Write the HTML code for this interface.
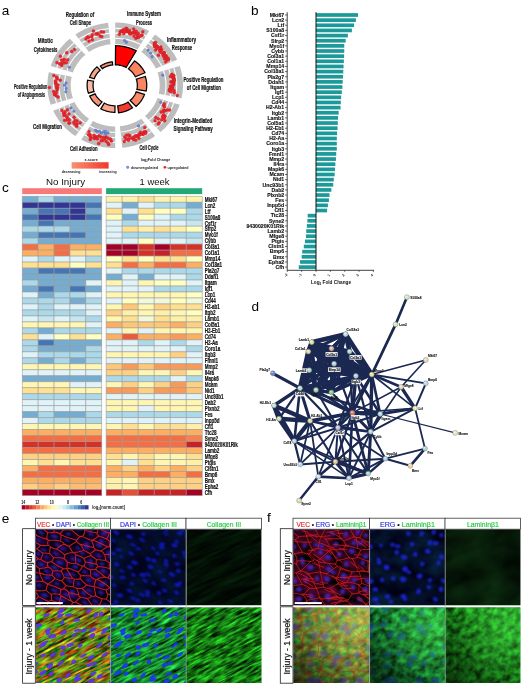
<!DOCTYPE html>
<html lang="en">
<head>
<meta charset="utf-8">
<title>Figure</title>
<style>
html,body{margin:0;padding:0;background:#fff;}
body{width:522px;height:685px;overflow:hidden;font-family:'Liberation Sans', 'DejaVu Sans', sans-serif;}
svg{display:block;}
svg text{font-family:'Liberation Sans', 'DejaVu Sans', sans-serif;}
</style>
</head>
<body>
<svg width="522" height="685" viewBox="0 0 522 685">
<rect x="0" y="0" width="522" height="685" fill="#ffffff"/>
<g id="panel-a">
<text x="1.70" y="14.70" font-size="13.6" text-anchor="start" fill="#000">a</text>
<path d="M115.20,22.50 L118.16,22.56 L121.11,22.74 L124.05,23.04 L126.98,23.45 L129.88,23.99 L132.75,24.64 L135.60,25.41 L138.40,26.29 L141.16,27.28 L143.86,28.38 L146.52,29.60 L149.11,30.91 L137.45,49.62 L135.75,48.76 L134.00,47.96 L132.23,47.24 L130.42,46.58 L128.58,46.01 L126.72,45.50 L124.83,45.08 L122.93,44.73 L121.01,44.45 L119.08,44.26 L117.14,44.14 L115.20,44.10Z" fill="#bdbdbd"/>
<path d="M115.20,38.30 L117.41,38.34 L119.62,38.48 L121.83,38.70 L124.01,39.01 L126.19,39.41 L128.34,39.90 L130.46,40.48 L132.56,41.13 L134.63,41.88 L136.65,42.70 L138.64,43.61 L140.58,44.60" fill="none" stroke="#ffffff" stroke-width="1.1"/>
<path d="M115.20,33.10 L117.66,33.15 L120.11,33.30 L122.56,33.55 L124.99,33.89 L127.40,34.34 L129.79,34.88 L132.15,35.52 L134.48,36.25 L136.77,37.07 L139.03,37.99 L141.23,39.00 L143.39,40.09" fill="none" stroke="#ffffff" stroke-width="1.1"/>
<path d="M115.20,28.30 L117.89,28.35 L120.57,28.52 L123.24,28.79 L125.89,29.17 L128.52,29.65 L131.13,30.24 L133.71,30.94 L136.25,31.74 L138.76,32.64 L141.22,33.64 L143.63,34.74 L145.98,35.94" fill="none" stroke="#ffffff" stroke-width="1.1"/>
<path d="M115.57,45.70 L117.38,45.75 L119.18,45.87 L120.97,46.06 L122.75,46.32 L124.52,46.65 L126.27,47.05 L128.00,47.52 L129.71,48.05 L131.39,48.65 L133.05,49.31 L134.67,50.04 L136.26,50.83 L126.10,67.46 L125.28,67.05 L124.44,66.67 L123.58,66.33 L122.71,66.02 L121.83,65.74 L120.93,65.50 L120.02,65.29 L119.11,65.12 L118.19,64.99 L117.26,64.89 L116.33,64.83 L115.39,64.80Z" fill="#ff0000" stroke="#000" stroke-width="1.25" stroke-linejoin="miter"/>
<path d="M155.07,34.49 L157.42,36.15 L159.70,37.90 L161.89,39.75 L163.99,41.68 L166.00,43.69 L167.91,45.78 L169.72,47.95 L171.43,50.18 L173.03,52.49 L174.52,54.85 L175.90,57.28 L177.16,59.76 L155.85,68.54 L155.02,66.92 L154.12,65.33 L153.14,63.77 L152.09,62.26 L150.97,60.79 L149.78,59.37 L148.53,58.00 L147.21,56.68 L145.83,55.41 L144.39,54.21 L142.90,53.06 L141.35,51.97Z" fill="#bdbdbd"/>
<path d="M145.04,47.28 L146.80,48.52 L148.50,49.83 L150.14,51.21 L151.71,52.65 L153.22,54.16 L154.65,55.72 L156.00,57.34 L157.28,59.02 L158.48,60.74 L159.60,62.51 L160.63,64.33 L161.57,66.18" fill="none" stroke="#ffffff" stroke-width="1.1"/>
<path d="M148.34,43.07 L150.29,44.45 L152.19,45.90 L154.01,47.44 L155.75,49.04 L157.42,50.71 L159.01,52.45 L160.52,54.25 L161.94,56.11 L163.27,58.03 L164.51,59.99 L165.65,62.01 L166.70,64.07" fill="none" stroke="#ffffff" stroke-width="1.1"/>
<path d="M151.38,39.19 L153.52,40.69 L155.59,42.28 L157.58,43.95 L159.48,45.70 L161.31,47.53 L163.04,49.43 L164.69,51.40 L166.24,53.43 L167.69,55.52 L169.04,57.67 L170.29,59.87 L171.44,62.12" fill="none" stroke="#ffffff" stroke-width="1.1"/>
<path d="M134.66,60.94 L135.76,61.72 L136.81,62.55 L137.83,63.41 L138.81,64.32 L139.74,65.26 L140.63,66.23 L141.48,67.24 L142.28,68.28 L143.03,69.36 L143.73,70.46 L144.38,71.58 L144.98,72.73 L135.35,76.80 L134.94,76.02 L134.50,75.26 L134.03,74.51 L133.52,73.79 L132.98,73.08 L132.41,72.40 L131.80,71.74 L131.17,71.10 L130.51,70.49 L129.82,69.91 L129.11,69.35 L128.37,68.82Z" fill="#f9825f" stroke="#000" stroke-width="1.25" stroke-linejoin="miter"/>
<path d="M179.70,65.89 L180.56,68.52 L181.29,71.17 L181.89,73.86 L182.36,76.56 L182.71,79.28 L182.93,82.01 L183.02,84.75 L182.98,87.49 L182.81,90.23 L182.52,92.95 L182.09,95.66 L181.54,98.36 L158.72,93.87 L159.09,92.10 L159.36,90.32 L159.56,88.53 L159.67,86.74 L159.69,84.94 L159.64,83.14 L159.49,81.35 L159.26,79.57 L158.95,77.79 L158.56,76.03 L158.08,74.29 L157.52,72.57Z" fill="#bdbdbd"/>
<path d="M163.48,70.78 L164.11,72.74 L164.66,74.73 L165.11,76.73 L165.47,78.76 L165.73,80.80 L165.89,82.84 L165.96,84.89 L165.93,86.94 L165.80,88.99 L165.58,91.03 L165.26,93.06 L164.85,95.07" fill="none" stroke="#ffffff" stroke-width="1.1"/>
<path d="M168.82,69.17 L169.53,71.35 L170.13,73.56 L170.63,75.79 L171.03,78.04 L171.32,80.30 L171.50,82.57 L171.57,84.84 L171.54,87.12 L171.40,89.40 L171.16,91.66 L170.80,93.92 L170.34,96.15" fill="none" stroke="#ffffff" stroke-width="1.1"/>
<path d="M173.75,67.69 L174.52,70.07 L175.18,72.48 L175.73,74.91 L176.16,77.37 L176.48,79.84 L176.68,82.32 L176.76,84.80 L176.72,87.29 L176.57,89.77 L176.30,92.25 L175.92,94.71 L175.41,97.15" fill="none" stroke="#ffffff" stroke-width="1.1"/>
<path d="M145.28,76.52 L145.65,77.70 L145.97,78.90 L146.23,80.10 L146.44,81.32 L146.60,82.54 L146.69,83.77 L146.73,85.00 L146.72,86.23 L146.65,87.46 L146.52,88.69 L146.34,89.91 L146.10,91.12 L136.90,89.39 L137.06,88.54 L137.19,87.68 L137.28,86.82 L137.33,85.96 L137.34,85.09 L137.31,84.23 L137.24,83.36 L137.13,82.51 L136.99,81.65 L136.80,80.80 L136.58,79.97 L136.32,79.14Z" fill="#fa8563" stroke="#000" stroke-width="1.25" stroke-linejoin="miter"/>
<path d="M179.70,104.71 L178.73,107.29 L177.63,109.84 L176.42,112.34 L175.09,114.78 L173.64,117.17 L172.08,119.50 L170.42,121.77 L168.65,123.96 L166.77,126.09 L164.80,128.13 L162.74,130.09 L160.58,131.97 L144.97,115.92 L146.39,114.69 L147.74,113.40 L149.04,112.06 L150.26,110.67 L151.42,109.22 L152.52,107.74 L153.54,106.21 L154.49,104.64 L155.36,103.04 L156.16,101.40 L156.88,99.73 L157.52,98.03Z" fill="#bdbdbd"/>
<path d="M163.48,99.82 L162.75,101.76 L161.92,103.66 L161.02,105.53 L160.02,107.37 L158.94,109.15 L157.77,110.90 L156.52,112.59 L155.20,114.24 L153.80,115.82 L152.32,117.35 L150.78,118.82 L149.17,120.23" fill="none" stroke="#ffffff" stroke-width="1.1"/>
<path d="M168.82,101.43 L168.01,103.58 L167.09,105.70 L166.08,107.77 L164.98,109.81 L163.78,111.79 L162.48,113.73 L161.10,115.61 L159.62,117.44 L158.07,119.20 L156.43,120.90 L154.71,122.53 L152.92,124.09" fill="none" stroke="#ffffff" stroke-width="1.1"/>
<path d="M173.75,102.91 L172.86,105.26 L171.87,107.57 L170.76,109.84 L169.55,112.06 L168.24,114.23 L166.83,116.34 L165.32,118.40 L163.71,120.39 L162.01,122.32 L160.22,124.17 L158.35,125.96 L156.39,127.66" fill="none" stroke="#ffffff" stroke-width="1.1"/>
<path d="M144.49,94.37 L144.05,95.51 L143.56,96.63 L143.02,97.73 L142.43,98.80 L141.79,99.85 L141.10,100.88 L140.37,101.87 L139.60,102.84 L138.77,103.78 L137.91,104.68 L137.01,105.55 L136.07,106.39 L130.16,100.41 L130.83,99.82 L131.48,99.19 L132.10,98.55 L132.69,97.87 L133.24,97.18 L133.77,96.47 L134.26,95.73 L134.72,94.98 L135.14,94.21 L135.53,93.42 L135.88,92.62 L136.20,91.80Z" fill="#f98a69" stroke="#000" stroke-width="1.25" stroke-linejoin="miter"/>
<path d="M155.07,136.11 L152.63,137.67 L150.13,139.13 L147.56,140.49 L144.93,141.74 L142.24,142.89 L139.51,143.93 L136.72,144.85 L133.89,145.67 L131.03,146.36 L128.14,146.95 L125.23,147.41 L122.29,147.76 L119.85,126.27 L121.78,126.05 L123.69,125.74 L125.59,125.36 L127.46,124.90 L129.32,124.37 L131.15,123.76 L132.94,123.08 L134.71,122.33 L136.43,121.51 L138.12,120.62 L139.76,119.66 L141.35,118.63Z" fill="#bdbdbd"/>
<path d="M145.04,123.32 L143.22,124.49 L141.34,125.59 L139.42,126.60 L137.45,127.54 L135.44,128.40 L133.39,129.18 L131.31,129.87 L129.19,130.48 L127.05,131.00 L124.89,131.44 L122.70,131.78 L120.51,132.04" fill="none" stroke="#ffffff" stroke-width="1.1"/>
<path d="M148.34,127.53 L146.32,128.83 L144.24,130.04 L142.10,131.17 L139.91,132.22 L137.68,133.17 L135.40,134.03 L133.09,134.80 L130.74,135.48 L128.36,136.06 L125.96,136.54 L123.53,136.93 L121.09,137.21" fill="none" stroke="#ffffff" stroke-width="1.1"/>
<path d="M151.38,131.41 L149.18,132.83 L146.91,134.16 L144.57,135.39 L142.19,136.53 L139.75,137.57 L137.26,138.51 L134.73,139.35 L132.17,140.09 L129.57,140.73 L126.95,141.25 L124.30,141.67 L121.63,141.99" fill="none" stroke="#ffffff" stroke-width="1.1"/>
<path d="M132.51,107.77 L131.47,108.43 L130.40,109.04 L129.31,109.61 L128.19,110.14 L127.05,110.63 L125.88,111.07 L124.70,111.46 L123.50,111.81 L122.28,112.11 L121.06,112.36 L119.82,112.57 L118.57,112.72 L117.71,105.67 L118.63,105.55 L119.55,105.40 L120.46,105.21 L121.36,104.99 L122.26,104.73 L123.13,104.44 L124.00,104.11 L124.85,103.75 L125.68,103.36 L126.49,102.93 L127.29,102.48 L128.06,101.99Z" fill="#f4392f" stroke="#000" stroke-width="1.25" stroke-linejoin="miter"/>
<path d="M115.20,148.10 L112.24,148.04 L109.29,147.86 L106.35,147.56 L103.42,147.15 L100.52,146.61 L97.65,145.96 L94.80,145.19 L92.00,144.31 L89.24,143.32 L86.54,142.22 L83.88,141.00 L81.29,139.69 L92.95,120.98 L94.65,121.84 L96.40,122.64 L98.17,123.36 L99.98,124.02 L101.82,124.59 L103.68,125.10 L105.57,125.52 L107.47,125.87 L109.39,126.15 L111.32,126.34 L113.26,126.46 L115.20,126.50Z" fill="#bdbdbd"/>
<path d="M115.20,132.30 L112.99,132.26 L110.78,132.12 L108.57,131.90 L106.39,131.59 L104.21,131.19 L102.06,130.70 L99.94,130.12 L97.84,129.47 L95.77,128.72 L93.75,127.90 L91.76,126.99 L89.82,126.00" fill="none" stroke="#ffffff" stroke-width="1.1"/>
<path d="M115.20,137.50 L112.74,137.45 L110.29,137.30 L107.84,137.05 L105.41,136.71 L103.00,136.26 L100.61,135.72 L98.25,135.08 L95.92,134.35 L93.63,133.53 L91.37,132.61 L89.17,131.60 L87.01,130.51" fill="none" stroke="#ffffff" stroke-width="1.1"/>
<path d="M115.20,142.30 L112.51,142.25 L109.83,142.08 L107.16,141.81 L104.51,141.43 L101.88,140.95 L99.27,140.36 L96.69,139.66 L94.15,138.86 L91.64,137.96 L89.18,136.96 L86.77,135.86 L84.42,134.66" fill="none" stroke="#ffffff" stroke-width="1.1"/>
<path d="M114.95,112.30 L113.72,112.27 L112.49,112.18 L111.27,112.05 L110.05,111.88 L108.85,111.65 L107.65,111.38 L106.47,111.06 L105.31,110.70 L104.16,110.29 L103.03,109.84 L101.92,109.34 L100.84,108.80 L104.30,103.14 L105.12,103.55 L105.96,103.93 L106.82,104.27 L107.69,104.58 L108.57,104.86 L109.47,105.10 L110.38,105.31 L111.29,105.48 L112.21,105.61 L113.14,105.71 L114.07,105.77 L115.01,105.80Z" fill="#f9a68b" stroke="#000" stroke-width="1.25" stroke-linejoin="miter"/>
<path d="M75.33,136.11 L72.98,134.45 L70.70,132.70 L68.51,130.85 L66.41,128.92 L64.40,126.91 L62.49,124.82 L60.68,122.65 L58.97,120.42 L57.37,118.11 L55.88,115.75 L54.50,113.32 L53.24,110.84 L74.55,102.06 L75.38,103.68 L76.28,105.27 L77.26,106.83 L78.31,108.34 L79.43,109.81 L80.62,111.23 L81.87,112.60 L83.19,113.92 L84.57,115.19 L86.01,116.39 L87.50,117.54 L89.05,118.63Z" fill="#bdbdbd"/>
<path d="M85.36,123.32 L83.60,122.08 L81.90,120.77 L80.26,119.39 L78.69,117.95 L77.18,116.44 L75.75,114.88 L74.40,113.26 L73.12,111.58 L71.92,109.86 L70.80,108.09 L69.77,106.27 L68.83,104.42" fill="none" stroke="#ffffff" stroke-width="1.1"/>
<path d="M82.06,127.53 L80.11,126.15 L78.21,124.70 L76.39,123.16 L74.65,121.56 L72.98,119.89 L71.39,118.15 L69.88,116.35 L68.46,114.49 L67.13,112.57 L65.89,110.61 L64.75,108.59 L63.70,106.53" fill="none" stroke="#ffffff" stroke-width="1.1"/>
<path d="M79.02,131.41 L76.88,129.91 L74.81,128.32 L72.82,126.65 L70.92,124.90 L69.09,123.07 L67.36,121.17 L65.71,119.20 L64.16,117.17 L62.71,115.08 L61.36,112.93 L60.11,110.73 L58.96,108.48" fill="none" stroke="#ffffff" stroke-width="1.1"/>
<path d="M98.50,106.20 L97.56,105.53 L96.65,104.82 L95.78,104.08 L94.94,103.31 L94.14,102.50 L93.38,101.66 L92.65,100.80 L91.97,99.90 L91.32,98.98 L90.72,98.04 L90.16,97.07 L89.65,96.08 L95.05,93.80 L95.46,94.58 L95.90,95.34 L96.37,96.09 L96.88,96.81 L97.42,97.52 L97.99,98.20 L98.60,98.86 L99.23,99.50 L99.89,100.11 L100.58,100.69 L101.29,101.25 L102.03,101.78Z" fill="#f7917a" stroke="#000" stroke-width="1.25" stroke-linejoin="miter"/>
<path d="M50.70,104.71 L49.84,102.08 L49.11,99.43 L48.51,96.74 L48.04,94.04 L47.69,91.32 L47.47,88.59 L47.38,85.85 L47.42,83.11 L47.59,80.37 L47.88,77.65 L48.31,74.94 L48.86,72.24 L71.68,76.73 L71.31,78.50 L71.04,80.28 L70.84,82.07 L70.73,83.86 L70.71,85.66 L70.76,87.46 L70.91,89.25 L71.14,91.03 L71.45,92.81 L71.84,94.57 L72.32,96.31 L72.88,98.03Z" fill="#bdbdbd"/>
<path d="M66.92,99.82 L66.29,97.86 L65.74,95.87 L65.29,93.87 L64.93,91.84 L64.67,89.80 L64.51,87.76 L64.44,85.71 L64.47,83.66 L64.60,81.61 L64.82,79.57 L65.14,77.54 L65.55,75.53" fill="none" stroke="#ffffff" stroke-width="1.1"/>
<path d="M61.58,101.43 L60.87,99.25 L60.27,97.04 L59.77,94.81 L59.37,92.56 L59.08,90.30 L58.90,88.03 L58.83,85.76 L58.86,83.48 L59.00,81.20 L59.24,78.94 L59.60,76.68 L60.06,74.45" fill="none" stroke="#ffffff" stroke-width="1.1"/>
<path d="M56.65,102.91 L55.88,100.53 L55.22,98.12 L54.67,95.69 L54.24,93.23 L53.92,90.76 L53.72,88.28 L53.64,85.80 L53.68,83.31 L53.83,80.83 L54.10,78.35 L54.48,75.89 L54.99,73.45" fill="none" stroke="#ffffff" stroke-width="1.1"/>
<path d="M88.42,93.12 L88.09,92.07 L87.80,91.00 L87.57,89.93 L87.38,88.84 L87.25,87.75 L87.16,86.66 L87.12,85.56 L87.13,84.47 L87.20,83.37 L87.31,82.28 L87.47,81.20 L87.68,80.12 L93.50,81.21 L93.34,82.06 L93.21,82.92 L93.12,83.78 L93.07,84.64 L93.06,85.51 L93.09,86.37 L93.16,87.24 L93.27,88.09 L93.41,88.95 L93.60,89.80 L93.82,90.63 L94.08,91.46Z" fill="#fbbaa5" stroke="#000" stroke-width="1.25" stroke-linejoin="miter"/>
<path d="M50.70,65.89 L51.67,63.31 L52.77,60.76 L53.98,58.26 L55.31,55.82 L56.76,53.43 L58.32,51.10 L59.98,48.83 L61.75,46.64 L63.63,44.51 L65.60,42.47 L67.66,40.51 L69.82,38.63 L85.43,54.68 L84.01,55.91 L82.66,57.20 L81.36,58.54 L80.14,59.93 L78.98,61.38 L77.88,62.86 L76.86,64.39 L75.91,65.96 L75.04,67.56 L74.24,69.20 L73.52,70.87 L72.88,72.57Z" fill="#bdbdbd"/>
<path d="M66.92,70.78 L67.65,68.84 L68.48,66.94 L69.38,65.07 L70.38,63.23 L71.46,61.45 L72.63,59.70 L73.88,58.01 L75.20,56.36 L76.60,54.78 L78.08,53.25 L79.62,51.78 L81.23,50.37" fill="none" stroke="#ffffff" stroke-width="1.1"/>
<path d="M61.58,69.17 L62.39,67.02 L63.31,64.90 L64.32,62.83 L65.42,60.79 L66.62,58.81 L67.92,56.87 L69.30,54.99 L70.78,53.16 L72.33,51.40 L73.97,49.70 L75.69,48.07 L77.48,46.51" fill="none" stroke="#ffffff" stroke-width="1.1"/>
<path d="M56.65,67.69 L57.54,65.34 L58.53,63.03 L59.64,60.76 L60.85,58.54 L62.16,56.37 L63.57,54.26 L65.08,52.20 L66.69,50.21 L68.39,48.28 L70.18,46.43 L72.05,44.64 L74.01,42.94" fill="none" stroke="#ffffff" stroke-width="1.1"/>
<path d="M89.60,77.37 L89.98,76.37 L90.41,75.40 L90.88,74.44 L91.40,73.50 L91.96,72.58 L92.56,71.68 L93.20,70.81 L93.88,69.97 L94.59,69.15 L95.35,68.36 L96.14,67.60 L96.96,66.87 L100.24,70.19 L99.57,70.78 L98.92,71.41 L98.30,72.05 L97.71,72.73 L97.16,73.42 L96.63,74.13 L96.14,74.87 L95.68,75.62 L95.26,76.39 L94.87,77.18 L94.52,77.98 L94.20,78.80Z" fill="#f8a38b" stroke="#000" stroke-width="1.25" stroke-linejoin="miter"/>
<path d="M75.33,34.49 L77.77,32.93 L80.27,31.47 L82.84,30.11 L85.47,28.86 L88.16,27.71 L90.89,26.67 L93.68,25.75 L96.51,24.93 L99.37,24.24 L102.26,23.65 L105.17,23.19 L108.11,22.84 L110.55,44.33 L108.62,44.55 L106.71,44.86 L104.81,45.24 L102.94,45.70 L101.08,46.23 L99.25,46.84 L97.46,47.52 L95.69,48.27 L93.97,49.09 L92.28,49.98 L90.64,50.94 L89.05,51.97Z" fill="#bdbdbd"/>
<path d="M85.36,47.28 L87.18,46.11 L89.06,45.01 L90.98,44.00 L92.95,43.06 L94.96,42.20 L97.01,41.42 L99.09,40.73 L101.21,40.12 L103.35,39.60 L105.51,39.16 L107.70,38.82 L109.89,38.56" fill="none" stroke="#ffffff" stroke-width="1.1"/>
<path d="M82.06,43.07 L84.08,41.77 L86.16,40.56 L88.30,39.43 L90.49,38.38 L92.72,37.43 L95.00,36.57 L97.31,35.80 L99.66,35.12 L102.04,34.54 L104.44,34.06 L106.87,33.67 L109.31,33.39" fill="none" stroke="#ffffff" stroke-width="1.1"/>
<path d="M79.02,39.19 L81.22,37.77 L83.49,36.44 L85.83,35.21 L88.21,34.07 L90.65,33.03 L93.14,32.09 L95.67,31.25 L98.23,30.51 L100.83,29.87 L103.45,29.35 L106.10,28.93 L108.77,28.61" fill="none" stroke="#ffffff" stroke-width="1.1"/>
<path d="M100.40,66.09 L101.29,65.53 L102.20,65.00 L103.14,64.51 L104.09,64.06 L105.07,63.64 L106.07,63.27 L107.08,62.93 L108.10,62.63 L109.14,62.38 L110.19,62.16 L111.25,61.99 L112.31,61.85 L112.69,64.93 L111.77,65.05 L110.85,65.20 L109.94,65.39 L109.04,65.61 L108.14,65.87 L107.27,66.16 L106.40,66.49 L105.55,66.85 L104.72,67.24 L103.91,67.67 L103.11,68.12 L102.34,68.61Z" fill="#f18c79" stroke="#000" stroke-width="1.25" stroke-linejoin="miter"/>
<g fill="#e9282e" stroke="#c8181e" stroke-width="0.35"><circle cx="119.35" cy="34.26" r="1.5"/><circle cx="120.24" cy="31.89" r="1.5"/><circle cx="121.01" cy="31.40" r="1.5"/><circle cx="121.74" cy="31.07" r="1.5"/><circle cx="122.63" cy="30.30" r="1.5"/><circle cx="122.96" cy="31.39" r="1.5"/><circle cx="123.78" cy="29.59" r="1.5"/><circle cx="123.84" cy="33.43" r="1.5"/><circle cx="126.14" cy="28.29" r="1.5"/><circle cx="125.95" cy="31.62" r="1.5"/><circle cx="126.92" cy="28.81" r="1.5"/><circle cx="127.11" cy="30.99" r="1.5"/><circle cx="127.85" cy="31.33" r="1.5"/><circle cx="128.83" cy="31.08" r="1.5"/><circle cx="129.71" cy="30.46" r="1.5"/><circle cx="129.68" cy="33.74" r="1.5"/><circle cx="130.48" cy="33.08" r="1.5"/><circle cx="130.80" cy="33.88" r="1.5"/><circle cx="133.62" cy="28.99" r="1.5"/><circle cx="132.93" cy="32.70" r="1.5"/><circle cx="133.43" cy="32.54" r="1.5"/><circle cx="134.40" cy="31.40" r="1.5"/><circle cx="133.93" cy="36.05" r="1.5"/><circle cx="136.20" cy="31.34" r="1.5"/><circle cx="136.47" cy="33.69" r="1.5"/><circle cx="136.60" cy="33.83" r="1.5"/><circle cx="135.89" cy="38.36" r="1.5"/><circle cx="138.46" cy="33.39" r="1.5"/><circle cx="137.53" cy="36.57" r="1.5"/><circle cx="138.21" cy="36.99" r="1.5"/><circle cx="138.70" cy="37.23" r="1.5"/><circle cx="142.83" cy="31.63" r="1.5"/><circle cx="141.09" cy="35.55" r="1.5"/><circle cx="142.09" cy="35.06" r="1.5"/><circle cx="154.39" cy="43.01" r="1.5"/><circle cx="155.64" cy="42.46" r="1.5"/><circle cx="154.38" cy="44.66" r="1.5"/><circle cx="154.58" cy="46.08" r="1.5"/><circle cx="154.74" cy="46.44" r="1.5"/><circle cx="156.82" cy="45.69" r="1.5"/><circle cx="157.75" cy="46.69" r="1.5"/><circle cx="156.58" cy="48.69" r="1.5"/><circle cx="155.60" cy="49.89" r="1.5"/><circle cx="160.76" cy="46.93" r="1.5"/><circle cx="160.19" cy="47.90" r="1.5"/><circle cx="159.63" cy="49.54" r="1.5"/><circle cx="159.85" cy="50.87" r="1.5"/><circle cx="161.90" cy="49.60" r="1.5"/><circle cx="160.11" cy="51.95" r="1.5"/><circle cx="161.34" cy="52.50" r="1.5"/><circle cx="158.47" cy="55.22" r="1.5"/><circle cx="164.18" cy="52.34" r="1.5"/><circle cx="164.17" cy="53.38" r="1.5"/><circle cx="162.85" cy="54.77" r="1.5"/><circle cx="165.07" cy="55.00" r="1.5"/><circle cx="163.38" cy="56.28" r="1.5"/><circle cx="166.44" cy="55.87" r="1.5"/><circle cx="165.38" cy="57.56" r="1.5"/><circle cx="164.66" cy="58.76" r="1.5"/><circle cx="165.12" cy="58.70" r="1.5"/><circle cx="168.04" cy="57.99" r="1.5"/><circle cx="167.02" cy="59.96" r="1.5"/><circle cx="168.71" cy="59.62" r="1.5"/><circle cx="165.61" cy="61.96" r="1.5"/><circle cx="171.93" cy="74.25" r="1.5"/><circle cx="171.54" cy="75.04" r="1.5"/><circle cx="173.89" cy="75.55" r="1.5"/><circle cx="170.48" cy="76.59" r="1.5"/><circle cx="172.76" cy="77.35" r="1.5"/><circle cx="173.02" cy="77.55" r="1.5"/><circle cx="173.87" cy="78.25" r="1.5"/><circle cx="173.32" cy="78.94" r="1.5"/><circle cx="174.17" cy="79.68" r="1.5"/><circle cx="174.36" cy="80.57" r="1.5"/><circle cx="171.60" cy="81.50" r="1.5"/><circle cx="170.84" cy="81.95" r="1.5"/><circle cx="173.55" cy="82.16" r="1.5"/><circle cx="173.34" cy="83.36" r="1.5"/><circle cx="173.65" cy="83.88" r="1.5"/><circle cx="173.21" cy="84.52" r="1.5"/><circle cx="173.11" cy="85.09" r="1.5"/><circle cx="171.70" cy="86.08" r="1.5"/><circle cx="170.42" cy="86.11" r="1.5"/><circle cx="172.40" cy="87.35" r="1.5"/><circle cx="172.30" cy="87.90" r="1.5"/><circle cx="170.07" cy="88.54" r="1.5"/><circle cx="171.60" cy="88.92" r="1.5"/><circle cx="169.47" cy="89.74" r="1.5"/><circle cx="173.96" cy="90.48" r="1.5"/><circle cx="169.43" cy="90.81" r="1.5"/><circle cx="171.09" cy="91.67" r="1.5"/><circle cx="174.40" cy="92.73" r="1.5"/><circle cx="177.21" cy="95.42" r="1.5"/><circle cx="164.23" cy="103.73" r="1.5"/><circle cx="163.48" cy="105.36" r="1.5"/><circle cx="164.59" cy="106.76" r="1.5"/><circle cx="169.53" cy="109.96" r="1.5"/><circle cx="167.14" cy="109.92" r="1.5"/><circle cx="165.11" cy="110.51" r="1.5"/><circle cx="163.68" cy="110.11" r="1.5"/><circle cx="163.56" cy="111.48" r="1.5"/><circle cx="161.16" cy="111.90" r="1.5"/><circle cx="163.48" cy="114.79" r="1.5"/><circle cx="165.04" cy="116.18" r="1.5"/><circle cx="162.41" cy="116.40" r="1.5"/><circle cx="164.13" cy="118.26" r="1.5"/><circle cx="164.76" cy="120.78" r="1.5"/><circle cx="161.75" cy="119.72" r="1.5"/><circle cx="158.34" cy="118.84" r="1.5"/><circle cx="155.82" cy="117.57" r="1.5"/><circle cx="159.18" cy="122.75" r="1.5"/><circle cx="155.11" cy="120.63" r="1.5"/><circle cx="158.25" cy="124.08" r="1.5"/><circle cx="144.74" cy="127.62" r="1.5"/><circle cx="145.59" cy="131.72" r="1.5"/><circle cx="145.65" cy="133.37" r="1.5"/><circle cx="144.16" cy="131.83" r="1.5"/><circle cx="143.22" cy="132.64" r="1.5"/><circle cx="143.19" cy="134.46" r="1.5"/><circle cx="140.59" cy="132.20" r="1.5"/><circle cx="140.40" cy="134.30" r="1.5"/><circle cx="139.01" cy="133.99" r="1.5"/><circle cx="139.41" cy="134.90" r="1.5"/><circle cx="138.90" cy="138.16" r="1.5"/><circle cx="137.33" cy="136.35" r="1.5"/><circle cx="136.37" cy="135.94" r="1.5"/><circle cx="135.43" cy="135.75" r="1.5"/><circle cx="135.67" cy="140.03" r="1.5"/><circle cx="133.83" cy="137.30" r="1.5"/><circle cx="133.66" cy="139.57" r="1.5"/><circle cx="131.80" cy="138.13" r="1.5"/><circle cx="129.86" cy="135.66" r="1.5"/><circle cx="128.40" cy="135.02" r="1.5"/><circle cx="128.65" cy="138.78" r="1.5"/><circle cx="128.51" cy="140.29" r="1.5"/><circle cx="126.52" cy="135.30" r="1.5"/><circle cx="126.19" cy="139.10" r="1.5"/><circle cx="124.71" cy="137.01" r="1.5"/><circle cx="124.22" cy="141.43" r="1.5"/><circle cx="111.42" cy="141.06" r="1.5"/><circle cx="110.41" cy="139.02" r="1.5"/><circle cx="108.71" cy="144.56" r="1.5"/><circle cx="108.01" cy="143.02" r="1.5"/><circle cx="108.22" cy="138.16" r="1.5"/><circle cx="105.98" cy="141.22" r="1.5"/><circle cx="106.24" cy="136.89" r="1.5"/><circle cx="104.54" cy="138.56" r="1.5"/><circle cx="103.67" cy="137.33" r="1.5"/><circle cx="102.69" cy="140.52" r="1.5"/><circle cx="101.04" cy="140.70" r="1.5"/><circle cx="101.01" cy="136.98" r="1.5"/><circle cx="98.68" cy="143.43" r="1.5"/><circle cx="99.10" cy="135.81" r="1.5"/><circle cx="97.47" cy="139.07" r="1.5"/><circle cx="96.83" cy="136.74" r="1.5"/><circle cx="95.54" cy="137.56" r="1.5"/><circle cx="94.58" cy="138.42" r="1.5"/><circle cx="93.67" cy="137.69" r="1.5"/><circle cx="94.17" cy="135.26" r="1.5"/><circle cx="90.32" cy="139.55" r="1.5"/><circle cx="90.73" cy="137.75" r="1.5"/><circle cx="90.12" cy="136.31" r="1.5"/><circle cx="89.95" cy="134.85" r="1.5"/><circle cx="88.53" cy="134.67" r="1.5"/><circle cx="88.99" cy="131.53" r="1.5"/><circle cx="80.14" cy="122.66" r="1.5"/><circle cx="76.67" cy="126.14" r="1.5"/><circle cx="77.12" cy="124.02" r="1.5"/><circle cx="74.97" cy="124.01" r="1.5"/><circle cx="76.97" cy="120.88" r="1.5"/><circle cx="73.81" cy="122.56" r="1.5"/><circle cx="75.05" cy="120.45" r="1.5"/><circle cx="69.57" cy="123.00" r="1.5"/><circle cx="68.95" cy="123.08" r="1.5"/><circle cx="74.06" cy="117.31" r="1.5"/><circle cx="69.21" cy="119.72" r="1.5"/><circle cx="67.22" cy="119.98" r="1.5"/><circle cx="64.62" cy="120.36" r="1.5"/><circle cx="67.14" cy="117.48" r="1.5"/><circle cx="66.68" cy="116.70" r="1.5"/><circle cx="68.93" cy="113.99" r="1.5"/><circle cx="63.97" cy="115.58" r="1.5"/><circle cx="64.71" cy="114.28" r="1.5"/><circle cx="63.48" cy="113.15" r="1.5"/><circle cx="65.20" cy="111.64" r="1.5"/><circle cx="67.35" cy="109.82" r="1.5"/><circle cx="61.85" cy="110.58" r="1.5"/><circle cx="58.11" cy="96.91" r="1.5"/><circle cx="56.17" cy="95.86" r="1.5"/><circle cx="54.71" cy="94.43" r="1.5"/><circle cx="54.56" cy="94.33" r="1.5"/><circle cx="56.34" cy="92.61" r="1.5"/><circle cx="53.66" cy="91.49" r="1.5"/><circle cx="57.11" cy="89.89" r="1.5"/><circle cx="56.94" cy="88.24" r="1.5"/><circle cx="57.77" cy="87.73" r="1.5"/><circle cx="56.34" cy="86.49" r="1.5"/><circle cx="57.97" cy="84.88" r="1.5"/><circle cx="55.52" cy="83.77" r="1.5"/><circle cx="55.61" cy="82.40" r="1.5"/><circle cx="55.30" cy="81.02" r="1.5"/><circle cx="60.24" cy="80.22" r="1.5"/><circle cx="57.36" cy="78.77" r="1.5"/><circle cx="56.54" cy="77.14" r="1.5"/><circle cx="53.96" cy="75.55" r="1.5"/><circle cx="49.36" cy="87.43" r="1.5"/><circle cx="61.80" cy="65.57" r="1.5"/><circle cx="59.61" cy="63.87" r="1.5"/><circle cx="56.98" cy="62.58" r="1.5"/><circle cx="61.81" cy="63.69" r="1.5"/><circle cx="62.39" cy="62.98" r="1.5"/><circle cx="64.10" cy="62.99" r="1.5"/><circle cx="66.40" cy="62.58" r="1.5"/><circle cx="61.44" cy="60.00" r="1.5"/><circle cx="63.86" cy="60.02" r="1.5"/><circle cx="64.39" cy="59.58" r="1.5"/><circle cx="60.43" cy="56.14" r="1.5"/><circle cx="67.68" cy="59.63" r="1.5"/><circle cx="71.77" cy="51.55" r="1.5"/><circle cx="74.46" cy="49.51" r="1.5"/><circle cx="66.71" cy="52.68" r="1.5"/><circle cx="85.94" cy="38.98" r="1.5"/><circle cx="89.00" cy="41.09" r="1.5"/><circle cx="87.44" cy="37.12" r="1.5"/><circle cx="88.75" cy="37.14" r="1.5"/><circle cx="92.37" cy="39.83" r="1.5"/><circle cx="91.71" cy="36.76" r="1.5"/><circle cx="92.26" cy="34.65" r="1.5"/><circle cx="93.42" cy="30.92" r="1.5"/><circle cx="96.02" cy="34.02" r="1.5"/><circle cx="97.43" cy="33.84" r="1.5"/><circle cx="98.19" cy="33.95" r="1.5"/><circle cx="100.23" cy="36.02" r="1.5"/><circle cx="101.77" cy="36.55" r="1.5"/><circle cx="101.18" cy="31.85" r="1.5"/><circle cx="103.58" cy="31.96" r="1.5"/></g>
<g fill="#6e8edc" stroke="#4262ba" stroke-width="0.45"><circle cx="124.60" cy="40.54" r="1.25"/><circle cx="126.34" cy="42.32" r="1.25"/><circle cx="148.15" cy="50.21" r="1.25"/><circle cx="150.63" cy="53.06" r="1.25"/><circle cx="152.10" cy="56.63" r="1.25"/><circle cx="162.76" cy="75.13" r="1.25"/><circle cx="160.76" cy="102.34" r="1.25"/><circle cx="138.52" cy="125.92" r="1.25"/><circle cx="107.99" cy="132.83" r="1.25"/><circle cx="105.44" cy="134.07" r="1.25"/><circle cx="103.64" cy="131.68" r="1.25"/><circle cx="101.39" cy="133.02" r="1.25"/><circle cx="99.55" cy="131.27" r="1.25"/><circle cx="97.10" cy="131.34" r="1.25"/><circle cx="105.51" cy="131.44" r="1.25"/><circle cx="95.58" cy="130.27" r="1.25"/><circle cx="73.83" cy="111.13" r="1.25"/><circle cx="70.99" cy="107.99" r="1.25"/><circle cx="65.79" cy="91.73" r="1.25"/><circle cx="66.07" cy="88.48" r="1.25"/><circle cx="64.44" cy="85.30" r="1.25"/><circle cx="66.02" cy="82.91" r="1.25"/><circle cx="69.27" cy="67.25" r="1.25"/></g>
<text x="127.00" y="16.30" font-size="6.4" text-anchor="start" fill="#141414" font-weight="bold" textLength="34.00" lengthAdjust="spacingAndGlyphs" stroke="#141414" stroke-width="0.22">Immune System</text>
<text x="136.00" y="24.50" font-size="6.4" text-anchor="start" fill="#141414" font-weight="bold" textLength="16.00" lengthAdjust="spacingAndGlyphs" stroke="#141414" stroke-width="0.22">Process</text>
<text x="166.90" y="42.40" font-size="6.4" text-anchor="start" fill="#141414" font-weight="bold" textLength="29.20" lengthAdjust="spacingAndGlyphs" stroke="#141414" stroke-width="0.22">Inflammatory</text>
<text x="171.80" y="49.90" font-size="6.4" text-anchor="start" fill="#141414" font-weight="bold" textLength="20.40" lengthAdjust="spacingAndGlyphs" stroke="#141414" stroke-width="0.22">Response</text>
<text x="183.50" y="82.10" font-size="6.4" text-anchor="start" fill="#141414" font-weight="bold" textLength="40.00" lengthAdjust="spacingAndGlyphs" stroke="#141414" stroke-width="0.22">Positive Regulation</text>
<text x="186.80" y="90.00" font-size="6.4" text-anchor="start" fill="#141414" font-weight="bold" textLength="34.20" lengthAdjust="spacingAndGlyphs" stroke="#141414" stroke-width="0.22">of Cell Migration</text>
<text x="173.70" y="123.10" font-size="6.4" text-anchor="start" fill="#141414" font-weight="bold" textLength="38.60" lengthAdjust="spacingAndGlyphs" stroke="#141414" stroke-width="0.22">Integrin-Mediated</text>
<text x="173.60" y="130.60" font-size="6.4" text-anchor="start" fill="#141414" font-weight="bold" textLength="39.00" lengthAdjust="spacingAndGlyphs" stroke="#141414" stroke-width="0.22">Signaling Pathway</text>
<text x="139.40" y="149.80" font-size="6.4" text-anchor="start" fill="#141414" font-weight="bold" textLength="19.20" lengthAdjust="spacingAndGlyphs" stroke="#141414" stroke-width="0.22">Cell Cycle</text>
<text x="70.00" y="151.10" font-size="6.4" text-anchor="start" fill="#141414" font-weight="bold" textLength="27.60" lengthAdjust="spacingAndGlyphs" stroke="#141414" stroke-width="0.22">Cell Adhesion</text>
<text x="33.00" y="129.30" font-size="6.4" text-anchor="start" fill="#141414" font-weight="bold" textLength="29.00" lengthAdjust="spacingAndGlyphs" stroke="#141414" stroke-width="0.22">Cell Migration</text>
<text x="13.90" y="88.90" font-size="6.4" text-anchor="start" fill="#141414" font-weight="bold" textLength="33.40" lengthAdjust="spacingAndGlyphs" stroke="#141414" stroke-width="0.22">Positive Regulation</text>
<text x="17.80" y="96.60" font-size="6.4" text-anchor="start" fill="#141414" font-weight="bold" textLength="27.20" lengthAdjust="spacingAndGlyphs" stroke="#141414" stroke-width="0.22">of Angiogenesis</text>
<text x="37.80" y="43.40" font-size="6.4" text-anchor="start" fill="#141414" font-weight="bold" textLength="15.00" lengthAdjust="spacingAndGlyphs" stroke="#141414" stroke-width="0.22">Mitotic</text>
<text x="33.75" y="52.10" font-size="6.4" text-anchor="start" fill="#141414" font-weight="bold" textLength="23.50" lengthAdjust="spacingAndGlyphs" stroke="#141414" stroke-width="0.22">Cytokinesis</text>
<text x="65.80" y="17.10" font-size="6.4" text-anchor="start" fill="#141414" font-weight="bold" textLength="28.40" lengthAdjust="spacingAndGlyphs" stroke="#141414" stroke-width="0.22">Regulation of</text>
<text x="69.80" y="24.80" font-size="6.4" text-anchor="start" fill="#141414" font-weight="bold" textLength="21.20" lengthAdjust="spacingAndGlyphs" stroke="#141414" stroke-width="0.22">Cell Shape</text>
<defs><linearGradient id="zg" x1="0" x2="1" y1="0" y2="0"><stop offset="0" stop-color="#fa9072"/><stop offset="1" stop-color="#ee3a2b"/></linearGradient></defs>
<rect x="71.6" y="162.2" width="37" height="6.4" fill="url(#zg)"/>
<text x="84.60" y="161.10" font-size="4.2" text-anchor="start" fill="#222" font-weight="bold" textLength="13.20" lengthAdjust="spacingAndGlyphs">z-score</text>
<text x="61.70" y="172.80" font-size="4.2" text-anchor="start" fill="#222" font-weight="bold" textLength="18.80" lengthAdjust="spacingAndGlyphs">decreasing</text>
<text x="99.20" y="172.80" font-size="4.2" text-anchor="start" fill="#222" font-weight="bold" textLength="17.50" lengthAdjust="spacingAndGlyphs">increasing</text>
<text x="140.80" y="160.60" font-size="4.2" text-anchor="start" fill="#222" font-weight="bold" textLength="29.50" lengthAdjust="spacingAndGlyphs">log<tspan font-size="3" dy="0.9">2</tspan><tspan dy="-0.9">Fold Change</tspan></text>
<circle cx="127.7" cy="167.3" r="1.25" fill="#7a9ee6" stroke="#4a72c8" stroke-width="0.45"/>
<text x="130.90" y="168.70" font-size="4.2" text-anchor="start" fill="#222" font-weight="bold" textLength="27.30" lengthAdjust="spacingAndGlyphs">downregulated</text>
<circle cx="164.9" cy="167.3" r="1.35" fill="#e8262a"/>
<text x="167.60" y="168.70" font-size="4.2" text-anchor="start" fill="#222" font-weight="bold" textLength="20.90" lengthAdjust="spacingAndGlyphs">upregulated</text>
</g>
<g id="panel-b">
<text x="251.00" y="15.00" font-size="13.6" text-anchor="start" fill="#000">b</text>
<text x="284.20" y="16.80" font-size="5.2" text-anchor="end" fill="#111" font-weight="bold" stroke="#111" stroke-width="0.12">Mki67</text>
<text x="284.20" y="21.95" font-size="5.2" text-anchor="end" fill="#111" font-weight="bold" stroke="#111" stroke-width="0.12">Lcn2</text>
<text x="284.20" y="27.09" font-size="5.2" text-anchor="end" fill="#111" font-weight="bold" stroke="#111" stroke-width="0.12">Ltf</text>
<text x="284.20" y="32.23" font-size="5.2" text-anchor="end" fill="#111" font-weight="bold" stroke="#111" stroke-width="0.12">S100a8</text>
<text x="284.20" y="37.38" font-size="5.2" text-anchor="end" fill="#111" font-weight="bold" stroke="#111" stroke-width="0.12">Csf1r</text>
<text x="284.20" y="42.52" font-size="5.2" text-anchor="end" fill="#111" font-weight="bold" stroke="#111" stroke-width="0.12">Sfrp2</text>
<text x="284.20" y="47.67" font-size="5.2" text-anchor="end" fill="#111" font-weight="bold" stroke="#111" stroke-width="0.12">Myo1f</text>
<text x="284.20" y="52.81" font-size="5.2" text-anchor="end" fill="#111" font-weight="bold" stroke="#111" stroke-width="0.12">Cybb</text>
<text x="284.20" y="57.96" font-size="5.2" text-anchor="end" fill="#111" font-weight="bold" stroke="#111" stroke-width="0.12">Col3a1</text>
<text x="284.20" y="63.10" font-size="5.2" text-anchor="end" fill="#111" font-weight="bold" stroke="#111" stroke-width="0.12">Col1a1</text>
<text x="284.20" y="68.25" font-size="5.2" text-anchor="end" fill="#111" font-weight="bold" stroke="#111" stroke-width="0.12">Mmp14</text>
<text x="284.20" y="73.39" font-size="5.2" text-anchor="end" fill="#111" font-weight="bold" stroke="#111" stroke-width="0.12">Col18a1</text>
<text x="284.20" y="78.54" font-size="5.2" text-anchor="end" fill="#111" font-weight="bold" stroke="#111" stroke-width="0.12">Pla2g7</text>
<text x="284.20" y="83.68" font-size="5.2" text-anchor="end" fill="#111" font-weight="bold" stroke="#111" stroke-width="0.12">Ddah1</text>
<text x="284.20" y="88.83" font-size="5.2" text-anchor="end" fill="#111" font-weight="bold" stroke="#111" stroke-width="0.12">Itgam</text>
<text x="284.20" y="93.97" font-size="5.2" text-anchor="end" fill="#111" font-weight="bold" stroke="#111" stroke-width="0.12">Igf1</text>
<text x="284.20" y="99.12" font-size="5.2" text-anchor="end" fill="#111" font-weight="bold" stroke="#111" stroke-width="0.12">Lcp1</text>
<text x="284.20" y="104.26" font-size="5.2" text-anchor="end" fill="#111" font-weight="bold" stroke="#111" stroke-width="0.12">Cd44</text>
<text x="284.20" y="109.41" font-size="5.2" text-anchor="end" fill="#111" font-weight="bold" stroke="#111" stroke-width="0.12">H2-Ab1</text>
<text x="284.20" y="114.55" font-size="5.2" text-anchor="end" fill="#111" font-weight="bold" stroke="#111" stroke-width="0.12">Itgb2</text>
<text x="284.20" y="119.70" font-size="5.2" text-anchor="end" fill="#111" font-weight="bold" stroke="#111" stroke-width="0.12">Lamb1</text>
<text x="284.20" y="124.84" font-size="5.2" text-anchor="end" fill="#111" font-weight="bold" stroke="#111" stroke-width="0.12">Col5a1</text>
<text x="284.20" y="129.99" font-size="5.2" text-anchor="end" fill="#111" font-weight="bold" stroke="#111" stroke-width="0.12">H2-Eb1</text>
<text x="284.20" y="135.13" font-size="5.2" text-anchor="end" fill="#111" font-weight="bold" stroke="#111" stroke-width="0.12">Cd74</text>
<text x="284.20" y="140.28" font-size="5.2" text-anchor="end" fill="#111" font-weight="bold" stroke="#111" stroke-width="0.12">H2-Aa</text>
<text x="284.20" y="145.43" font-size="5.2" text-anchor="end" fill="#111" font-weight="bold" stroke="#111" stroke-width="0.12">Coro1a</text>
<text x="284.20" y="150.57" font-size="5.2" text-anchor="end" fill="#111" font-weight="bold" stroke="#111" stroke-width="0.12">Itgb3</text>
<text x="284.20" y="155.72" font-size="5.2" text-anchor="end" fill="#111" font-weight="bold" stroke="#111" stroke-width="0.12">Fmnl1</text>
<text x="284.20" y="160.86" font-size="5.2" text-anchor="end" fill="#111" font-weight="bold" stroke="#111" stroke-width="0.12">Mmp2</text>
<text x="284.20" y="166.00" font-size="5.2" text-anchor="end" fill="#111" font-weight="bold" stroke="#111" stroke-width="0.12">Il4ra</text>
<text x="284.20" y="171.15" font-size="5.2" text-anchor="end" fill="#111" font-weight="bold" stroke="#111" stroke-width="0.12">Mapk6</text>
<text x="284.20" y="176.29" font-size="5.2" text-anchor="end" fill="#111" font-weight="bold" stroke="#111" stroke-width="0.12">Mcam</text>
<text x="284.20" y="181.44" font-size="5.2" text-anchor="end" fill="#111" font-weight="bold" stroke="#111" stroke-width="0.12">Nid1</text>
<text x="284.20" y="186.59" font-size="5.2" text-anchor="end" fill="#111" font-weight="bold" stroke="#111" stroke-width="0.12">Unc93b1</text>
<text x="284.20" y="191.73" font-size="5.2" text-anchor="end" fill="#111" font-weight="bold" stroke="#111" stroke-width="0.12">Dab2</text>
<text x="284.20" y="196.88" font-size="5.2" text-anchor="end" fill="#111" font-weight="bold" stroke="#111" stroke-width="0.12">Plxnb2</text>
<text x="284.20" y="202.02" font-size="5.2" text-anchor="end" fill="#111" font-weight="bold" stroke="#111" stroke-width="0.12">Fes</text>
<text x="284.20" y="207.16" font-size="5.2" text-anchor="end" fill="#111" font-weight="bold" stroke="#111" stroke-width="0.12">Inpp5d</text>
<text x="284.20" y="212.31" font-size="5.2" text-anchor="end" fill="#111" font-weight="bold" stroke="#111" stroke-width="0.12">Cfl1</text>
<text x="284.20" y="217.45" font-size="5.2" text-anchor="end" fill="#111" font-weight="bold" stroke="#111" stroke-width="0.12">Ttc28</text>
<text x="284.20" y="222.60" font-size="5.2" text-anchor="end" fill="#111" font-weight="bold" stroke="#111" stroke-width="0.12">Syne2</text>
<text x="284.20" y="227.75" font-size="5.2" text-anchor="end" fill="#111" font-weight="bold" stroke="#111" stroke-width="0.12">9430020K01Rik</text>
<text x="284.20" y="232.89" font-size="5.2" text-anchor="end" fill="#111" font-weight="bold" stroke="#111" stroke-width="0.12">Lamb2</text>
<text x="284.20" y="238.03" font-size="5.2" text-anchor="end" fill="#111" font-weight="bold" stroke="#111" stroke-width="0.12">Mfge8</text>
<text x="284.20" y="243.18" font-size="5.2" text-anchor="end" fill="#111" font-weight="bold" stroke="#111" stroke-width="0.12">Ptgis</text>
<text x="284.20" y="248.32" font-size="5.2" text-anchor="end" fill="#111" font-weight="bold" stroke="#111" stroke-width="0.12">Clstn1</text>
<text x="284.20" y="253.47" font-size="5.2" text-anchor="end" fill="#111" font-weight="bold" stroke="#111" stroke-width="0.12">Bmp6</text>
<text x="284.20" y="258.61" font-size="5.2" text-anchor="end" fill="#111" font-weight="bold" stroke="#111" stroke-width="0.12">Bmx</text>
<text x="284.20" y="263.76" font-size="5.2" text-anchor="end" fill="#111" font-weight="bold" stroke="#111" stroke-width="0.12">Epha2</text>
<text x="284.20" y="268.91" font-size="5.2" text-anchor="end" fill="#111" font-weight="bold" stroke="#111" stroke-width="0.12">Cfh</text>
<g fill="#1c9a9a"><rect x="316.00" y="13.15" width="42.05" height="3.7"/><rect x="316.00" y="18.29" width="39.89" height="3.7"/><rect x="316.00" y="23.44" width="38.03" height="3.7"/><rect x="316.00" y="28.58" width="35.88" height="3.7"/><rect x="316.00" y="33.73" width="31.86" height="3.7"/><rect x="316.00" y="38.87" width="29.70" height="3.7"/><rect x="316.00" y="44.02" width="28.27" height="3.7"/><rect x="316.00" y="49.16" width="28.27" height="3.7"/><rect x="316.00" y="54.31" width="28.13" height="3.7"/><rect x="316.00" y="59.45" width="27.84" height="3.7"/><rect x="316.00" y="64.60" width="27.55" height="3.7"/><rect x="316.00" y="69.75" width="27.26" height="3.7"/><rect x="316.00" y="74.89" width="26.98" height="3.7"/><rect x="316.00" y="80.03" width="26.69" height="3.7"/><rect x="316.00" y="85.18" width="26.40" height="3.7"/><rect x="316.00" y="90.33" width="25.83" height="3.7"/><rect x="316.00" y="95.47" width="25.11" height="3.7"/><rect x="316.00" y="100.61" width="24.83" height="3.7"/><rect x="316.00" y="105.76" width="24.54" height="3.7"/><rect x="316.00" y="110.91" width="22.67" height="3.7"/><rect x="316.00" y="116.05" width="22.10" height="3.7"/><rect x="316.00" y="121.19" width="21.81" height="3.7"/><rect x="316.00" y="126.34" width="21.52" height="3.7"/><rect x="316.00" y="131.48" width="21.09" height="3.7"/><rect x="316.00" y="136.63" width="20.81" height="3.7"/><rect x="316.00" y="141.78" width="20.81" height="3.7"/><rect x="316.00" y="146.92" width="20.81" height="3.7"/><rect x="316.00" y="152.06" width="20.23" height="3.7"/><rect x="316.00" y="157.21" width="19.95" height="3.7"/><rect x="316.00" y="162.35" width="19.37" height="3.7"/><rect x="316.00" y="167.50" width="18.94" height="3.7"/><rect x="316.00" y="172.64" width="18.65" height="3.7"/><rect x="316.00" y="177.79" width="17.79" height="3.7"/><rect x="316.00" y="182.94" width="17.22" height="3.7"/><rect x="316.00" y="188.08" width="15.35" height="3.7"/><rect x="316.00" y="193.22" width="13.49" height="3.7"/><rect x="316.00" y="198.37" width="12.92" height="3.7"/><rect x="316.00" y="203.51" width="11.91" height="3.7"/><rect x="316.00" y="208.66" width="11.05" height="3.7"/><rect x="307.68" y="213.80" width="8.32" height="3.7"/><rect x="307.39" y="218.95" width="8.61" height="3.7"/><rect x="306.82" y="224.09" width="9.18" height="3.7"/><rect x="306.24" y="229.24" width="9.76" height="3.7"/><rect x="305.95" y="234.38" width="10.05" height="3.7"/><rect x="304.95" y="239.53" width="11.05" height="3.7"/><rect x="303.80" y="244.67" width="12.20" height="3.7"/><rect x="302.22" y="249.82" width="13.78" height="3.7"/><rect x="301.65" y="254.96" width="14.35" height="3.7"/><rect x="300.07" y="260.11" width="15.93" height="3.7"/><rect x="298.78" y="265.25" width="17.22" height="3.7"/></g>
<path d="M285.00,15.00H287.20M285.00,20.14H287.20M285.00,25.29H287.20M285.00,30.43H287.20M285.00,35.58H287.20M285.00,40.72H287.20M285.00,45.87H287.20M285.00,51.02H287.20M285.00,56.16H287.20M285.00,61.30H287.20M285.00,66.45H287.20M285.00,71.59H287.20M285.00,76.74H287.20M285.00,81.88H287.20M285.00,87.03H287.20M285.00,92.17H287.20M285.00,97.32H287.20M285.00,102.46H287.20M285.00,107.61H287.20M285.00,112.75H287.20M285.00,117.90H287.20M285.00,123.04H287.20M285.00,128.19H287.20M285.00,133.33H287.20M285.00,138.48H287.20M285.00,143.62H287.20M285.00,148.77H287.20M285.00,153.91H287.20M285.00,159.06H287.20M285.00,164.20H287.20M285.00,169.35H287.20M285.00,174.49H287.20M285.00,179.64H287.20M285.00,184.78H287.20M285.00,189.93H287.20M285.00,195.07H287.20M285.00,200.22H287.20M285.00,205.36H287.20M285.00,210.51H287.20M285.00,215.65H287.20M285.00,220.80H287.20M285.00,225.94H287.20M285.00,231.09H287.20M285.00,236.23H287.20M285.00,241.38H287.20M285.00,246.52H287.20M285.00,251.67H287.20M285.00,256.81H287.20M285.00,261.96H287.20M285.00,267.11H287.20" stroke="#111" stroke-width="0.6" fill="none"/>
<path d="M287.2,12.2V270.3H374" stroke="#111" stroke-width="0.8" fill="none"/>
<path d="M316.0,12.2V270.3" stroke="#111" stroke-width="1.0" fill="none"/>
<text transform="translate(286.70,276.0) rotate(-50)" font-size="3.6" font-weight="bold" text-anchor="middle" fill="#111">-2</text>
<text transform="translate(301.05,276.0) rotate(-50)" font-size="3.6" font-weight="bold" text-anchor="middle" fill="#111">-1</text>
<text transform="translate(315.40,276.0) rotate(-50)" font-size="3.6" font-weight="bold" text-anchor="middle" fill="#111">0</text>
<text transform="translate(329.75,276.0) rotate(-50)" font-size="3.6" font-weight="bold" text-anchor="middle" fill="#111">1</text>
<text transform="translate(344.10,276.0) rotate(-50)" font-size="3.6" font-weight="bold" text-anchor="middle" fill="#111">2</text>
<text transform="translate(358.45,276.0) rotate(-50)" font-size="3.6" font-weight="bold" text-anchor="middle" fill="#111">3</text>
<text transform="translate(372.80,276.0) rotate(-50)" font-size="3.6" font-weight="bold" text-anchor="middle" fill="#111">4</text>
<path d="M287.30,270.3v1.6M301.65,270.3v1.6M316.00,270.3v1.6M330.35,270.3v1.6M344.70,270.3v1.6M359.05,270.3v1.6M373.40,270.3v1.6" stroke="#111" stroke-width="0.6" fill="none"/>
<text x="311.00" y="283.60" font-size="5.6" text-anchor="start" fill="#111" font-weight="bold" textLength="40.00" lengthAdjust="spacingAndGlyphs">Log<tspan font-size="3.6" dy="1.2">2</tspan><tspan dy="-1.2"> Fold Change</tspan></text>
</g>
<g id="panel-c">
<text x="2.00" y="191.80" font-size="13.6" text-anchor="start" fill="#000">c</text>
<text x="46.00" y="184.50" font-size="9.6" text-anchor="start" fill="#111" textLength="39.00" lengthAdjust="spacingAndGlyphs">No Injury</text>
<text x="139.60" y="184.50" font-size="9.6" text-anchor="start" fill="#111" textLength="29.80" lengthAdjust="spacingAndGlyphs">1 week</text>
<rect x="22.2" y="188.2" width="79.6" height="5.9" fill="#f8797a"/>
<rect x="106.1" y="188.2" width="96.1" height="5.9" fill="#22a877"/>
<g stroke="#9a9a9a" stroke-width="0.55"><rect x="22.20" y="196.20" width="15.92" height="5.988" fill="#74add1"/><rect x="38.12" y="196.20" width="15.92" height="5.988" fill="#abd9e9"/><rect x="54.04" y="196.20" width="15.92" height="5.988" fill="#74add1"/><rect x="69.96" y="196.20" width="15.92" height="5.988" fill="#74add1"/><rect x="85.88" y="196.20" width="15.92" height="5.988" fill="#74add1"/><rect x="106.10" y="196.20" width="16.02" height="5.988" fill="#fff3ac"/><rect x="122.12" y="196.20" width="16.02" height="5.988" fill="#fff3ac"/><rect x="138.13" y="196.20" width="16.02" height="5.988" fill="#fee090"/><rect x="154.15" y="196.20" width="16.02" height="5.988" fill="#fff3ac"/><rect x="170.17" y="196.20" width="16.02" height="5.988" fill="#fff3ac"/><rect x="186.18" y="196.20" width="16.02" height="5.988" fill="#fff3ac"/><rect x="22.20" y="202.19" width="15.92" height="5.988" fill="#313695"/><rect x="38.12" y="202.19" width="15.92" height="5.988" fill="#313695"/><rect x="54.04" y="202.19" width="15.92" height="5.988" fill="#313695"/><rect x="69.96" y="202.19" width="15.92" height="5.988" fill="#313695"/><rect x="85.88" y="202.19" width="15.92" height="5.988" fill="#4575b4"/><rect x="106.10" y="202.19" width="16.02" height="5.988" fill="#e0f3f8"/><rect x="122.12" y="202.19" width="16.02" height="5.988" fill="#74add1"/><rect x="138.13" y="202.19" width="16.02" height="5.988" fill="#e0f3f8"/><rect x="154.15" y="202.19" width="16.02" height="5.988" fill="#abd9e9"/><rect x="170.17" y="202.19" width="16.02" height="5.988" fill="#abd9e9"/><rect x="186.18" y="202.19" width="16.02" height="5.988" fill="#74add1"/><rect x="22.20" y="208.18" width="15.92" height="5.988" fill="#74add1"/><rect x="38.12" y="208.18" width="15.92" height="5.988" fill="#4575b4"/><rect x="54.04" y="208.18" width="15.92" height="5.988" fill="#4575b4"/><rect x="69.96" y="208.18" width="15.92" height="5.988" fill="#313695"/><rect x="85.88" y="208.18" width="15.92" height="5.988" fill="#74add1"/><rect x="106.10" y="208.18" width="16.02" height="5.988" fill="#fee090"/><rect x="122.12" y="208.18" width="16.02" height="5.988" fill="#e0f3f8"/><rect x="138.13" y="208.18" width="16.02" height="5.988" fill="#fee090"/><rect x="154.15" y="208.18" width="16.02" height="5.988" fill="#ffffbf"/><rect x="170.17" y="208.18" width="16.02" height="5.988" fill="#ffffbf"/><rect x="186.18" y="208.18" width="16.02" height="5.988" fill="#abd9e9"/><rect x="22.20" y="214.16" width="15.92" height="5.988" fill="#4575b4"/><rect x="38.12" y="214.16" width="15.92" height="5.988" fill="#313695"/><rect x="54.04" y="214.16" width="15.92" height="5.988" fill="#313695"/><rect x="69.96" y="214.16" width="15.92" height="5.988" fill="#313695"/><rect x="85.88" y="214.16" width="15.92" height="5.988" fill="#4575b4"/><rect x="106.10" y="214.16" width="16.02" height="5.988" fill="#ffffbf"/><rect x="122.12" y="214.16" width="16.02" height="5.988" fill="#74add1"/><rect x="138.13" y="214.16" width="16.02" height="5.988" fill="#ffffbf"/><rect x="154.15" y="214.16" width="16.02" height="5.988" fill="#e0f3f8"/><rect x="170.17" y="214.16" width="16.02" height="5.988" fill="#abd9e9"/><rect x="186.18" y="214.16" width="16.02" height="5.988" fill="#abd9e9"/><rect x="22.20" y="220.15" width="15.92" height="5.988" fill="#74add1"/><rect x="38.12" y="220.15" width="15.92" height="5.988" fill="#4575b4"/><rect x="54.04" y="220.15" width="15.92" height="5.988" fill="#74add1"/><rect x="69.96" y="220.15" width="15.92" height="5.988" fill="#74add1"/><rect x="85.88" y="220.15" width="15.92" height="5.988" fill="#74add1"/><rect x="106.10" y="220.15" width="16.02" height="5.988" fill="#e0f3f8"/><rect x="122.12" y="220.15" width="16.02" height="5.988" fill="#abd9e9"/><rect x="138.13" y="220.15" width="16.02" height="5.988" fill="#e0f3f8"/><rect x="154.15" y="220.15" width="16.02" height="5.988" fill="#e0f3f8"/><rect x="170.17" y="220.15" width="16.02" height="5.988" fill="#e0f3f8"/><rect x="186.18" y="220.15" width="16.02" height="5.988" fill="#c6e6f0"/><rect x="22.20" y="226.14" width="15.92" height="5.988" fill="#abd9e9"/><rect x="38.12" y="226.14" width="15.92" height="5.988" fill="#abd9e9"/><rect x="54.04" y="226.14" width="15.92" height="5.988" fill="#abd9e9"/><rect x="69.96" y="226.14" width="15.92" height="5.988" fill="#74add1"/><rect x="85.88" y="226.14" width="15.92" height="5.988" fill="#74add1"/><rect x="106.10" y="226.14" width="16.02" height="5.988" fill="#e0f3f8"/><rect x="122.12" y="226.14" width="16.02" height="5.988" fill="#fee090"/><rect x="138.13" y="226.14" width="16.02" height="5.988" fill="#fef0a8"/><rect x="154.15" y="226.14" width="16.02" height="5.988" fill="#fee090"/><rect x="170.17" y="226.14" width="16.02" height="5.988" fill="#fef0a8"/><rect x="186.18" y="226.14" width="16.02" height="5.988" fill="#ffffbf"/><rect x="22.20" y="232.13" width="15.92" height="5.988" fill="#74add1"/><rect x="38.12" y="232.13" width="15.92" height="5.988" fill="#4575b4"/><rect x="54.04" y="232.13" width="15.92" height="5.988" fill="#4575b4"/><rect x="69.96" y="232.13" width="15.92" height="5.988" fill="#4575b4"/><rect x="85.88" y="232.13" width="15.92" height="5.988" fill="#74add1"/><rect x="106.10" y="232.13" width="16.02" height="5.988" fill="#e0f3f8"/><rect x="122.12" y="232.13" width="16.02" height="5.988" fill="#abd9e9"/><rect x="138.13" y="232.13" width="16.02" height="5.988" fill="#abd9e9"/><rect x="154.15" y="232.13" width="16.02" height="5.988" fill="#abd9e9"/><rect x="170.17" y="232.13" width="16.02" height="5.988" fill="#abd9e9"/><rect x="186.18" y="232.13" width="16.02" height="5.988" fill="#abd9e9"/><rect x="22.20" y="238.12" width="15.92" height="5.988" fill="#abd9e9"/><rect x="38.12" y="238.12" width="15.92" height="5.988" fill="#74add1"/><rect x="54.04" y="238.12" width="15.92" height="5.988" fill="#74add1"/><rect x="69.96" y="238.12" width="15.92" height="5.988" fill="#74add1"/><rect x="85.88" y="238.12" width="15.92" height="5.988" fill="#74add1"/><rect x="106.10" y="238.12" width="16.02" height="5.988" fill="#e0f3f8"/><rect x="122.12" y="238.12" width="16.02" height="5.988" fill="#e0f3f8"/><rect x="138.13" y="238.12" width="16.02" height="5.988" fill="#ffffbf"/><rect x="154.15" y="238.12" width="16.02" height="5.988" fill="#e0f3f8"/><rect x="170.17" y="238.12" width="16.02" height="5.988" fill="#e0f3f8"/><rect x="186.18" y="238.12" width="16.02" height="5.988" fill="#c6e6f0"/><rect x="22.20" y="244.10" width="15.92" height="5.988" fill="#f46d43"/><rect x="38.12" y="244.10" width="15.92" height="5.988" fill="#fdae61"/><rect x="54.04" y="244.10" width="15.92" height="5.988" fill="#f46d43"/><rect x="69.96" y="244.10" width="15.92" height="5.988" fill="#fdae61"/><rect x="85.88" y="244.10" width="15.92" height="5.988" fill="#fdae61"/><rect x="106.10" y="244.10" width="16.02" height="5.988" fill="#a50026"/><rect x="122.12" y="244.10" width="16.02" height="5.988" fill="#a50026"/><rect x="138.13" y="244.10" width="16.02" height="5.988" fill="#d73027"/><rect x="154.15" y="244.10" width="16.02" height="5.988" fill="#a50026"/><rect x="170.17" y="244.10" width="16.02" height="5.988" fill="#d73027"/><rect x="186.18" y="244.10" width="16.02" height="5.988" fill="#d73027"/><rect x="22.20" y="250.09" width="15.92" height="5.988" fill="#fdae61"/><rect x="38.12" y="250.09" width="15.92" height="5.988" fill="#fdae61"/><rect x="54.04" y="250.09" width="15.92" height="5.988" fill="#f46d43"/><rect x="69.96" y="250.09" width="15.92" height="5.988" fill="#fee090"/><rect x="85.88" y="250.09" width="15.92" height="5.988" fill="#fee090"/><rect x="106.10" y="250.09" width="16.02" height="5.988" fill="#a50026"/><rect x="122.12" y="250.09" width="16.02" height="5.988" fill="#a50026"/><rect x="138.13" y="250.09" width="16.02" height="5.988" fill="#d73027"/><rect x="154.15" y="250.09" width="16.02" height="5.988" fill="#c82227"/><rect x="170.17" y="250.09" width="16.02" height="5.988" fill="#f46d43"/><rect x="186.18" y="250.09" width="16.02" height="5.988" fill="#f46d43"/><rect x="22.20" y="256.08" width="15.92" height="5.988" fill="#e0f3f8"/><rect x="38.12" y="256.08" width="15.92" height="5.988" fill="#abd9e9"/><rect x="54.04" y="256.08" width="15.92" height="5.988" fill="#e0f3f8"/><rect x="69.96" y="256.08" width="15.92" height="5.988" fill="#e0f3f8"/><rect x="85.88" y="256.08" width="15.92" height="5.988" fill="#abd9e9"/><rect x="106.10" y="256.08" width="16.02" height="5.988" fill="#ffffbf"/><rect x="122.12" y="256.08" width="16.02" height="5.988" fill="#fee090"/><rect x="138.13" y="256.08" width="16.02" height="5.988" fill="#ffffbf"/><rect x="154.15" y="256.08" width="16.02" height="5.988" fill="#fee090"/><rect x="170.17" y="256.08" width="16.02" height="5.988" fill="#fee090"/><rect x="186.18" y="256.08" width="16.02" height="5.988" fill="#ffffbf"/><rect x="22.20" y="262.07" width="15.92" height="5.988" fill="#fee090"/><rect x="38.12" y="262.07" width="15.92" height="5.988" fill="#fee090"/><rect x="54.04" y="262.07" width="15.92" height="5.988" fill="#fee090"/><rect x="69.96" y="262.07" width="15.92" height="5.988" fill="#ffffbf"/><rect x="85.88" y="262.07" width="15.92" height="5.988" fill="#fee090"/><rect x="106.10" y="262.07" width="16.02" height="5.988" fill="#fee090"/><rect x="122.12" y="262.07" width="16.02" height="5.988" fill="#f46d43"/><rect x="138.13" y="262.07" width="16.02" height="5.988" fill="#fdae61"/><rect x="154.15" y="262.07" width="16.02" height="5.988" fill="#f46d43"/><rect x="170.17" y="262.07" width="16.02" height="5.988" fill="#f46d43"/><rect x="186.18" y="262.07" width="16.02" height="5.988" fill="#fdae61"/><rect x="22.20" y="268.06" width="15.92" height="5.988" fill="#74add1"/><rect x="38.12" y="268.06" width="15.92" height="5.988" fill="#4575b4"/><rect x="54.04" y="268.06" width="15.92" height="5.988" fill="#4575b4"/><rect x="69.96" y="268.06" width="15.92" height="5.988" fill="#4575b4"/><rect x="85.88" y="268.06" width="15.92" height="5.988" fill="#74add1"/><rect x="106.10" y="268.06" width="16.02" height="5.988" fill="#e0f3f8"/><rect x="122.12" y="268.06" width="16.02" height="5.988" fill="#abd9e9"/><rect x="138.13" y="268.06" width="16.02" height="5.988" fill="#abd9e9"/><rect x="154.15" y="268.06" width="16.02" height="5.988" fill="#abd9e9"/><rect x="170.17" y="268.06" width="16.02" height="5.988" fill="#abd9e9"/><rect x="186.18" y="268.06" width="16.02" height="5.988" fill="#abd9e9"/><rect x="22.20" y="274.04" width="15.92" height="5.988" fill="#74add1"/><rect x="38.12" y="274.04" width="15.92" height="5.988" fill="#74add1"/><rect x="54.04" y="274.04" width="15.92" height="5.988" fill="#74add1"/><rect x="69.96" y="274.04" width="15.92" height="5.988" fill="#74add1"/><rect x="85.88" y="274.04" width="15.92" height="5.988" fill="#74add1"/><rect x="106.10" y="274.04" width="16.02" height="5.988" fill="#74add1"/><rect x="122.12" y="274.04" width="16.02" height="5.988" fill="#e0f3f8"/><rect x="138.13" y="274.04" width="16.02" height="5.988" fill="#74add1"/><rect x="154.15" y="274.04" width="16.02" height="5.988" fill="#e0f3f8"/><rect x="170.17" y="274.04" width="16.02" height="5.988" fill="#e0f3f8"/><rect x="186.18" y="274.04" width="16.02" height="5.988" fill="#abd9e9"/><rect x="22.20" y="280.03" width="15.92" height="5.988" fill="#abd9e9"/><rect x="38.12" y="280.03" width="15.92" height="5.988" fill="#74add1"/><rect x="54.04" y="280.03" width="15.92" height="5.988" fill="#74add1"/><rect x="69.96" y="280.03" width="15.92" height="5.988" fill="#74add1"/><rect x="85.88" y="280.03" width="15.92" height="5.988" fill="#e0f3f8"/><rect x="106.10" y="280.03" width="16.02" height="5.988" fill="#fff6b1"/><rect x="122.12" y="280.03" width="16.02" height="5.988" fill="#e0f3f8"/><rect x="138.13" y="280.03" width="16.02" height="5.988" fill="#fff6b1"/><rect x="154.15" y="280.03" width="16.02" height="5.988" fill="#ffffbf"/><rect x="170.17" y="280.03" width="16.02" height="5.988" fill="#ffffbf"/><rect x="186.18" y="280.03" width="16.02" height="5.988" fill="#e0f3f8"/><rect x="22.20" y="286.02" width="15.92" height="5.988" fill="#74add1"/><rect x="38.12" y="286.02" width="15.92" height="5.988" fill="#4575b4"/><rect x="54.04" y="286.02" width="15.92" height="5.988" fill="#74add1"/><rect x="69.96" y="286.02" width="15.92" height="5.988" fill="#4575b4"/><rect x="85.88" y="286.02" width="15.92" height="5.988" fill="#74add1"/><rect x="106.10" y="286.02" width="16.02" height="5.988" fill="#e0f3f8"/><rect x="122.12" y="286.02" width="16.02" height="5.988" fill="#e0f3f8"/><rect x="138.13" y="286.02" width="16.02" height="5.988" fill="#e0f3f8"/><rect x="154.15" y="286.02" width="16.02" height="5.988" fill="#abd9e9"/><rect x="170.17" y="286.02" width="16.02" height="5.988" fill="#abd9e9"/><rect x="186.18" y="286.02" width="16.02" height="5.988" fill="#abd9e9"/><rect x="22.20" y="292.01" width="15.92" height="5.988" fill="#e0f3f8"/><rect x="38.12" y="292.01" width="15.92" height="5.988" fill="#74add1"/><rect x="54.04" y="292.01" width="15.92" height="5.988" fill="#abd9e9"/><rect x="69.96" y="292.01" width="15.92" height="5.988" fill="#abd9e9"/><rect x="85.88" y="292.01" width="15.92" height="5.988" fill="#e0f3f8"/><rect x="106.10" y="292.01" width="16.02" height="5.988" fill="#fff6b1"/><rect x="122.12" y="292.01" width="16.02" height="5.988" fill="#fff6b1"/><rect x="138.13" y="292.01" width="16.02" height="5.988" fill="#fff6b1"/><rect x="154.15" y="292.01" width="16.02" height="5.988" fill="#fff6b1"/><rect x="170.17" y="292.01" width="16.02" height="5.988" fill="#fff6b1"/><rect x="186.18" y="292.01" width="16.02" height="5.988" fill="#ffffbf"/><rect x="22.20" y="298.00" width="15.92" height="5.988" fill="#abd9e9"/><rect x="38.12" y="298.00" width="15.92" height="5.988" fill="#abd9e9"/><rect x="54.04" y="298.00" width="15.92" height="5.988" fill="#abd9e9"/><rect x="69.96" y="298.00" width="15.92" height="5.988" fill="#74add1"/><rect x="85.88" y="298.00" width="15.92" height="5.988" fill="#abd9e9"/><rect x="106.10" y="298.00" width="16.02" height="5.988" fill="#e0f3f8"/><rect x="122.12" y="298.00" width="16.02" height="5.988" fill="#ffffbf"/><rect x="138.13" y="298.00" width="16.02" height="5.988" fill="#f0f9dc"/><rect x="154.15" y="298.00" width="16.02" height="5.988" fill="#f0f9dc"/><rect x="170.17" y="298.00" width="16.02" height="5.988" fill="#ffffbf"/><rect x="186.18" y="298.00" width="16.02" height="5.988" fill="#f0f9dc"/><rect x="22.20" y="303.98" width="15.92" height="5.988" fill="#e0f3f8"/><rect x="38.12" y="303.98" width="15.92" height="5.988" fill="#abd9e9"/><rect x="54.04" y="303.98" width="15.92" height="5.988" fill="#e0f3f8"/><rect x="69.96" y="303.98" width="15.92" height="5.988" fill="#e0f3f8"/><rect x="85.88" y="303.98" width="15.92" height="5.988" fill="#e0f3f8"/><rect x="106.10" y="303.98" width="16.02" height="5.988" fill="#fff6b1"/><rect x="122.12" y="303.98" width="16.02" height="5.988" fill="#fec778"/><rect x="138.13" y="303.98" width="16.02" height="5.988" fill="#fff6b1"/><rect x="154.15" y="303.98" width="16.02" height="5.988" fill="#fed182"/><rect x="170.17" y="303.98" width="16.02" height="5.988" fill="#fee090"/><rect x="186.18" y="303.98" width="16.02" height="5.988" fill="#fee090"/><rect x="22.20" y="309.97" width="15.92" height="5.988" fill="#abd9e9"/><rect x="38.12" y="309.97" width="15.92" height="5.988" fill="#abd9e9"/><rect x="54.04" y="309.97" width="15.92" height="5.988" fill="#abd9e9"/><rect x="69.96" y="309.97" width="15.92" height="5.988" fill="#abd9e9"/><rect x="85.88" y="309.97" width="15.92" height="5.988" fill="#e0f3f8"/><rect x="106.10" y="309.97" width="16.02" height="5.988" fill="#fed182"/><rect x="122.12" y="309.97" width="16.02" height="5.988" fill="#fef0a8"/><rect x="138.13" y="309.97" width="16.02" height="5.988" fill="#fff6b1"/><rect x="154.15" y="309.97" width="16.02" height="5.988" fill="#fef0a8"/><rect x="170.17" y="309.97" width="16.02" height="5.988" fill="#fff6b1"/><rect x="186.18" y="309.97" width="16.02" height="5.988" fill="#ffffbf"/><rect x="22.20" y="315.96" width="15.92" height="5.988" fill="#e0f3f8"/><rect x="38.12" y="315.96" width="15.92" height="5.988" fill="#c6e6f0"/><rect x="54.04" y="315.96" width="15.92" height="5.988" fill="#e0f3f8"/><rect x="69.96" y="315.96" width="15.92" height="5.988" fill="#c6e6f0"/><rect x="85.88" y="315.96" width="15.92" height="5.988" fill="#abd9e9"/><rect x="106.10" y="315.96" width="16.02" height="5.988" fill="#fff6b1"/><rect x="122.12" y="315.96" width="16.02" height="5.988" fill="#fee090"/><rect x="138.13" y="315.96" width="16.02" height="5.988" fill="#f0f9dc"/><rect x="154.15" y="315.96" width="16.02" height="5.988" fill="#fee090"/><rect x="170.17" y="315.96" width="16.02" height="5.988" fill="#fef0a8"/><rect x="186.18" y="315.96" width="16.02" height="5.988" fill="#fef0a8"/><rect x="22.20" y="321.95" width="15.92" height="5.988" fill="#fff6b1"/><rect x="38.12" y="321.95" width="15.92" height="5.988" fill="#fff6b1"/><rect x="54.04" y="321.95" width="15.92" height="5.988" fill="#fff6b1"/><rect x="69.96" y="321.95" width="15.92" height="5.988" fill="#fff6b1"/><rect x="85.88" y="321.95" width="15.92" height="5.988" fill="#e0f3f8"/><rect x="106.10" y="321.95" width="16.02" height="5.988" fill="#fdae61"/><rect x="122.12" y="321.95" width="16.02" height="5.988" fill="#fec778"/><rect x="138.13" y="321.95" width="16.02" height="5.988" fill="#fec778"/><rect x="154.15" y="321.95" width="16.02" height="5.988" fill="#fec778"/><rect x="170.17" y="321.95" width="16.02" height="5.988" fill="#fdae61"/><rect x="186.18" y="321.95" width="16.02" height="5.988" fill="#fed182"/><rect x="22.20" y="327.94" width="15.92" height="5.988" fill="#abd9e9"/><rect x="38.12" y="327.94" width="15.92" height="5.988" fill="#74add1"/><rect x="54.04" y="327.94" width="15.92" height="5.988" fill="#abd9e9"/><rect x="69.96" y="327.94" width="15.92" height="5.988" fill="#abd9e9"/><rect x="85.88" y="327.94" width="15.92" height="5.988" fill="#abd9e9"/><rect x="106.10" y="327.94" width="16.02" height="5.988" fill="#e0f3f8"/><rect x="122.12" y="327.94" width="16.02" height="5.988" fill="#fff6b1"/><rect x="138.13" y="327.94" width="16.02" height="5.988" fill="#e0f3f8"/><rect x="154.15" y="327.94" width="16.02" height="5.988" fill="#fff6b1"/><rect x="170.17" y="327.94" width="16.02" height="5.988" fill="#fff6b1"/><rect x="186.18" y="327.94" width="16.02" height="5.988" fill="#fff6b1"/><rect x="22.20" y="333.92" width="15.92" height="5.988" fill="#fee090"/><rect x="38.12" y="333.92" width="15.92" height="5.988" fill="#e0f3f8"/><rect x="54.04" y="333.92" width="15.92" height="5.988" fill="#ffffbf"/><rect x="69.96" y="333.92" width="15.92" height="5.988" fill="#fee090"/><rect x="85.88" y="333.92" width="15.92" height="5.988" fill="#ffffbf"/><rect x="106.10" y="333.92" width="16.02" height="5.988" fill="#fdae61"/><rect x="122.12" y="333.92" width="16.02" height="5.988" fill="#eb5b3b"/><rect x="138.13" y="333.92" width="16.02" height="5.988" fill="#fdae61"/><rect x="154.15" y="333.92" width="16.02" height="5.988" fill="#fdae61"/><rect x="170.17" y="333.92" width="16.02" height="5.988" fill="#fa9a58"/><rect x="186.18" y="333.92" width="16.02" height="5.988" fill="#fdae61"/><rect x="22.20" y="339.91" width="15.92" height="5.988" fill="#abd9e9"/><rect x="38.12" y="339.91" width="15.92" height="5.988" fill="#4575b4"/><rect x="54.04" y="339.91" width="15.92" height="5.988" fill="#74add1"/><rect x="69.96" y="339.91" width="15.92" height="5.988" fill="#74add1"/><rect x="85.88" y="339.91" width="15.92" height="5.988" fill="#74add1"/><rect x="106.10" y="339.91" width="16.02" height="5.988" fill="#e0f3f8"/><rect x="122.12" y="339.91" width="16.02" height="5.988" fill="#e0f3f8"/><rect x="138.13" y="339.91" width="16.02" height="5.988" fill="#abd9e9"/><rect x="154.15" y="339.91" width="16.02" height="5.988" fill="#e0f3f8"/><rect x="170.17" y="339.91" width="16.02" height="5.988" fill="#abd9e9"/><rect x="186.18" y="339.91" width="16.02" height="5.988" fill="#e0f3f8"/><rect x="22.20" y="345.90" width="15.92" height="5.988" fill="#abd9e9"/><rect x="38.12" y="345.90" width="15.92" height="5.988" fill="#74add1"/><rect x="54.04" y="345.90" width="15.92" height="5.988" fill="#74add1"/><rect x="69.96" y="345.90" width="15.92" height="5.988" fill="#74add1"/><rect x="85.88" y="345.90" width="15.92" height="5.988" fill="#abd9e9"/><rect x="106.10" y="345.90" width="16.02" height="5.988" fill="#e0f3f8"/><rect x="122.12" y="345.90" width="16.02" height="5.988" fill="#e0f3f8"/><rect x="138.13" y="345.90" width="16.02" height="5.988" fill="#e0f3f8"/><rect x="154.15" y="345.90" width="16.02" height="5.988" fill="#e0f3f8"/><rect x="170.17" y="345.90" width="16.02" height="5.988" fill="#e0f3f8"/><rect x="186.18" y="345.90" width="16.02" height="5.988" fill="#abd9e9"/><rect x="22.20" y="351.89" width="15.92" height="5.988" fill="#e0f3f8"/><rect x="38.12" y="351.89" width="15.92" height="5.988" fill="#abd9e9"/><rect x="54.04" y="351.89" width="15.92" height="5.988" fill="#abd9e9"/><rect x="69.96" y="351.89" width="15.92" height="5.988" fill="#abd9e9"/><rect x="85.88" y="351.89" width="15.92" height="5.988" fill="#abd9e9"/><rect x="106.10" y="351.89" width="16.02" height="5.988" fill="#fff6b1"/><rect x="122.12" y="351.89" width="16.02" height="5.988" fill="#fff6b1"/><rect x="138.13" y="351.89" width="16.02" height="5.988" fill="#fff6b1"/><rect x="154.15" y="351.89" width="16.02" height="5.988" fill="#fff6b1"/><rect x="170.17" y="351.89" width="16.02" height="5.988" fill="#fed182"/><rect x="186.18" y="351.89" width="16.02" height="5.988" fill="#e0f3f8"/><rect x="22.20" y="357.88" width="15.92" height="5.988" fill="#abd9e9"/><rect x="38.12" y="357.88" width="15.92" height="5.988" fill="#74add1"/><rect x="54.04" y="357.88" width="15.92" height="5.988" fill="#abd9e9"/><rect x="69.96" y="357.88" width="15.92" height="5.988" fill="#74add1"/><rect x="85.88" y="357.88" width="15.92" height="5.988" fill="#abd9e9"/><rect x="106.10" y="357.88" width="16.02" height="5.988" fill="#e0f3f8"/><rect x="122.12" y="357.88" width="16.02" height="5.988" fill="#e0f3f8"/><rect x="138.13" y="357.88" width="16.02" height="5.988" fill="#e0f3f8"/><rect x="154.15" y="357.88" width="16.02" height="5.988" fill="#e0f3f8"/><rect x="170.17" y="357.88" width="16.02" height="5.988" fill="#e0f3f8"/><rect x="186.18" y="357.88" width="16.02" height="5.988" fill="#e0f3f8"/><rect x="22.20" y="363.86" width="15.92" height="5.988" fill="#fff6b1"/><rect x="38.12" y="363.86" width="15.92" height="5.988" fill="#fff6b1"/><rect x="54.04" y="363.86" width="15.92" height="5.988" fill="#fff6b1"/><rect x="69.96" y="363.86" width="15.92" height="5.988" fill="#fff6b1"/><rect x="85.88" y="363.86" width="15.92" height="5.988" fill="#fff6b1"/><rect x="106.10" y="363.86" width="16.02" height="5.988" fill="#fec778"/><rect x="122.12" y="363.86" width="16.02" height="5.988" fill="#fa9a58"/><rect x="138.13" y="363.86" width="16.02" height="5.988" fill="#fec778"/><rect x="154.15" y="363.86" width="16.02" height="5.988" fill="#fa9a58"/><rect x="170.17" y="363.86" width="16.02" height="5.988" fill="#fa9a58"/><rect x="186.18" y="363.86" width="16.02" height="5.988" fill="#fa9a58"/><rect x="22.20" y="369.85" width="15.92" height="5.988" fill="#e0f3f8"/><rect x="38.12" y="369.85" width="15.92" height="5.988" fill="#e0f3f8"/><rect x="54.04" y="369.85" width="15.92" height="5.988" fill="#e0f3f8"/><rect x="69.96" y="369.85" width="15.92" height="5.988" fill="#e0f3f8"/><rect x="85.88" y="369.85" width="15.92" height="5.988" fill="#e0f3f8"/><rect x="106.10" y="369.85" width="16.02" height="5.988" fill="#fed182"/><rect x="122.12" y="369.85" width="16.02" height="5.988" fill="#fed182"/><rect x="138.13" y="369.85" width="16.02" height="5.988" fill="#fff6b1"/><rect x="154.15" y="369.85" width="16.02" height="5.988" fill="#fff6b1"/><rect x="170.17" y="369.85" width="16.02" height="5.988" fill="#fed182"/><rect x="186.18" y="369.85" width="16.02" height="5.988" fill="#fff6b1"/><rect x="22.20" y="375.84" width="15.92" height="5.988" fill="#74add1"/><rect x="38.12" y="375.84" width="15.92" height="5.988" fill="#74add1"/><rect x="54.04" y="375.84" width="15.92" height="5.988" fill="#74add1"/><rect x="69.96" y="375.84" width="15.92" height="5.988" fill="#74add1"/><rect x="85.88" y="375.84" width="15.92" height="5.988" fill="#74add1"/><rect x="106.10" y="375.84" width="16.02" height="5.988" fill="#abd9e9"/><rect x="122.12" y="375.84" width="16.02" height="5.988" fill="#abd9e9"/><rect x="138.13" y="375.84" width="16.02" height="5.988" fill="#abd9e9"/><rect x="154.15" y="375.84" width="16.02" height="5.988" fill="#abd9e9"/><rect x="170.17" y="375.84" width="16.02" height="5.988" fill="#e0f3f8"/><rect x="186.18" y="375.84" width="16.02" height="5.988" fill="#abd9e9"/><rect x="22.20" y="381.83" width="15.92" height="5.988" fill="#fff6b1"/><rect x="38.12" y="381.83" width="15.92" height="5.988" fill="#fff6b1"/><rect x="54.04" y="381.83" width="15.92" height="5.988" fill="#fff6b1"/><rect x="69.96" y="381.83" width="15.92" height="5.988" fill="#e0f3f8"/><rect x="85.88" y="381.83" width="15.92" height="5.988" fill="#e0f3f8"/><rect x="106.10" y="381.83" width="16.02" height="5.988" fill="#fff6b1"/><rect x="122.12" y="381.83" width="16.02" height="5.988" fill="#fed182"/><rect x="138.13" y="381.83" width="16.02" height="5.988" fill="#fff6b1"/><rect x="154.15" y="381.83" width="16.02" height="5.988" fill="#fed182"/><rect x="170.17" y="381.83" width="16.02" height="5.988" fill="#fa9a58"/><rect x="186.18" y="381.83" width="16.02" height="5.988" fill="#fed182"/><rect x="22.20" y="387.82" width="15.92" height="5.988" fill="#fee090"/><rect x="38.12" y="387.82" width="15.92" height="5.988" fill="#fee090"/><rect x="54.04" y="387.82" width="15.92" height="5.988" fill="#fee090"/><rect x="69.96" y="387.82" width="15.92" height="5.988" fill="#fff6b1"/><rect x="85.88" y="387.82" width="15.92" height="5.988" fill="#fff6b1"/><rect x="106.10" y="387.82" width="16.02" height="5.988" fill="#fa9a58"/><rect x="122.12" y="387.82" width="16.02" height="5.988" fill="#fa9a58"/><rect x="138.13" y="387.82" width="16.02" height="5.988" fill="#fed182"/><rect x="154.15" y="387.82" width="16.02" height="5.988" fill="#fa9a58"/><rect x="170.17" y="387.82" width="16.02" height="5.988" fill="#fa9a58"/><rect x="186.18" y="387.82" width="16.02" height="5.988" fill="#fec778"/><rect x="22.20" y="393.80" width="15.92" height="5.988" fill="#abd9e9"/><rect x="38.12" y="393.80" width="15.92" height="5.988" fill="#abd9e9"/><rect x="54.04" y="393.80" width="15.92" height="5.988" fill="#abd9e9"/><rect x="69.96" y="393.80" width="15.92" height="5.988" fill="#abd9e9"/><rect x="85.88" y="393.80" width="15.92" height="5.988" fill="#abd9e9"/><rect x="106.10" y="393.80" width="16.02" height="5.988" fill="#e0f3f8"/><rect x="122.12" y="393.80" width="16.02" height="5.988" fill="#e0f3f8"/><rect x="138.13" y="393.80" width="16.02" height="5.988" fill="#e0f3f8"/><rect x="154.15" y="393.80" width="16.02" height="5.988" fill="#e0f3f8"/><rect x="170.17" y="393.80" width="16.02" height="5.988" fill="#e0f3f8"/><rect x="186.18" y="393.80" width="16.02" height="5.988" fill="#e0f3f8"/><rect x="22.20" y="399.79" width="15.92" height="5.988" fill="#e0f3f8"/><rect x="38.12" y="399.79" width="15.92" height="5.988" fill="#e0f3f8"/><rect x="54.04" y="399.79" width="15.92" height="5.988" fill="#e0f3f8"/><rect x="69.96" y="399.79" width="15.92" height="5.988" fill="#e0f3f8"/><rect x="85.88" y="399.79" width="15.92" height="5.988" fill="#e0f3f8"/><rect x="106.10" y="399.79" width="16.02" height="5.988" fill="#fff6b1"/><rect x="122.12" y="399.79" width="16.02" height="5.988" fill="#fff6b1"/><rect x="138.13" y="399.79" width="16.02" height="5.988" fill="#fff6b1"/><rect x="154.15" y="399.79" width="16.02" height="5.988" fill="#fff6b1"/><rect x="170.17" y="399.79" width="16.02" height="5.988" fill="#fff6b1"/><rect x="186.18" y="399.79" width="16.02" height="5.988" fill="#fff6b1"/><rect x="22.20" y="405.78" width="15.92" height="5.988" fill="#e0f3f8"/><rect x="38.12" y="405.78" width="15.92" height="5.988" fill="#e0f3f8"/><rect x="54.04" y="405.78" width="15.92" height="5.988" fill="#e0f3f8"/><rect x="69.96" y="405.78" width="15.92" height="5.988" fill="#e0f3f8"/><rect x="85.88" y="405.78" width="15.92" height="5.988" fill="#e0f3f8"/><rect x="106.10" y="405.78" width="16.02" height="5.988" fill="#fff6b1"/><rect x="122.12" y="405.78" width="16.02" height="5.988" fill="#fff6b1"/><rect x="138.13" y="405.78" width="16.02" height="5.988" fill="#e0f3f8"/><rect x="154.15" y="405.78" width="16.02" height="5.988" fill="#fff6b1"/><rect x="170.17" y="405.78" width="16.02" height="5.988" fill="#fff6b1"/><rect x="186.18" y="405.78" width="16.02" height="5.988" fill="#fff6b1"/><rect x="22.20" y="411.77" width="15.92" height="5.988" fill="#74add1"/><rect x="38.12" y="411.77" width="15.92" height="5.988" fill="#abd9e9"/><rect x="54.04" y="411.77" width="15.92" height="5.988" fill="#74add1"/><rect x="69.96" y="411.77" width="15.92" height="5.988" fill="#74add1"/><rect x="85.88" y="411.77" width="15.92" height="5.988" fill="#abd9e9"/><rect x="106.10" y="411.77" width="16.02" height="5.988" fill="#abd9e9"/><rect x="122.12" y="411.77" width="16.02" height="5.988" fill="#abd9e9"/><rect x="138.13" y="411.77" width="16.02" height="5.988" fill="#abd9e9"/><rect x="154.15" y="411.77" width="16.02" height="5.988" fill="#abd9e9"/><rect x="170.17" y="411.77" width="16.02" height="5.988" fill="#abd9e9"/><rect x="186.18" y="411.77" width="16.02" height="5.988" fill="#abd9e9"/><rect x="22.20" y="417.76" width="15.92" height="5.988" fill="#e0f3f8"/><rect x="38.12" y="417.76" width="15.92" height="5.988" fill="#abd9e9"/><rect x="54.04" y="417.76" width="15.92" height="5.988" fill="#abd9e9"/><rect x="69.96" y="417.76" width="15.92" height="5.988" fill="#abd9e9"/><rect x="85.88" y="417.76" width="15.92" height="5.988" fill="#abd9e9"/><rect x="106.10" y="417.76" width="16.02" height="5.988" fill="#e0f3f8"/><rect x="122.12" y="417.76" width="16.02" height="5.988" fill="#e0f3f8"/><rect x="138.13" y="417.76" width="16.02" height="5.988" fill="#e0f3f8"/><rect x="154.15" y="417.76" width="16.02" height="5.988" fill="#e0f3f8"/><rect x="170.17" y="417.76" width="16.02" height="5.988" fill="#e0f3f8"/><rect x="186.18" y="417.76" width="16.02" height="5.988" fill="#e0f3f8"/><rect x="22.20" y="423.74" width="15.92" height="5.988" fill="#fff6b1"/><rect x="38.12" y="423.74" width="15.92" height="5.988" fill="#fff6b1"/><rect x="54.04" y="423.74" width="15.92" height="5.988" fill="#fff6b1"/><rect x="69.96" y="423.74" width="15.92" height="5.988" fill="#fff6b1"/><rect x="85.88" y="423.74" width="15.92" height="5.988" fill="#fff6b1"/><rect x="106.10" y="423.74" width="16.02" height="5.988" fill="#fff6b1"/><rect x="122.12" y="423.74" width="16.02" height="5.988" fill="#fee090"/><rect x="138.13" y="423.74" width="16.02" height="5.988" fill="#fff6b1"/><rect x="154.15" y="423.74" width="16.02" height="5.988" fill="#fee090"/><rect x="170.17" y="423.74" width="16.02" height="5.988" fill="#fee090"/><rect x="186.18" y="423.74" width="16.02" height="5.988" fill="#fef0a8"/><rect x="22.20" y="429.73" width="15.92" height="5.988" fill="#fdae61"/><rect x="38.12" y="429.73" width="15.92" height="5.988" fill="#fdae61"/><rect x="54.04" y="429.73" width="15.92" height="5.988" fill="#fdae61"/><rect x="69.96" y="429.73" width="15.92" height="5.988" fill="#fdae61"/><rect x="85.88" y="429.73" width="15.92" height="5.988" fill="#fdae61"/><rect x="106.10" y="429.73" width="16.02" height="5.988" fill="#fdae61"/><rect x="122.12" y="429.73" width="16.02" height="5.988" fill="#fdae61"/><rect x="138.13" y="429.73" width="16.02" height="5.988" fill="#fdae61"/><rect x="154.15" y="429.73" width="16.02" height="5.988" fill="#fdae61"/><rect x="170.17" y="429.73" width="16.02" height="5.988" fill="#fdae61"/><rect x="186.18" y="429.73" width="16.02" height="5.988" fill="#fdae61"/><rect x="22.20" y="435.72" width="15.92" height="5.988" fill="#f46d43"/><rect x="38.12" y="435.72" width="15.92" height="5.988" fill="#f46d43"/><rect x="54.04" y="435.72" width="15.92" height="5.988" fill="#f46d43"/><rect x="69.96" y="435.72" width="15.92" height="5.988" fill="#f46d43"/><rect x="85.88" y="435.72" width="15.92" height="5.988" fill="#f46d43"/><rect x="106.10" y="435.72" width="16.02" height="5.988" fill="#f46d43"/><rect x="122.12" y="435.72" width="16.02" height="5.988" fill="#f46d43"/><rect x="138.13" y="435.72" width="16.02" height="5.988" fill="#f46d43"/><rect x="154.15" y="435.72" width="16.02" height="5.988" fill="#f46d43"/><rect x="170.17" y="435.72" width="16.02" height="5.988" fill="#f46d43"/><rect x="186.18" y="435.72" width="16.02" height="5.988" fill="#f7804c"/><rect x="22.20" y="441.71" width="15.92" height="5.988" fill="#d73027"/><rect x="38.12" y="441.71" width="15.92" height="5.988" fill="#d73027"/><rect x="54.04" y="441.71" width="15.92" height="5.988" fill="#d73027"/><rect x="69.96" y="441.71" width="15.92" height="5.988" fill="#d73027"/><rect x="85.88" y="441.71" width="15.92" height="5.988" fill="#d73027"/><rect x="106.10" y="441.71" width="16.02" height="5.988" fill="#f46d43"/><rect x="122.12" y="441.71" width="16.02" height="5.988" fill="#f46d43"/><rect x="138.13" y="441.71" width="16.02" height="5.988" fill="#f46d43"/><rect x="154.15" y="441.71" width="16.02" height="5.988" fill="#f46d43"/><rect x="170.17" y="441.71" width="16.02" height="5.988" fill="#f46d43"/><rect x="186.18" y="441.71" width="16.02" height="5.988" fill="#c82227"/><rect x="22.20" y="447.70" width="15.92" height="5.988" fill="#f46d43"/><rect x="38.12" y="447.70" width="15.92" height="5.988" fill="#f46d43"/><rect x="54.04" y="447.70" width="15.92" height="5.988" fill="#f46d43"/><rect x="69.96" y="447.70" width="15.92" height="5.988" fill="#f46d43"/><rect x="85.88" y="447.70" width="15.92" height="5.988" fill="#f46d43"/><rect x="106.10" y="447.70" width="16.02" height="5.988" fill="#fdae61"/><rect x="122.12" y="447.70" width="16.02" height="5.988" fill="#fdae61"/><rect x="138.13" y="447.70" width="16.02" height="5.988" fill="#fdae61"/><rect x="154.15" y="447.70" width="16.02" height="5.988" fill="#fdae61"/><rect x="170.17" y="447.70" width="16.02" height="5.988" fill="#fdae61"/><rect x="186.18" y="447.70" width="16.02" height="5.988" fill="#fdae61"/><rect x="22.20" y="453.68" width="15.92" height="5.988" fill="#fed182"/><rect x="38.12" y="453.68" width="15.92" height="5.988" fill="#fed182"/><rect x="54.04" y="453.68" width="15.92" height="5.988" fill="#fed182"/><rect x="69.96" y="453.68" width="15.92" height="5.988" fill="#fed182"/><rect x="85.88" y="453.68" width="15.92" height="5.988" fill="#fed182"/><rect x="106.10" y="453.68" width="16.02" height="5.988" fill="#fee090"/><rect x="122.12" y="453.68" width="16.02" height="5.988" fill="#fff6b1"/><rect x="138.13" y="453.68" width="16.02" height="5.988" fill="#fee090"/><rect x="154.15" y="453.68" width="16.02" height="5.988" fill="#fff6b1"/><rect x="170.17" y="453.68" width="16.02" height="5.988" fill="#fff6b1"/><rect x="186.18" y="453.68" width="16.02" height="5.988" fill="#fee090"/><rect x="22.20" y="459.67" width="15.92" height="5.988" fill="#fff6b1"/><rect x="38.12" y="459.67" width="15.92" height="5.988" fill="#fee090"/><rect x="54.04" y="459.67" width="15.92" height="5.988" fill="#fff6b1"/><rect x="69.96" y="459.67" width="15.92" height="5.988" fill="#fee090"/><rect x="85.88" y="459.67" width="15.92" height="5.988" fill="#fee090"/><rect x="106.10" y="459.67" width="16.02" height="5.988" fill="#fff6b1"/><rect x="122.12" y="459.67" width="16.02" height="5.988" fill="#e0f3f8"/><rect x="138.13" y="459.67" width="16.02" height="5.988" fill="#fee090"/><rect x="154.15" y="459.67" width="16.02" height="5.988" fill="#fff6b1"/><rect x="170.17" y="459.67" width="16.02" height="5.988" fill="#fff6b1"/><rect x="186.18" y="459.67" width="16.02" height="5.988" fill="#fef0a8"/><rect x="22.20" y="465.66" width="15.92" height="5.988" fill="#fdae61"/><rect x="38.12" y="465.66" width="15.92" height="5.988" fill="#f46d43"/><rect x="54.04" y="465.66" width="15.92" height="5.988" fill="#f46d43"/><rect x="69.96" y="465.66" width="15.92" height="5.988" fill="#f46d43"/><rect x="85.88" y="465.66" width="15.92" height="5.988" fill="#f46d43"/><rect x="106.10" y="465.66" width="16.02" height="5.988" fill="#fdae61"/><rect x="122.12" y="465.66" width="16.02" height="5.988" fill="#fed182"/><rect x="138.13" y="465.66" width="16.02" height="5.988" fill="#fdae61"/><rect x="154.15" y="465.66" width="16.02" height="5.988" fill="#fed182"/><rect x="170.17" y="465.66" width="16.02" height="5.988" fill="#fdae61"/><rect x="186.18" y="465.66" width="16.02" height="5.988" fill="#fed182"/><rect x="22.20" y="471.65" width="15.92" height="5.988" fill="#f46d43"/><rect x="38.12" y="471.65" width="15.92" height="5.988" fill="#f46d43"/><rect x="54.04" y="471.65" width="15.92" height="5.988" fill="#f46d43"/><rect x="69.96" y="471.65" width="15.92" height="5.988" fill="#f46d43"/><rect x="85.88" y="471.65" width="15.92" height="5.988" fill="#f46d43"/><rect x="106.10" y="471.65" width="16.02" height="5.988" fill="#fdae61"/><rect x="122.12" y="471.65" width="16.02" height="5.988" fill="#fdae61"/><rect x="138.13" y="471.65" width="16.02" height="5.988" fill="#f46d43"/><rect x="154.15" y="471.65" width="16.02" height="5.988" fill="#f46d43"/><rect x="170.17" y="471.65" width="16.02" height="5.988" fill="#fdae61"/><rect x="186.18" y="471.65" width="16.02" height="5.988" fill="#f46d43"/><rect x="22.20" y="477.64" width="15.92" height="5.988" fill="#fdae61"/><rect x="38.12" y="477.64" width="15.92" height="5.988" fill="#fdae61"/><rect x="54.04" y="477.64" width="15.92" height="5.988" fill="#fdae61"/><rect x="69.96" y="477.64" width="15.92" height="5.988" fill="#fdae61"/><rect x="85.88" y="477.64" width="15.92" height="5.988" fill="#fdae61"/><rect x="106.10" y="477.64" width="16.02" height="5.988" fill="#fef0a8"/><rect x="122.12" y="477.64" width="16.02" height="5.988" fill="#fff6b1"/><rect x="138.13" y="477.64" width="16.02" height="5.988" fill="#fed182"/><rect x="154.15" y="477.64" width="16.02" height="5.988" fill="#fed182"/><rect x="170.17" y="477.64" width="16.02" height="5.988" fill="#fed182"/><rect x="186.18" y="477.64" width="16.02" height="5.988" fill="#fed182"/><rect x="22.20" y="483.62" width="15.92" height="5.988" fill="#fed182"/><rect x="38.12" y="483.62" width="15.92" height="5.988" fill="#fdbd6f"/><rect x="54.04" y="483.62" width="15.92" height="5.988" fill="#fed182"/><rect x="69.96" y="483.62" width="15.92" height="5.988" fill="#fdbd6f"/><rect x="85.88" y="483.62" width="15.92" height="5.988" fill="#fdbd6f"/><rect x="106.10" y="483.62" width="16.02" height="5.988" fill="#fef0a8"/><rect x="122.12" y="483.62" width="16.02" height="5.988" fill="#fff6b1"/><rect x="138.13" y="483.62" width="16.02" height="5.988" fill="#fed182"/><rect x="154.15" y="483.62" width="16.02" height="5.988" fill="#fed182"/><rect x="170.17" y="483.62" width="16.02" height="5.988" fill="#fed182"/><rect x="186.18" y="483.62" width="16.02" height="5.988" fill="#fed182"/><rect x="22.20" y="489.61" width="15.92" height="5.988" fill="#a50026"/><rect x="38.12" y="489.61" width="15.92" height="5.988" fill="#a50026"/><rect x="54.04" y="489.61" width="15.92" height="5.988" fill="#a50026"/><rect x="69.96" y="489.61" width="15.92" height="5.988" fill="#a50026"/><rect x="85.88" y="489.61" width="15.92" height="5.988" fill="#a50026"/><rect x="106.10" y="489.61" width="16.02" height="5.988" fill="#c82227"/><rect x="122.12" y="489.61" width="16.02" height="5.988" fill="#e64e35"/><rect x="138.13" y="489.61" width="16.02" height="5.988" fill="#c82227"/><rect x="154.15" y="489.61" width="16.02" height="5.988" fill="#c82227"/><rect x="170.17" y="489.61" width="16.02" height="5.988" fill="#c82227"/><rect x="186.18" y="489.61" width="16.02" height="5.988" fill="#a50026"/></g>
<text x="204.70" y="201.55" font-size="6.5" text-anchor="start" fill="#111" font-weight="bold" textLength="12.65" lengthAdjust="spacingAndGlyphs" stroke="#111" stroke-width="0.2">Mki67</text>
<text x="204.70" y="207.54" font-size="6.5" text-anchor="start" fill="#111" font-weight="bold" textLength="10.62" lengthAdjust="spacingAndGlyphs" stroke="#111" stroke-width="0.2">Lcn2</text>
<text x="204.70" y="213.53" font-size="6.5" text-anchor="start" fill="#111" font-weight="bold" textLength="5.81" lengthAdjust="spacingAndGlyphs" stroke="#111" stroke-width="0.2">Ltf</text>
<text x="204.70" y="219.51" font-size="6.5" text-anchor="start" fill="#111" font-weight="bold" textLength="15.69" lengthAdjust="spacingAndGlyphs" stroke="#111" stroke-width="0.2">S100a8</text>
<text x="204.70" y="225.50" font-size="6.5" text-anchor="start" fill="#111" font-weight="bold" textLength="11.63" lengthAdjust="spacingAndGlyphs" stroke="#111" stroke-width="0.2">Csf1r</text>
<text x="204.70" y="231.49" font-size="6.5" text-anchor="start" fill="#111" font-weight="bold" textLength="11.63" lengthAdjust="spacingAndGlyphs" stroke="#111" stroke-width="0.2">Sfrp2</text>
<text x="204.70" y="237.48" font-size="6.5" text-anchor="start" fill="#111" font-weight="bold" textLength="13.15" lengthAdjust="spacingAndGlyphs" stroke="#111" stroke-width="0.2">Myo1f</text>
<text x="204.70" y="243.47" font-size="6.5" text-anchor="start" fill="#111" font-weight="bold" textLength="11.38" lengthAdjust="spacingAndGlyphs" stroke="#111" stroke-width="0.2">Cybb</text>
<text x="204.70" y="249.45" font-size="6.5" text-anchor="start" fill="#111" font-weight="bold" textLength="14.92" lengthAdjust="spacingAndGlyphs" stroke="#111" stroke-width="0.2">Col3a1</text>
<text x="204.70" y="255.44" font-size="6.5" text-anchor="start" fill="#111" font-weight="bold" textLength="14.92" lengthAdjust="spacingAndGlyphs" stroke="#111" stroke-width="0.2">Col1a1</text>
<text x="204.70" y="261.43" font-size="6.5" text-anchor="start" fill="#111" font-weight="bold" textLength="15.68" lengthAdjust="spacingAndGlyphs" stroke="#111" stroke-width="0.2">Mmp14</text>
<text x="204.70" y="267.42" font-size="6.5" text-anchor="start" fill="#111" font-weight="bold" textLength="17.45" lengthAdjust="spacingAndGlyphs" stroke="#111" stroke-width="0.2">Col18a1</text>
<text x="204.70" y="273.41" font-size="6.5" text-anchor="start" fill="#111" font-weight="bold" textLength="14.67" lengthAdjust="spacingAndGlyphs" stroke="#111" stroke-width="0.2">Pla2g7</text>
<text x="204.70" y="279.39" font-size="6.5" text-anchor="start" fill="#111" font-weight="bold" textLength="13.91" lengthAdjust="spacingAndGlyphs" stroke="#111" stroke-width="0.2">Ddah1</text>
<text x="204.70" y="285.38" font-size="6.5" text-anchor="start" fill="#111" font-weight="bold" textLength="12.13" lengthAdjust="spacingAndGlyphs" stroke="#111" stroke-width="0.2">Itgam</text>
<text x="204.70" y="291.37" font-size="6.5" text-anchor="start" fill="#111" font-weight="bold" textLength="8.09" lengthAdjust="spacingAndGlyphs" stroke="#111" stroke-width="0.2">Igf1</text>
<text x="204.70" y="297.36" font-size="6.5" text-anchor="start" fill="#111" font-weight="bold" textLength="10.62" lengthAdjust="spacingAndGlyphs" stroke="#111" stroke-width="0.2">Lcp1</text>
<text x="204.70" y="303.35" font-size="6.5" text-anchor="start" fill="#111" font-weight="bold" textLength="11.13" lengthAdjust="spacingAndGlyphs" stroke="#111" stroke-width="0.2">Cd44</text>
<text x="204.70" y="309.33" font-size="6.5" text-anchor="start" fill="#111" font-weight="bold" textLength="15.17" lengthAdjust="spacingAndGlyphs" stroke="#111" stroke-width="0.2">H2-ab1</text>
<text x="204.70" y="315.32" font-size="6.5" text-anchor="start" fill="#111" font-weight="bold" textLength="10.87" lengthAdjust="spacingAndGlyphs" stroke="#111" stroke-width="0.2">Itgb2</text>
<text x="204.70" y="321.31" font-size="6.5" text-anchor="start" fill="#111" font-weight="bold" textLength="14.67" lengthAdjust="spacingAndGlyphs" stroke="#111" stroke-width="0.2">Lamb1</text>
<text x="204.70" y="327.30" font-size="6.5" text-anchor="start" fill="#111" font-weight="bold" textLength="14.92" lengthAdjust="spacingAndGlyphs" stroke="#111" stroke-width="0.2">Col5a1</text>
<text x="204.70" y="333.29" font-size="6.5" text-anchor="start" fill="#111" font-weight="bold" textLength="15.68" lengthAdjust="spacingAndGlyphs" stroke="#111" stroke-width="0.2">H2-Eb1</text>
<text x="204.70" y="339.27" font-size="6.5" text-anchor="start" fill="#111" font-weight="bold" textLength="11.13" lengthAdjust="spacingAndGlyphs" stroke="#111" stroke-width="0.2">Cd74</text>
<text x="204.70" y="345.26" font-size="6.5" text-anchor="start" fill="#111" font-weight="bold" textLength="13.15" lengthAdjust="spacingAndGlyphs" stroke="#111" stroke-width="0.2">H2-Aa</text>
<text x="204.70" y="351.25" font-size="6.5" text-anchor="start" fill="#111" font-weight="bold" textLength="15.68" lengthAdjust="spacingAndGlyphs" stroke="#111" stroke-width="0.2">Coro1a</text>
<text x="204.70" y="357.24" font-size="6.5" text-anchor="start" fill="#111" font-weight="bold" textLength="10.87" lengthAdjust="spacingAndGlyphs" stroke="#111" stroke-width="0.2">Itgb3</text>
<text x="204.70" y="363.23" font-size="6.5" text-anchor="start" fill="#111" font-weight="bold" textLength="13.40" lengthAdjust="spacingAndGlyphs" stroke="#111" stroke-width="0.2">Fmnl1</text>
<text x="204.70" y="369.21" font-size="6.5" text-anchor="start" fill="#111" font-weight="bold" textLength="13.15" lengthAdjust="spacingAndGlyphs" stroke="#111" stroke-width="0.2">Mmp2</text>
<text x="204.70" y="375.20" font-size="6.5" text-anchor="start" fill="#111" font-weight="bold" textLength="9.36" lengthAdjust="spacingAndGlyphs" stroke="#111" stroke-width="0.2">Il4ra</text>
<text x="204.70" y="381.19" font-size="6.5" text-anchor="start" fill="#111" font-weight="bold" textLength="14.16" lengthAdjust="spacingAndGlyphs" stroke="#111" stroke-width="0.2">Mapk6</text>
<text x="204.70" y="387.18" font-size="6.5" text-anchor="start" fill="#111" font-weight="bold" textLength="12.90" lengthAdjust="spacingAndGlyphs" stroke="#111" stroke-width="0.2">Mcam</text>
<text x="204.70" y="393.17" font-size="6.5" text-anchor="start" fill="#111" font-weight="bold" textLength="9.86" lengthAdjust="spacingAndGlyphs" stroke="#111" stroke-width="0.2">Nid1</text>
<text x="204.70" y="399.15" font-size="6.5" text-anchor="start" fill="#111" font-weight="bold" textLength="18.97" lengthAdjust="spacingAndGlyphs" stroke="#111" stroke-width="0.2">Unc93b1</text>
<text x="204.70" y="405.14" font-size="6.5" text-anchor="start" fill="#111" font-weight="bold" textLength="11.13" lengthAdjust="spacingAndGlyphs" stroke="#111" stroke-width="0.2">Dab2</text>
<text x="204.70" y="411.13" font-size="6.5" text-anchor="start" fill="#111" font-weight="bold" textLength="14.92" lengthAdjust="spacingAndGlyphs" stroke="#111" stroke-width="0.2">Plxnb2</text>
<text x="204.70" y="417.12" font-size="6.5" text-anchor="start" fill="#111" font-weight="bold" textLength="7.84" lengthAdjust="spacingAndGlyphs" stroke="#111" stroke-width="0.2">Fes</text>
<text x="204.70" y="423.11" font-size="6.5" text-anchor="start" fill="#111" font-weight="bold" textLength="14.91" lengthAdjust="spacingAndGlyphs" stroke="#111" stroke-width="0.2">Inpp5d</text>
<text x="204.70" y="429.09" font-size="6.5" text-anchor="start" fill="#111" font-weight="bold" textLength="8.60" lengthAdjust="spacingAndGlyphs" stroke="#111" stroke-width="0.2">Cfl1</text>
<text x="204.70" y="435.08" font-size="6.5" text-anchor="start" fill="#111" font-weight="bold" textLength="11.89" lengthAdjust="spacingAndGlyphs" stroke="#111" stroke-width="0.2">Ttc28</text>
<text x="204.70" y="441.07" font-size="6.5" text-anchor="start" fill="#111" font-weight="bold" textLength="13.41" lengthAdjust="spacingAndGlyphs" stroke="#111" stroke-width="0.2">Syne2</text>
<text x="204.70" y="447.06" font-size="6.5" text-anchor="start" fill="#111" font-weight="bold" textLength="33.14" lengthAdjust="spacingAndGlyphs" stroke="#111" stroke-width="0.2">9430020K01Rik</text>
<text x="204.70" y="453.05" font-size="6.5" text-anchor="start" fill="#111" font-weight="bold" textLength="14.67" lengthAdjust="spacingAndGlyphs" stroke="#111" stroke-width="0.2">Lamb2</text>
<text x="204.70" y="459.03" font-size="6.5" text-anchor="start" fill="#111" font-weight="bold" textLength="13.15" lengthAdjust="spacingAndGlyphs" stroke="#111" stroke-width="0.2">Mfge8</text>
<text x="204.70" y="465.02" font-size="6.5" text-anchor="start" fill="#111" font-weight="bold" textLength="11.12" lengthAdjust="spacingAndGlyphs" stroke="#111" stroke-width="0.2">Ptgis</text>
<text x="204.70" y="471.01" font-size="6.5" text-anchor="start" fill="#111" font-weight="bold" textLength="13.91" lengthAdjust="spacingAndGlyphs" stroke="#111" stroke-width="0.2">Clstn1</text>
<text x="204.70" y="477.00" font-size="6.5" text-anchor="start" fill="#111" font-weight="bold" textLength="12.64" lengthAdjust="spacingAndGlyphs" stroke="#111" stroke-width="0.2">Bmp6</text>
<text x="204.70" y="482.99" font-size="6.5" text-anchor="start" fill="#111" font-weight="bold" textLength="9.86" lengthAdjust="spacingAndGlyphs" stroke="#111" stroke-width="0.2">Bmx</text>
<text x="204.70" y="488.97" font-size="6.5" text-anchor="start" fill="#111" font-weight="bold" textLength="13.65" lengthAdjust="spacingAndGlyphs" stroke="#111" stroke-width="0.2">Epha2</text>
<text x="204.70" y="494.96" font-size="6.5" text-anchor="start" fill="#111" font-weight="bold" textLength="7.58" lengthAdjust="spacingAndGlyphs" stroke="#111" stroke-width="0.2">Cfh</text>
<rect x="21.70" y="505.2" width="3.76" height="4.2" fill="#a50026"/>
<rect x="25.41" y="505.2" width="3.76" height="4.2" fill="#c21c27"/>
<rect x="29.12" y="505.2" width="3.76" height="4.2" fill="#dc3b2c"/>
<rect x="32.83" y="505.2" width="3.76" height="4.2" fill="#ed5f3c"/>
<rect x="36.54" y="505.2" width="3.76" height="4.2" fill="#f7844e"/>
<rect x="40.26" y="505.2" width="3.76" height="4.2" fill="#fcaa5f"/>
<rect x="43.97" y="505.2" width="3.76" height="4.2" fill="#fec87a"/>
<rect x="47.68" y="505.2" width="3.76" height="4.2" fill="#fee496"/>
<rect x="51.39" y="505.2" width="3.76" height="4.2" fill="#fff6b1"/>
<rect x="55.10" y="505.2" width="3.76" height="4.2" fill="#f6fbd0"/>
<rect x="58.81" y="505.2" width="3.76" height="4.2" fill="#e4f4f1"/>
<rect x="62.52" y="505.2" width="3.76" height="4.2" fill="#c7e7f1"/>
<rect x="66.23" y="505.2" width="3.76" height="4.2" fill="#a8d6e8"/>
<rect x="69.94" y="505.2" width="3.76" height="4.2" fill="#87bdd9"/>
<rect x="73.66" y="505.2" width="3.76" height="4.2" fill="#69a0ca"/>
<rect x="77.37" y="505.2" width="3.76" height="4.2" fill="#4d7fb9"/>
<rect x="81.08" y="505.2" width="3.76" height="4.2" fill="#3d5ba7"/>
<rect x="84.79" y="505.2" width="3.76" height="4.2" fill="#313695"/>
<text x="21.20" y="503.50" font-size="4.6" text-anchor="start" fill="#111" font-weight="bold" textLength="3.99" lengthAdjust="spacingAndGlyphs">14</text>
<text x="35.20" y="503.50" font-size="4.6" text-anchor="start" fill="#111" font-weight="bold" textLength="3.99" lengthAdjust="spacingAndGlyphs">12</text>
<text x="49.80" y="503.50" font-size="4.6" text-anchor="start" fill="#111" font-weight="bold" textLength="3.99" lengthAdjust="spacingAndGlyphs">10</text>
<text x="66.90" y="503.50" font-size="4.6" text-anchor="start" fill="#111" font-weight="bold" textLength="2.00" lengthAdjust="spacingAndGlyphs">8</text>
<text x="80.20" y="503.50" font-size="4.6" text-anchor="start" fill="#111" font-weight="bold" textLength="2.00" lengthAdjust="spacingAndGlyphs">6</text>
<text x="92.20" y="509.20" font-size="4.6" text-anchor="start" fill="#111" font-weight="bold" textLength="32.80" lengthAdjust="spacingAndGlyphs">log<tspan font-size="3" dy="0.9">2</tspan><tspan dy="-0.9">[norm.count]</tspan></text>
</g>
<g id="panel-d">
<text x="251.50" y="310.70" font-size="13.6" text-anchor="start" fill="#000">d</text>
<g stroke="#1a2852" stroke-linecap="round" fill="none"><path d="M311.7,342.2L308.3,351.6" stroke-width="4.6"/><path d="M311.7,342.2L331.5,348.6" stroke-width="4.6"/><path d="M311.7,342.2L345.6,334.2" stroke-width="4.6"/><path d="M311.7,342.2L349.6,351.6" stroke-width="3.1"/><path d="M311.7,342.2L334.1,363.8" stroke-width="3.1"/><path d="M311.7,342.2L309.2,370.2" stroke-width="3.1"/><path d="M311.7,342.2L355.9,376.0" stroke-width="3.1"/><path d="M311.7,342.2L371.8,374.5" stroke-width="4.6"/><path d="M311.7,342.2L300.0,388.2" stroke-width="3.1"/><path d="M311.7,342.2L316.0,390.0" stroke-width="3.1"/><path d="M311.7,342.2L331.4,392.5" stroke-width="2.6"/><path d="M308.3,351.6L331.5,348.6" stroke-width="4.6"/><path d="M308.3,351.6L345.6,334.2" stroke-width="3.1"/><path d="M308.3,351.6L349.6,351.6" stroke-width="4.6"/><path d="M308.3,351.6L334.1,363.8" stroke-width="3.1"/><path d="M308.3,351.6L309.2,370.2" stroke-width="4.6"/><path d="M308.3,351.6L355.9,376.0" stroke-width="3.1"/><path d="M308.3,351.6L371.8,374.5" stroke-width="4.6"/><path d="M308.3,351.6L300.0,388.2" stroke-width="4.6"/><path d="M308.3,351.6L316.0,390.0" stroke-width="3.1"/><path d="M308.3,351.6L331.4,392.5" stroke-width="3.1"/><path d="M331.5,348.6L345.6,334.2" stroke-width="3.1"/><path d="M331.5,348.6L349.6,351.6" stroke-width="4.6"/><path d="M331.5,348.6L334.1,363.8" stroke-width="3.1"/><path d="M331.5,348.6L309.2,370.2" stroke-width="3.1"/><path d="M331.5,348.6L355.9,376.0" stroke-width="3.1"/><path d="M331.5,348.6L371.8,374.5" stroke-width="3.1"/><path d="M331.5,348.6L300.0,388.2" stroke-width="3.1"/><path d="M331.5,348.6L316.0,390.0" stroke-width="3.1"/><path d="M331.5,348.6L331.4,392.5" stroke-width="3.1"/><path d="M345.6,334.2L349.6,351.6" stroke-width="4.6"/><path d="M345.6,334.2L334.1,363.8" stroke-width="3.1"/><path d="M345.6,334.2L309.2,370.2" stroke-width="2.6"/><path d="M345.6,334.2L355.9,376.0" stroke-width="3.1"/><path d="M345.6,334.2L371.8,374.5" stroke-width="4.6"/><path d="M345.6,334.2L300.0,388.2" stroke-width="2.6"/><path d="M345.6,334.2L316.0,390.0" stroke-width="2.6"/><path d="M345.6,334.2L331.4,392.5" stroke-width="3.1"/><path d="M349.6,351.6L334.1,363.8" stroke-width="3.1"/><path d="M349.6,351.6L309.2,370.2" stroke-width="3.1"/><path d="M349.6,351.6L355.9,376.0" stroke-width="3.1"/><path d="M349.6,351.6L371.8,374.5" stroke-width="4.6"/><path d="M349.6,351.6L300.0,388.2" stroke-width="3.1"/><path d="M349.6,351.6L316.0,390.0" stroke-width="3.1"/><path d="M349.6,351.6L331.4,392.5" stroke-width="3.1"/><path d="M334.1,363.8L309.2,370.2" stroke-width="3.1"/><path d="M334.1,363.8L355.9,376.0" stroke-width="3.1"/><path d="M334.1,363.8L371.8,374.5" stroke-width="4.6"/><path d="M334.1,363.8L300.0,388.2" stroke-width="3.1"/><path d="M334.1,363.8L316.0,390.0" stroke-width="3.1"/><path d="M334.1,363.8L331.4,392.5" stroke-width="3.1"/><path d="M309.2,370.2L355.9,376.0" stroke-width="3.1"/><path d="M309.2,370.2L371.8,374.5" stroke-width="4.6"/><path d="M309.2,370.2L300.0,388.2" stroke-width="4.6"/><path d="M309.2,370.2L316.0,390.0" stroke-width="3.1"/><path d="M309.2,370.2L331.4,392.5" stroke-width="3.1"/><path d="M355.9,376.0L371.8,374.5" stroke-width="4.6"/><path d="M355.9,376.0L300.0,388.2" stroke-width="3.1"/><path d="M355.9,376.0L316.0,390.0" stroke-width="3.1"/><path d="M355.9,376.0L331.4,392.5" stroke-width="3.1"/><path d="M371.8,374.5L300.0,388.2" stroke-width="3.1"/><path d="M371.8,374.5L316.0,390.0" stroke-width="3.1"/><path d="M371.8,374.5L331.4,392.5" stroke-width="3.1"/><path d="M300.0,388.2L316.0,390.0" stroke-width="3.1"/><path d="M300.0,388.2L331.4,392.5" stroke-width="3.1"/><path d="M316.0,390.0L331.4,392.5" stroke-width="3.1"/><path d="M300.0,388.2L371.8,374.5" stroke-width="4.6"/><path d="M406.9,297.2L395.6,324.4" stroke-width="2.6"/><path d="M395.6,324.4L371.8,374.5" stroke-width="2.8"/><path d="M272.8,373.3L300.0,388.2" stroke-width="3.2"/><path d="M371.8,374.5L425.8,360.0" stroke-width="1.6"/><path d="M371.8,374.5L425.8,383.3" stroke-width="1.8"/><path d="M371.8,374.5L401.1,387.0" stroke-width="2.6"/><path d="M371.8,374.5L415.1,408.3" stroke-width="1.6"/><path d="M371.8,374.5L380.2,414.0" stroke-width="2.6"/><path d="M371.8,374.5L370.7,431.8" stroke-width="3.4"/><path d="M371.8,374.5L352.4,412.9" stroke-width="3.0"/><path d="M371.8,374.5L337.9,427.7" stroke-width="2.0"/><path d="M425.8,360.0L401.1,387.0" stroke-width="1.6"/><path d="M401.1,387.0L352.4,412.9" stroke-width="1.6"/><path d="M401.1,387.0L415.1,408.3" stroke-width="3.2"/><path d="M401.1,387.0L370.7,431.8" stroke-width="1.6"/><path d="M425.8,383.3L415.1,408.3" stroke-width="2.0"/><path d="M415.1,408.3L380.2,414.0" stroke-width="2.8"/><path d="M415.1,408.3L370.7,431.8" stroke-width="2.0"/><path d="M415.1,408.3L425.0,448.6" stroke-width="1.8"/><path d="M415.1,408.3L352.4,412.9" stroke-width="1.6"/><path d="M380.2,414.0L455.2,432.9" stroke-width="1.2"/><path d="M380.2,414.0L352.4,412.9" stroke-width="4.2"/><path d="M380.2,414.0L370.7,431.8" stroke-width="3.0"/><path d="M380.2,414.0L337.9,427.7" stroke-width="2.2"/><path d="M380.2,414.0L355.9,376.0" stroke-width="2.6"/><path d="M380.2,414.0L300.0,388.2" stroke-width="2.4"/><path d="M425.0,448.6L385.4,458.7" stroke-width="1.8"/><path d="M425.0,448.6L410.3,465.8" stroke-width="2.6"/><path d="M385.4,458.7L410.3,465.8" stroke-width="2.0"/><path d="M385.4,458.7L335.4,461.7" stroke-width="2.0"/><path d="M385.4,458.7L349.0,478.2" stroke-width="2.0"/><path d="M385.4,458.7L368.2,473.6" stroke-width="2.4"/><path d="M385.4,458.7L337.9,427.7" stroke-width="1.8"/><path d="M385.4,458.7L370.7,431.8" stroke-width="2.0"/><path d="M352.4,412.9L355.9,376.0" stroke-width="3.4"/><path d="M352.4,412.9L300.0,388.2" stroke-width="3.0"/><path d="M352.4,412.9L316.0,390.0" stroke-width="2.4"/><path d="M352.4,412.9L331.4,392.5" stroke-width="2.0"/><path d="M352.4,412.9L310.1,420.9" stroke-width="3.6"/><path d="M352.4,412.9L337.9,427.7" stroke-width="2.4"/><path d="M352.4,412.9L370.7,431.8" stroke-width="3.0"/><path d="M352.4,412.9L335.4,461.7" stroke-width="2.4"/><path d="M352.4,412.9L349.0,478.2" stroke-width="2.6"/><path d="M352.4,412.9L368.2,473.6" stroke-width="2.8"/><path d="M352.4,412.9L294.3,441.1" stroke-width="2.0"/><path d="M352.4,412.9L349.6,351.6" stroke-width="2.4"/><path d="M352.4,412.9L334.1,363.8" stroke-width="2.2"/><path d="M355.9,376.0L370.7,431.8" stroke-width="2.2"/><path d="M355.9,376.0L337.9,427.7" stroke-width="2.0"/><path d="M300.0,388.2L274.0,405.5" stroke-width="3.4"/><path d="M300.0,388.2L279.0,418.8" stroke-width="2.2"/><path d="M300.0,388.2L310.1,420.9" stroke-width="3.0"/><path d="M300.0,388.2L337.9,427.7" stroke-width="2.2"/><path d="M300.0,388.2L294.3,441.1" stroke-width="2.6"/><path d="M316.0,390.0L337.9,427.7" stroke-width="2.0"/><path d="M274.0,405.5L279.0,418.8" stroke-width="4.6"/><path d="M274.0,405.5L310.1,420.9" stroke-width="4.4"/><path d="M274.0,405.5L294.3,441.1" stroke-width="4.2"/><path d="M279.0,418.8L310.1,420.9" stroke-width="4.4"/><path d="M279.0,418.8L294.3,441.1" stroke-width="4.4"/><path d="M310.1,420.9L294.3,441.1" stroke-width="4.2"/><path d="M310.1,420.9L337.9,427.7" stroke-width="2.2"/><path d="M310.1,420.9L300.2,464.4" stroke-width="1.8"/><path d="M310.1,420.9L318.3,476.6" stroke-width="1.8"/><path d="M310.1,420.9L335.4,461.7" stroke-width="2.0"/><path d="M310.1,420.9L370.7,431.8" stroke-width="1.8"/><path d="M294.3,441.1L300.2,464.4" stroke-width="2.2"/><path d="M294.3,441.1L337.9,427.7" stroke-width="2.0"/><path d="M294.3,441.1L335.4,461.7" stroke-width="2.0"/><path d="M294.3,441.1L368.2,473.6" stroke-width="1.6"/><path d="M294.3,441.1L349.0,478.2" stroke-width="1.6"/><path d="M337.9,427.7L370.7,431.8" stroke-width="2.6"/><path d="M337.9,427.7L335.4,461.7" stroke-width="2.0"/><path d="M337.9,427.7L349.0,478.2" stroke-width="2.0"/><path d="M337.9,427.7L318.3,476.6" stroke-width="1.8"/><path d="M337.9,427.7L300.2,464.4" stroke-width="1.8"/><path d="M337.9,427.7L368.2,473.6" stroke-width="2.0"/><path d="M370.7,431.8L335.4,461.7" stroke-width="2.2"/><path d="M370.7,431.8L368.2,473.6" stroke-width="3.0"/><path d="M370.7,431.8L349.0,478.2" stroke-width="2.0"/><path d="M300.2,464.4L335.4,461.7" stroke-width="2.0"/><path d="M318.3,476.6L335.4,461.7" stroke-width="2.6"/><path d="M318.3,476.6L349.0,478.2" stroke-width="2.6"/><path d="M318.3,476.6L299.1,500.6" stroke-width="2.4"/><path d="M335.4,461.7L349.0,478.2" stroke-width="3.0"/><path d="M335.4,461.7L368.2,473.6" stroke-width="3.2"/><path d="M349.0,478.2L368.2,473.6" stroke-width="3.2"/></g>
<circle cx="406.9" cy="297.2" r="2.45" fill="#cfe6c8" stroke="#8a8f80" stroke-width="0.55"/><ellipse cx="406.4" cy="296.4" rx="1.3" ry="0.8" fill="#ffffff" opacity="0.55"/><circle cx="395.6" cy="324.4" r="2.45" fill="#d6e6c0" stroke="#8a8f80" stroke-width="0.55"/><ellipse cx="395.1" cy="323.6" rx="1.3" ry="0.8" fill="#ffffff" opacity="0.55"/><circle cx="345.6" cy="334.2" r="2.45" fill="#c6dff0" stroke="#8a8f80" stroke-width="0.55"/><ellipse cx="345.1" cy="333.4" rx="1.3" ry="0.8" fill="#ffffff" opacity="0.55"/><circle cx="311.7" cy="342.2" r="2.45" fill="#e8e0a0" stroke="#8a8f80" stroke-width="0.55"/><ellipse cx="311.2" cy="341.4" rx="1.3" ry="0.8" fill="#ffffff" opacity="0.55"/><circle cx="308.3" cy="351.6" r="2.45" fill="#e8d8a8" stroke="#8a8f80" stroke-width="0.55"/><ellipse cx="307.8" cy="350.8" rx="1.3" ry="0.8" fill="#ffffff" opacity="0.55"/><circle cx="331.5" cy="348.6" r="2.45" fill="#eab0a0" stroke="#8a8f80" stroke-width="0.55"/><ellipse cx="331.0" cy="347.8" rx="1.3" ry="0.8" fill="#ffffff" opacity="0.55"/><circle cx="349.6" cy="351.6" r="2.45" fill="#b8d8d0" stroke="#8a8f80" stroke-width="0.55"/><ellipse cx="349.1" cy="350.8" rx="1.3" ry="0.8" fill="#ffffff" opacity="0.55"/><circle cx="425.8" cy="360.0" r="2.45" fill="#f0d8c0" stroke="#8a8f80" stroke-width="0.55"/><ellipse cx="425.3" cy="359.2" rx="1.3" ry="0.8" fill="#ffffff" opacity="0.55"/><circle cx="334.1" cy="363.8" r="2.45" fill="#b8d8e0" stroke="#8a8f80" stroke-width="0.55"/><ellipse cx="333.6" cy="363.0" rx="1.3" ry="0.8" fill="#ffffff" opacity="0.55"/><circle cx="309.2" cy="370.2" r="2.45" fill="#b0d8c8" stroke="#8a8f80" stroke-width="0.55"/><ellipse cx="308.7" cy="369.4" rx="1.3" ry="0.8" fill="#ffffff" opacity="0.55"/><circle cx="272.8" cy="373.3" r="2.45" fill="#6080c8" stroke="#8a8f80" stroke-width="0.55"/><ellipse cx="272.3" cy="372.5" rx="1.3" ry="0.8" fill="#ffffff" opacity="0.55"/><circle cx="371.8" cy="374.5" r="2.45" fill="#f0e098" stroke="#8a8f80" stroke-width="0.55"/><ellipse cx="371.3" cy="373.7" rx="1.3" ry="0.8" fill="#ffffff" opacity="0.55"/><circle cx="355.9" cy="376.0" r="2.45" fill="#b8d0e8" stroke="#8a8f80" stroke-width="0.55"/><ellipse cx="355.4" cy="375.2" rx="1.3" ry="0.8" fill="#ffffff" opacity="0.55"/><circle cx="425.8" cy="383.3" r="2.45" fill="#b8d8f0" stroke="#8a8f80" stroke-width="0.55"/><ellipse cx="425.3" cy="382.5" rx="1.3" ry="0.8" fill="#ffffff" opacity="0.55"/><circle cx="401.1" cy="387.0" r="2.45" fill="#f0d8b8" stroke="#8a8f80" stroke-width="0.55"/><ellipse cx="400.6" cy="386.2" rx="1.3" ry="0.8" fill="#ffffff" opacity="0.55"/><circle cx="300.0" cy="388.2" r="2.45" fill="#b8e0c8" stroke="#8a8f80" stroke-width="0.55"/><ellipse cx="299.5" cy="387.4" rx="1.3" ry="0.8" fill="#ffffff" opacity="0.55"/><circle cx="316.0" cy="390.0" r="2.45" fill="#a8d8b0" stroke="#8a8f80" stroke-width="0.55"/><ellipse cx="315.5" cy="389.2" rx="1.3" ry="0.8" fill="#ffffff" opacity="0.55"/><circle cx="331.4" cy="392.5" r="2.45" fill="#88c888" stroke="#8a8f80" stroke-width="0.55"/><ellipse cx="330.9" cy="391.7" rx="1.3" ry="0.8" fill="#ffffff" opacity="0.55"/><circle cx="274.0" cy="405.5" r="2.45" fill="#c8e0d8" stroke="#8a8f80" stroke-width="0.55"/><ellipse cx="273.5" cy="404.7" rx="1.3" ry="0.8" fill="#ffffff" opacity="0.55"/><circle cx="415.1" cy="408.3" r="2.45" fill="#f0e8b0" stroke="#8a8f80" stroke-width="0.55"/><ellipse cx="414.6" cy="407.5" rx="1.3" ry="0.8" fill="#ffffff" opacity="0.55"/><circle cx="352.4" cy="412.9" r="2.45" fill="#f07060" stroke="#8a8f80" stroke-width="0.55"/><ellipse cx="351.9" cy="412.1" rx="1.3" ry="0.8" fill="#ffffff" opacity="0.55"/><circle cx="380.2" cy="414.0" r="2.45" fill="#b8e0f0" stroke="#8a8f80" stroke-width="0.55"/><ellipse cx="379.7" cy="413.2" rx="1.3" ry="0.8" fill="#ffffff" opacity="0.55"/><circle cx="279.0" cy="418.8" r="2.45" fill="#d0e0b8" stroke="#8a8f80" stroke-width="0.55"/><ellipse cx="278.5" cy="418.0" rx="1.3" ry="0.8" fill="#ffffff" opacity="0.55"/><circle cx="310.1" cy="420.9" r="2.45" fill="#e0e0a0" stroke="#8a8f80" stroke-width="0.55"/><ellipse cx="309.6" cy="420.1" rx="1.3" ry="0.8" fill="#ffffff" opacity="0.55"/><circle cx="337.9" cy="427.7" r="2.45" fill="#c0c0e8" stroke="#8a8f80" stroke-width="0.55"/><ellipse cx="337.4" cy="426.9" rx="1.3" ry="0.8" fill="#ffffff" opacity="0.55"/><circle cx="370.7" cy="431.8" r="2.45" fill="#b0d8d0" stroke="#8a8f80" stroke-width="0.55"/><ellipse cx="370.2" cy="431.0" rx="1.3" ry="0.8" fill="#ffffff" opacity="0.55"/><circle cx="455.2" cy="432.9" r="2.45" fill="#f0e8c0" stroke="#8a8f80" stroke-width="0.55"/><ellipse cx="454.7" cy="432.1" rx="1.3" ry="0.8" fill="#ffffff" opacity="0.55"/><circle cx="294.3" cy="441.1" r="2.45" fill="#b8d8e8" stroke="#8a8f80" stroke-width="0.55"/><ellipse cx="293.8" cy="440.3" rx="1.3" ry="0.8" fill="#ffffff" opacity="0.55"/><circle cx="425.0" cy="448.6" r="2.45" fill="#a8d8d8" stroke="#8a8f80" stroke-width="0.55"/><ellipse cx="424.5" cy="447.8" rx="1.3" ry="0.8" fill="#ffffff" opacity="0.55"/><circle cx="385.4" cy="458.7" r="2.45" fill="#a8d0e8" stroke="#8a8f80" stroke-width="0.55"/><ellipse cx="384.9" cy="457.9" rx="1.3" ry="0.8" fill="#ffffff" opacity="0.55"/><circle cx="335.4" cy="461.7" r="2.45" fill="#e8c890" stroke="#8a8f80" stroke-width="0.55"/><ellipse cx="334.9" cy="460.9" rx="1.3" ry="0.8" fill="#ffffff" opacity="0.55"/><circle cx="300.2" cy="464.4" r="2.45" fill="#b8d8e8" stroke="#8a8f80" stroke-width="0.55"/><ellipse cx="299.7" cy="463.6" rx="1.3" ry="0.8" fill="#ffffff" opacity="0.55"/><circle cx="410.3" cy="465.8" r="2.45" fill="#f0d0a8" stroke="#8a8f80" stroke-width="0.55"/><ellipse cx="409.8" cy="465.0" rx="1.3" ry="0.8" fill="#ffffff" opacity="0.55"/><circle cx="368.2" cy="473.6" r="2.45" fill="#a8d8c8" stroke="#8a8f80" stroke-width="0.55"/><ellipse cx="367.7" cy="472.8" rx="1.3" ry="0.8" fill="#ffffff" opacity="0.55"/><circle cx="318.3" cy="476.6" r="2.45" fill="#c8e0f0" stroke="#8a8f80" stroke-width="0.55"/><ellipse cx="317.8" cy="475.8" rx="1.3" ry="0.8" fill="#ffffff" opacity="0.55"/><circle cx="349.0" cy="478.2" r="2.45" fill="#b8d0f0" stroke="#8a8f80" stroke-width="0.55"/><ellipse cx="348.5" cy="477.4" rx="1.3" ry="0.8" fill="#ffffff" opacity="0.55"/><circle cx="299.1" cy="500.6" r="2.45" fill="#d8e0a8" stroke="#8a8f80" stroke-width="0.55"/><ellipse cx="298.6" cy="499.8" rx="1.3" ry="0.8" fill="#ffffff" opacity="0.55"/>
<text x="410.20" y="298.60" font-size="4.3" text-anchor="start" fill="#111" font-weight="bold" textLength="11.27" lengthAdjust="spacingAndGlyphs" stroke="#111" stroke-width="0.1">S100a8</text>
<text x="399.20" y="326.00" font-size="4.3" text-anchor="start" fill="#111" font-weight="bold" textLength="7.63" lengthAdjust="spacingAndGlyphs" stroke="#111" stroke-width="0.1">Lcn2</text>
<text x="346.50" y="331.20" font-size="4.3" text-anchor="start" fill="#111" font-weight="bold" textLength="12.53" lengthAdjust="spacingAndGlyphs" stroke="#111" stroke-width="0.1">Col18a1</text>
<text x="298.67" y="340.50" font-size="4.3" text-anchor="start" fill="#111" font-weight="bold" textLength="10.53" lengthAdjust="spacingAndGlyphs" stroke="#111" stroke-width="0.1">Lamb1</text>
<text x="294.88" y="350.00" font-size="4.3" text-anchor="start" fill="#111" font-weight="bold" textLength="10.72" lengthAdjust="spacingAndGlyphs" stroke="#111" stroke-width="0.1">Col1a1</text>
<rect x="325.54" y="352.05" width="12.12" height="4.6" fill="#ffffff" opacity="0.92"/>
<text x="326.24" y="355.60" font-size="4.3" text-anchor="start" fill="#111" font-weight="bold" textLength="10.72" lengthAdjust="spacingAndGlyphs" stroke="#111" stroke-width="0.1">Col5a1</text>
<rect x="349.54" y="355.05" width="12.12" height="4.6" fill="#ffffff" opacity="0.92"/>
<text x="350.24" y="358.60" font-size="4.3" text-anchor="start" fill="#111" font-weight="bold" textLength="10.72" lengthAdjust="spacingAndGlyphs" stroke="#111" stroke-width="0.1">Col3a1</text>
<text x="428.00" y="357.40" font-size="4.3" text-anchor="start" fill="#111" font-weight="bold" textLength="9.08" lengthAdjust="spacingAndGlyphs" stroke="#111" stroke-width="0.1">Mki67</text>
<rect x="327.97" y="367.35" width="12.66" height="4.6" fill="#ffffff" opacity="0.92"/>
<text x="328.67" y="370.90" font-size="4.3" text-anchor="start" fill="#111" font-weight="bold" textLength="11.26" lengthAdjust="spacingAndGlyphs" stroke="#111" stroke-width="0.1">Mmp14</text>
<rect x="295.17" y="368.35" width="11.93" height="4.6" fill="#ffffff" opacity="0.92"/>
<text x="295.87" y="371.90" font-size="4.3" text-anchor="start" fill="#111" font-weight="bold" textLength="10.53" lengthAdjust="spacingAndGlyphs" stroke="#111" stroke-width="0.1">Lamb2</text>
<text x="259.46" y="371.20" font-size="4.3" text-anchor="start" fill="#111" font-weight="bold" textLength="10.54" lengthAdjust="spacingAndGlyphs" stroke="#111" stroke-width="0.1">Pla2g7</text>
<text x="374.20" y="372.20" font-size="4.3" text-anchor="start" fill="#111" font-weight="bold" textLength="9.44" lengthAdjust="spacingAndGlyphs" stroke="#111" stroke-width="0.1">Mmp2</text>
<rect x="351.60" y="379.65" width="9.21" height="4.6" fill="#ffffff" opacity="0.92"/>
<text x="352.30" y="383.20" font-size="4.3" text-anchor="start" fill="#111" font-weight="bold" textLength="7.81" lengthAdjust="spacingAndGlyphs" stroke="#111" stroke-width="0.1">Itgb3</text>
<text x="428.00" y="380.60" font-size="4.3" text-anchor="start" fill="#111" font-weight="bold" textLength="9.08" lengthAdjust="spacingAndGlyphs" stroke="#111" stroke-width="0.1">Bmp6</text>
<text x="404.20" y="387.20" font-size="4.3" text-anchor="start" fill="#111" font-weight="bold" textLength="9.44" lengthAdjust="spacingAndGlyphs" stroke="#111" stroke-width="0.1">Mfge8</text>
<rect x="295.10" y="391.85" width="9.39" height="4.6" fill="#ffffff" opacity="0.92"/>
<text x="295.80" y="395.40" font-size="4.3" text-anchor="start" fill="#111" font-weight="bold" textLength="7.99" lengthAdjust="spacingAndGlyphs" stroke="#111" stroke-width="0.1">Cd44</text>
<text x="311.49" y="396.40" font-size="4.3" text-anchor="start" fill="#111" font-weight="bold" textLength="5.81" lengthAdjust="spacingAndGlyphs" stroke="#111" stroke-width="0.1">Igf1</text>
<text x="330.66" y="398.60" font-size="4.3" text-anchor="start" fill="#111" font-weight="bold" textLength="7.08" lengthAdjust="spacingAndGlyphs" stroke="#111" stroke-width="0.1">Nid1</text>
<text x="259.74" y="404.20" font-size="4.3" text-anchor="start" fill="#111" font-weight="bold" textLength="11.26" lengthAdjust="spacingAndGlyphs" stroke="#111" stroke-width="0.1">H2-Eb1</text>
<text x="418.60" y="409.90" font-size="4.3" text-anchor="start" fill="#111" font-weight="bold" textLength="4.17" lengthAdjust="spacingAndGlyphs" stroke="#111" stroke-width="0.1">Ltf</text>
<rect x="350.80" y="415.05" width="9.21" height="4.6" fill="#ffffff" opacity="0.92"/>
<text x="351.50" y="418.60" font-size="4.3" text-anchor="start" fill="#111" font-weight="bold" textLength="7.81" lengthAdjust="spacingAndGlyphs" stroke="#111" stroke-width="0.1">Itgb2</text>
<text x="381.60" y="420.20" font-size="4.3" text-anchor="start" fill="#111" font-weight="bold" textLength="8.72" lengthAdjust="spacingAndGlyphs" stroke="#111" stroke-width="0.1">Itgam</text>
<text x="266.36" y="421.00" font-size="4.3" text-anchor="start" fill="#111" font-weight="bold" textLength="9.44" lengthAdjust="spacingAndGlyphs" stroke="#111" stroke-width="0.1">H2-Aa</text>
<text x="310.88" y="416.60" font-size="4.3" text-anchor="start" fill="#111" font-weight="bold" textLength="11.44" lengthAdjust="spacingAndGlyphs" stroke="#111" stroke-width="0.1">H2-Ab1</text>
<rect x="334.72" y="430.65" width="9.76" height="4.6" fill="#ffffff" opacity="0.92"/>
<text x="335.42" y="434.20" font-size="4.3" text-anchor="start" fill="#111" font-weight="bold" textLength="8.36" lengthAdjust="spacingAndGlyphs" stroke="#111" stroke-width="0.1">Csf1r</text>
<text x="373.40" y="437.80" font-size="4.3" text-anchor="start" fill="#111" font-weight="bold" textLength="8.17" lengthAdjust="spacingAndGlyphs" stroke="#111" stroke-width="0.1">Cybb</text>
<text x="458.60" y="434.60" font-size="4.3" text-anchor="start" fill="#111" font-weight="bold" textLength="9.26" lengthAdjust="spacingAndGlyphs" stroke="#111" stroke-width="0.1">Mcam</text>
<text x="283.41" y="443.90" font-size="4.3" text-anchor="start" fill="#111" font-weight="bold" textLength="7.99" lengthAdjust="spacingAndGlyphs" stroke="#111" stroke-width="0.1">Cd74</text>
<text x="427.40" y="453.60" font-size="4.3" text-anchor="start" fill="#111" font-weight="bold" textLength="5.63" lengthAdjust="spacingAndGlyphs" stroke="#111" stroke-width="0.1">Fes</text>
<text x="386.40" y="455.40" font-size="4.3" text-anchor="start" fill="#111" font-weight="bold" textLength="10.71" lengthAdjust="spacingAndGlyphs" stroke="#111" stroke-width="0.1">Inpp5d</text>
<text x="337.60" y="459.80" font-size="4.3" text-anchor="start" fill="#111" font-weight="bold" textLength="11.26" lengthAdjust="spacingAndGlyphs" stroke="#111" stroke-width="0.1">Coro1a</text>
<text x="283.58" y="466.20" font-size="4.3" text-anchor="start" fill="#111" font-weight="bold" textLength="13.62" lengthAdjust="spacingAndGlyphs" stroke="#111" stroke-width="0.1">Unc93b1</text>
<text x="412.00" y="472.40" font-size="4.3" text-anchor="start" fill="#111" font-weight="bold" textLength="7.08" lengthAdjust="spacingAndGlyphs" stroke="#111" stroke-width="0.1">Bmx</text>
<text x="370.20" y="479.90" font-size="4.3" text-anchor="start" fill="#111" font-weight="bold" textLength="9.44" lengthAdjust="spacingAndGlyphs" stroke="#111" stroke-width="0.1">Myo1f</text>
<text x="315.51" y="483.40" font-size="4.3" text-anchor="start" fill="#111" font-weight="bold" textLength="6.17" lengthAdjust="spacingAndGlyphs" stroke="#111" stroke-width="0.1">Cfl1</text>
<text x="345.19" y="485.00" font-size="4.3" text-anchor="start" fill="#111" font-weight="bold" textLength="7.63" lengthAdjust="spacingAndGlyphs" stroke="#111" stroke-width="0.1">Lcp1</text>
<text x="301.20" y="505.00" font-size="4.3" text-anchor="start" fill="#111" font-weight="bold" textLength="9.63" lengthAdjust="spacingAndGlyphs" stroke="#111" stroke-width="0.1">Syne2</text>
</g>
<g id="panel-ef">
<text x="1.70" y="522.60" font-size="13.6" text-anchor="start" fill="#000">e</text>
<text x="267.00" y="521.60" font-size="13.6" text-anchor="start" fill="#000">f</text>
<defs><filter id="soft" x="-5%" y="-5%" width="110%" height="110%"><feGaussianBlur stdDeviation="0.45"/></filter><filter id="soft2" x="-5%" y="-5%" width="110%" height="110%"><feGaussianBlur stdDeviation="0.8"/></filter><filter id="fibG" x="0" y="0" width="100%" height="100%" color-interpolation-filters="sRGB"><feTurbulence type="fractalNoise" baseFrequency="0.065 0.45" numOctaves="4" seed="5" result="n"/><feColorMatrix type="matrix" values="0.30 0 0 0 -0.06  1.6 0 0 0 -0.30  0.28 0 0 0 -0.06  0 0 0 0 1"/></filter><filter id="fibGb" x="0" y="0" width="100%" height="100%" color-interpolation-filters="sRGB"><feTurbulence type="fractalNoise" baseFrequency="0.065 0.45" numOctaves="4" seed="9" result="n"/><feColorMatrix type="matrix" values="0.30 0 0 0 -0.06  1.5 0 0 0 -0.22  0.55 0 0 0 -0.10  0 0 0 0 1"/></filter><filter id="fibY" x="0" y="0" width="100%" height="100%" color-interpolation-filters="sRGB"><feTurbulence type="fractalNoise" baseFrequency="0.065 0.45" numOctaves="4" seed="13" result="n"/><feColorMatrix type="matrix" values="0 2.0 0 0 -0.56  1.6 0.2 0 0 -0.40  0.22 0 0 0 -0.02  0 0 0 0 1"/></filter><filter id="fibDk" x="0" y="0" width="100%" height="100%" color-interpolation-filters="sRGB"><feTurbulence type="fractalNoise" baseFrequency="0.025 0.22" numOctaves="3" seed="21" result="n"/><feColorMatrix type="matrix" values="0.06 0 0 0 -0.01  0.34 0 0 0 -0.09  0.08 0 0 0 -0.01  0 0 0 0 1"/></filter><filter id="cldG" x="0" y="0" width="100%" height="100%" color-interpolation-filters="sRGB"><feTurbulence type="fractalNoise" baseFrequency="0.13 0.17" numOctaves="4" seed="4" result="n"/><feColorMatrix type="matrix" values="0.30 0 0 0 -0.04  1.3 0 0 0 -0.08  0.30 0 0 0 -0.04  0 0 0 0 1"/></filter><filter id="cldGb" x="0" y="0" width="100%" height="100%" color-interpolation-filters="sRGB"><feTurbulence type="fractalNoise" baseFrequency="0.13 0.17" numOctaves="4" seed="8" result="n"/><feColorMatrix type="matrix" values="0.28 0 0 0 -0.04  1.3 0 0 0 -0.10  0.55 0 0 0 -0.06  0 0 0 0 1"/></filter><filter id="cldY" x="0" y="0" width="100%" height="100%" color-interpolation-filters="sRGB"><feTurbulence type="fractalNoise" baseFrequency="0.14 0.18" numOctaves="4" seed="17" result="n"/><feColorMatrix type="matrix" values="0 1.2 0 0 -0.12  1.1 0.2 0 0 -0.02  0.30 0 0 0 0.06  0 0 0 0 1"/></filter><filter id="cldDk" x="0" y="0" width="100%" height="100%" color-interpolation-filters="sRGB"><feTurbulence type="fractalNoise" baseFrequency="0.03 0.05" numOctaves="3" seed="2" result="n"/><feColorMatrix type="matrix" values="0.06 0 0 0 0.0  0.22 0 0 0 0.0  0.08 0 0 0 0.0  0 0 0 0 1"/></filter><filter id="cldNavy" x="0" y="0" width="100%" height="100%" color-interpolation-filters="sRGB"><feTurbulence type="fractalNoise" baseFrequency="0.04 0.06" numOctaves="3" seed="6" result="n"/><feColorMatrix type="matrix" values="0.04 0 0 0 0  0.26 0 0 0 -0.07  0.30 0 0 0 0.0  0 0 0 0 1"/></filter><filter id="hazeP" x="0" y="0" width="100%" height="100%" color-interpolation-filters="sRGB"><feTurbulence type="fractalNoise" baseFrequency="0.06 0.10" numOctaves="3" seed="12" result="n"/><feColorMatrix type="matrix" values="0.40 0 0 0 -0.12  0.04 0 0 0 0  0.60 0 0 0 -0.14  0 0 0 0 1"/></filter><filter id="hazeR" x="0" y="0" width="100%" height="100%" color-interpolation-filters="sRGB"><feTurbulence type="fractalNoise" baseFrequency="0.07 0.10" numOctaves="3" seed="15" result="n"/><feColorMatrix type="matrix" values="0.70 0 0 0 -0.16  0.05 0 0 0 0  0.40 0 0 0 -0.10  0 0 0 0 1"/></filter><clipPath id="cp1"><rect x="35.8" y="529.3" width="74.60" height="76.00"/></clipPath><clipPath id="cp2"><rect x="110.9" y="529.3" width="75.00" height="76.00"/></clipPath><clipPath id="cp3"><rect x="186.4" y="529.3" width="75.00" height="76.00"/></clipPath><clipPath id="cp4"><rect x="35.8" y="607.4" width="74.60" height="75.60"/></clipPath><clipPath id="cp5"><rect x="110.9" y="607.4" width="75.00" height="75.60"/></clipPath><clipPath id="cp6"><rect x="186.4" y="607.4" width="75.00" height="75.60"/></clipPath><clipPath id="cp7"><rect x="293.4" y="529.3" width="76.00" height="76.00"/></clipPath><clipPath id="cp8"><rect x="369.9" y="529.3" width="75.10" height="76.00"/></clipPath><clipPath id="cp9"><rect x="445.4" y="529.3" width="75.00" height="76.00"/></clipPath><linearGradient id="shBL" x1="0" y1="1" x2="1" y2="0"><stop offset="0" stop-color="#000" stop-opacity="0.68"/><stop offset="0.5" stop-color="#000" stop-opacity="0.26"/><stop offset="1" stop-color="#000" stop-opacity="0"/></linearGradient><radialGradient id="hiTR" cx="0.85" cy="0.25" r="0.75"><stop offset="0" stop-color="#58ff58" stop-opacity="0.42"/><stop offset="1" stop-color="#50ff50" stop-opacity="0"/></radialGradient><radialGradient id="hiY" cx="0.8" cy="0.2" r="0.8"><stop offset="0" stop-color="#e0f080" stop-opacity="0.38"/><stop offset="1" stop-color="#e0f080" stop-opacity="0"/></radialGradient><clipPath id="cp10"><rect x="293.4" y="607.4" width="76.00" height="75.60"/></clipPath><clipPath id="cp11"><rect x="369.9" y="607.4" width="75.10" height="75.60"/></clipPath><clipPath id="cp12"><rect x="445.4" y="607.4" width="75.00" height="75.60"/></clipPath></defs>
<g clip-path="url(#cp1)"><rect x="35.8" y="529.3" width="74.6" height="76.0" fill="#0c0418"/><rect x="14.1" y="508.3" width="118" height="118" filter="url(#hazeP)" transform="rotate(20 73.1 567.3)" opacity="0.6"/><g fill="#3420b8" opacity="0.85" filter="url(#soft2)"><ellipse cx="106.6" cy="529.8" rx="3.34" ry="1.42" transform="rotate(33 106.6 529.8)"/><ellipse cx="90.1" cy="529.2" rx="3.34" ry="1.75" transform="rotate(39 90.1 529.2)"/><ellipse cx="104.2" cy="533.5" rx="2.85" ry="1.81" transform="rotate(14 104.2 533.5)"/><ellipse cx="112.2" cy="536.9" rx="2.98" ry="1.94" transform="rotate(23 112.2 536.9)"/><ellipse cx="78.4" cy="528.9" rx="3.54" ry="1.24" transform="rotate(19 78.4 528.9)"/><ellipse cx="90.6" cy="534.0" rx="3.32" ry="1.21" transform="rotate(23 90.6 534.0)"/><ellipse cx="101.3" cy="541.4" rx="2.68" ry="1.70" transform="rotate(29 101.3 541.4)"/><ellipse cx="48.9" cy="527.9" rx="2.45" ry="1.96" transform="rotate(26 48.9 527.9)"/><ellipse cx="56.5" cy="528.0" rx="2.45" ry="1.55" transform="rotate(13 56.5 528.0)"/><ellipse cx="68.3" cy="534.0" rx="2.40" ry="1.81" transform="rotate(6 68.3 534.0)"/><ellipse cx="86.6" cy="544.1" rx="3.06" ry="1.91" transform="rotate(8 86.6 544.1)"/><ellipse cx="99.1" cy="545.3" rx="3.47" ry="1.86" transform="rotate(20 99.1 545.3)"/><ellipse cx="108.9" cy="552.6" rx="2.36" ry="1.83" transform="rotate(10 108.9 552.6)"/><ellipse cx="41.0" cy="532.6" rx="3.53" ry="1.77" transform="rotate(35 41.0 532.6)"/><ellipse cx="54.3" cy="536.5" rx="3.69" ry="1.79" transform="rotate(22 54.3 536.5)"/><ellipse cx="66.8" cy="540.0" rx="3.62" ry="1.24" transform="rotate(31 66.8 540.0)"/><ellipse cx="78.0" cy="548.3" rx="3.13" ry="1.21" transform="rotate(31 78.0 548.3)"/><ellipse cx="86.5" cy="547.6" rx="3.32" ry="1.62" transform="rotate(13 86.5 547.6)"/><ellipse cx="99.1" cy="555.9" rx="2.68" ry="1.65" transform="rotate(24 99.1 555.9)"/><ellipse cx="110.6" cy="557.3" rx="3.72" ry="1.64" transform="rotate(36 110.6 557.3)"/><ellipse cx="38.5" cy="540.5" rx="2.38" ry="1.31" transform="rotate(30 38.5 540.5)"/><ellipse cx="57.9" cy="545.0" rx="3.49" ry="1.30" transform="rotate(24 57.9 545.0)"/><ellipse cx="62.9" cy="548.7" rx="3.00" ry="1.44" transform="rotate(9 62.9 548.7)"/><ellipse cx="82.3" cy="553.3" rx="2.49" ry="1.54" transform="rotate(9 82.3 553.3)"/><ellipse cx="90.8" cy="561.0" rx="2.51" ry="1.84" transform="rotate(33 90.8 561.0)"/><ellipse cx="102.0" cy="564.0" rx="2.63" ry="1.73" transform="rotate(7 102.0 564.0)"/><ellipse cx="34.1" cy="544.1" rx="2.73" ry="1.32" transform="rotate(4 34.1 544.1)"/><ellipse cx="43.7" cy="550.0" rx="3.58" ry="1.33" transform="rotate(12 43.7 550.0)"/><ellipse cx="55.8" cy="553.6" rx="3.62" ry="1.40" transform="rotate(30 55.8 553.6)"/><ellipse cx="73.0" cy="559.1" rx="2.73" ry="1.82" transform="rotate(35 73.0 559.1)"/><ellipse cx="78.7" cy="560.5" rx="2.78" ry="1.91" transform="rotate(25 78.7 560.5)"/><ellipse cx="90.9" cy="565.1" rx="2.73" ry="1.66" transform="rotate(29 90.9 565.1)"/><ellipse cx="103.0" cy="571.0" rx="2.68" ry="1.95" transform="rotate(15 103.0 571.0)"/><ellipse cx="38.3" cy="553.5" rx="2.49" ry="1.93" transform="rotate(39 38.3 553.5)"/><ellipse cx="46.1" cy="556.6" rx="2.27" ry="1.29" transform="rotate(30 46.1 556.6)"/><ellipse cx="59.4" cy="562.6" rx="3.58" ry="1.90" transform="rotate(20 59.4 562.6)"/><ellipse cx="75.4" cy="566.9" rx="2.92" ry="1.94" transform="rotate(13 75.4 566.9)"/><ellipse cx="84.7" cy="571.7" rx="2.41" ry="1.53" transform="rotate(12 84.7 571.7)"/><ellipse cx="96.3" cy="574.4" rx="3.56" ry="1.90" transform="rotate(29 96.3 574.4)"/><ellipse cx="104.7" cy="582.5" rx="2.51" ry="1.30" transform="rotate(4 104.7 582.5)"/><ellipse cx="41.3" cy="564.4" rx="2.86" ry="1.94" transform="rotate(25 41.3 564.4)"/><ellipse cx="54.7" cy="567.3" rx="3.17" ry="1.75" transform="rotate(26 54.7 567.3)"/><ellipse cx="67.5" cy="574.8" rx="3.59" ry="1.89" transform="rotate(11 67.5 574.8)"/><ellipse cx="73.1" cy="574.5" rx="3.42" ry="1.34" transform="rotate(34 73.1 574.5)"/><ellipse cx="88.5" cy="580.0" rx="2.80" ry="1.77" transform="rotate(6 88.5 580.0)"/><ellipse cx="102.0" cy="584.8" rx="3.55" ry="1.89" transform="rotate(11 102.0 584.8)"/><ellipse cx="46.4" cy="571.0" rx="2.98" ry="1.32" transform="rotate(29 46.4 571.0)"/><ellipse cx="58.2" cy="574.8" rx="2.51" ry="1.60" transform="rotate(33 58.2 574.8)"/><ellipse cx="69.6" cy="580.7" rx="3.20" ry="1.39" transform="rotate(31 69.6 580.7)"/><ellipse cx="78.4" cy="583.4" rx="2.73" ry="1.54" transform="rotate(36 78.4 583.4)"/><ellipse cx="89.0" cy="590.5" rx="3.30" ry="1.23" transform="rotate(20 89.0 590.5)"/><ellipse cx="101.1" cy="592.5" rx="2.98" ry="1.84" transform="rotate(27 101.1 592.5)"/><ellipse cx="35.8" cy="577.1" rx="3.11" ry="1.97" transform="rotate(17 35.8 577.1)"/><ellipse cx="47.5" cy="577.5" rx="3.44" ry="1.57" transform="rotate(6 47.5 577.5)"/><ellipse cx="56.7" cy="583.6" rx="2.66" ry="1.37" transform="rotate(15 56.7 583.6)"/><ellipse cx="72.1" cy="591.9" rx="2.55" ry="1.97" transform="rotate(34 72.1 591.9)"/><ellipse cx="83.7" cy="593.1" rx="2.68" ry="1.83" transform="rotate(23 83.7 593.1)"/><ellipse cx="95.1" cy="601.3" rx="3.58" ry="1.32" transform="rotate(25 95.1 601.3)"/><ellipse cx="105.1" cy="605.3" rx="2.29" ry="1.35" transform="rotate(29 105.1 605.3)"/><ellipse cx="39.0" cy="585.1" rx="2.72" ry="1.43" transform="rotate(19 39.0 585.1)"/><ellipse cx="54.2" cy="590.7" rx="3.37" ry="1.53" transform="rotate(24 54.2 590.7)"/><ellipse cx="66.6" cy="594.7" rx="3.42" ry="1.38" transform="rotate(22 66.6 594.7)"/><ellipse cx="72.4" cy="595.3" rx="2.29" ry="1.50" transform="rotate(40 72.4 595.3)"/><ellipse cx="84.8" cy="602.7" rx="2.60" ry="1.46" transform="rotate(34 84.8 602.7)"/><ellipse cx="44.7" cy="595.3" rx="3.71" ry="1.90" transform="rotate(10 44.7 595.3)"/><ellipse cx="57.6" cy="598.4" rx="3.06" ry="1.32" transform="rotate(7 57.6 598.4)"/><ellipse cx="62.5" cy="600.2" rx="2.58" ry="1.76" transform="rotate(5 62.5 600.2)"/><ellipse cx="40.8" cy="602.0" rx="2.68" ry="1.66" transform="rotate(23 40.8 602.0)"/><ellipse cx="54.1" cy="605.9" rx="2.76" ry="1.28" transform="rotate(7 54.1 605.9)"/><ellipse cx="38.0" cy="605.9" rx="2.82" ry="1.77" transform="rotate(34 38.0 605.9)"/></g><path d="M32.6,528.3Q36.3,527.5 40.8,527.2M32.6,528.3Q34.7,531.1 36.3,535.3M40.8,527.2Q44.4,530.5 47.8,532.4M47.8,532.4Q46.4,535.1 47.1,539.3M47.1,539.3Q40.5,537.3 36.3,535.3M30.2,538.3Q32.2,536.9 36.3,535.3M60.2,533.9Q59.6,534.4 60.8,534.7M60.2,533.9Q61.1,532.6 63.2,529.9M60.8,534.7Q69.4,538.6 76.5,540.2M76.5,540.2Q78.0,539.4 79.6,536.6M63.2,529.9Q68.4,529.6 71.6,530.1M71.6,530.1Q76.9,534.5 79.6,536.6M20.3,538.0Q26.2,544.0 33.9,548.7M31.5,552.4Q33.2,550.8 33.9,548.7M60.2,533.9Q58.0,532.4 54.8,532.0M60.8,534.7Q61.4,538.4 60.3,541.0M54.8,532.0Q50.5,533.4 47.8,532.4M47.1,539.3Q48.2,538.7 48.1,540.4M60.3,541.0Q53.0,539.8 48.1,540.4M91.3,540.2Q87.2,538.9 82.3,536.5M91.3,540.2Q93.7,544.9 93.8,547.7M76.5,540.2Q75.8,540.1 76.6,541.6M76.6,541.6Q77.1,542.6 79.7,544.1M82.3,536.5Q80.7,536.2 79.6,536.6M79.7,544.1Q87.6,546.2 93.8,547.7M91.3,540.2Q92.8,541.0 92.7,540.0M92.7,540.0Q100.8,543.4 107.6,546.8M107.6,546.8Q103.9,549.0 100.6,551.0M100.6,551.0Q97.9,550.8 95.4,549.7M93.8,547.7Q95.5,549.2 95.4,549.7M63.2,529.9Q60.0,527.4 58.1,524.5M71.4,527.1Q71.4,527.6 71.6,530.1M54.8,532.0Q52.0,528.5 51.3,525.2M82.3,536.5Q84.8,534.0 84.9,530.5M84.9,530.5Q82.4,528.6 82.2,524.7M92.7,540.0Q96.2,538.2 98.6,535.9M98.6,535.9Q96.5,533.9 97.0,533.0M84.9,530.5Q90.5,531.7 97.0,533.0M30.2,538.3Q34.5,542.1 40.9,545.2M33.9,548.7Q35.7,549.1 36.9,548.8M36.9,548.8Q38.9,547.2 40.9,545.2M48.1,540.4Q47.2,543.6 48.3,545.1M40.9,545.2Q45.6,546.1 48.3,545.1M76.6,541.6Q73.6,543.2 69.1,546.2M60.3,541.0Q61.9,541.4 64.6,544.3M69.1,546.2Q67.6,546.1 64.6,544.3M50.3,547.0Q50.4,546.3 48.3,545.1M50.3,547.0Q54.2,549.0 56.6,549.2M64.6,544.3Q59.6,545.6 56.6,549.2M113.9,582.5Q112.0,581.2 108.1,577.5M113.9,586.9Q112.4,587.6 109.8,587.7M105.0,577.0Q106.3,578.2 108.1,577.5M105.0,577.0Q100.4,577.1 96.9,579.6M109.8,587.7Q104.1,582.5 96.9,579.6M106.1,599.2Q107.6,596.9 107.9,593.9M106.1,599.2Q109.1,601.5 114.1,604.1M107.9,593.9Q111.9,595.7 117.1,596.0M101.9,598.8Q101.4,601.4 99.5,604.8M101.9,598.8Q103.1,598.6 106.1,599.2M108.5,609.3Q103.8,607.4 99.5,604.8M106.3,590.1Q109.2,588.4 109.8,587.7M106.3,590.1Q106.1,592.3 107.9,593.9M31.5,552.4Q34.7,556.2 38.3,558.7M38.3,558.7Q35.7,560.8 32.3,562.7M64.0,558.5Q59.7,557.4 53.7,557.8M64.0,558.5Q65.1,555.9 64.7,554.9M50.3,547.0Q49.8,550.5 49.5,553.7M64.7,554.9Q60.7,551.0 56.6,549.2M53.7,557.8Q51.5,555.2 49.5,553.7M36.9,548.8Q39.3,550.8 42.9,553.1M49.5,553.7Q46.0,552.6 42.9,553.1M38.3,558.7Q39.9,560.0 40.6,559.0M42.9,553.1Q42.9,555.2 40.6,559.0M90.5,553.6Q86.4,551.6 83.6,550.1M90.5,553.6Q90.9,555.0 90.9,555.5M90.9,555.5Q87.5,556.9 83.7,558.3M83.6,550.1Q79.4,552.4 72.7,552.4M83.7,558.3Q80.5,555.9 75.8,554.9M75.8,554.9Q74.9,552.5 72.7,552.6M72.7,552.6Q73.8,553.0 72.7,552.4M79.7,544.1Q82.8,546.9 83.6,550.1M95.4,549.7Q93.5,551.0 90.5,553.6M100.6,551.0Q103.6,551.9 104.3,554.6M96.6,559.6Q92.5,557.0 90.9,555.5M96.6,559.6Q101.7,560.1 105.9,560.4M105.9,560.4Q105.9,558.0 104.3,554.6M69.1,546.2Q71.6,550.4 72.7,552.4M64.7,554.9Q67.5,552.7 72.7,552.6M24.9,592.4Q29.6,591.3 35.5,592.1M35.5,592.1Q35.9,591.8 36.1,590.3M36.1,590.3Q31.7,586.5 28.9,582.7M64.0,558.5Q65.1,559.1 67.5,562.3M75.8,554.9Q75.3,558.4 75.9,563.2M67.5,562.3Q72.2,564.0 75.9,563.2M106.3,590.1Q99.1,588.2 94.1,586.5M96.9,579.6Q96.3,580.0 96.0,579.6M96.0,579.6Q94.1,584.2 94.1,586.5M101.9,598.8Q98.3,597.5 95.9,595.8M95.9,595.8Q94.7,591.3 94.1,586.5M94.1,586.5Q95.1,586.8 94.1,586.5M53.7,557.8Q52.2,561.0 51.5,561.8M40.6,559.0Q43.3,561.9 47.8,562.4M47.8,562.4Q50.1,561.4 51.5,561.8M39.2,568.4Q37.0,566.5 32.3,562.7M39.2,568.4Q43.7,568.5 48.1,567.0M47.8,562.4Q46.9,564.1 48.1,567.0M39.2,568.4Q39.6,571.9 40.0,573.0M40.0,573.0Q45.6,575.4 51.9,575.1M51.9,575.1Q52.5,573.6 52.7,571.0M48.1,567.0Q51.1,568.0 52.7,571.0M97.5,529.3Q93.3,526.4 86.9,523.0M97.5,529.3Q97.5,528.2 99.5,528.9M99.5,528.9Q104.6,523.6 108.3,518.0M97.0,533.0Q98.3,532.1 97.5,529.3M106.5,539.0Q102.7,537.2 98.6,535.9M106.5,539.0Q108.4,537.4 109.0,533.4M109.0,533.4Q103.8,531.2 99.5,528.9M113.5,532.7Q110.3,531.8 109.0,533.4M113.5,532.7Q109.8,525.0 108.3,518.0M108.1,577.5Q110.0,575.4 111.3,571.3M117.8,573.0Q115.2,573.4 111.3,571.3M110.1,542.2Q109.2,545.3 109.5,546.6M110.1,542.2Q113.0,541.6 116.7,541.7M109.5,546.6Q113.2,550.5 116.7,551.9M106.5,539.0Q108.2,539.4 110.1,542.2M107.6,546.8Q108.2,546.9 109.5,546.6M104.3,554.6Q110.2,554.1 115.2,555.4M96.6,559.6Q95.9,561.1 96.3,564.3M83.7,558.3Q84.5,559.7 85.2,561.7M85.2,561.7Q90.3,563.0 96.3,564.3M105.0,577.0Q101.1,573.6 95.9,569.6M109.3,568.8Q110.9,569.8 111.3,571.3M109.3,568.8Q104.7,566.7 97.9,566.7M95.9,569.6Q95.8,567.1 97.9,566.7M105.9,560.4Q107.9,561.3 110.0,563.1M110.0,563.1Q108.9,564.7 109.3,568.8M96.3,564.3Q97.8,564.4 97.9,566.7M93.7,606.7Q95.2,609.6 95.9,610.0M93.7,606.7Q92.9,606.8 93.3,606.4M93.3,606.4Q89.7,606.1 84.1,606.2M84.1,606.2Q85.7,608.3 85.2,612.9M99.5,604.8Q96.8,606.5 93.7,606.7M95.9,595.8Q93.6,596.7 91.4,595.9M91.4,595.9Q90.6,598.1 87.4,598.5M87.4,598.5Q90.2,603.0 93.3,606.4M51.1,594.3Q52.1,597.6 51.2,600.2M51.1,594.3Q47.3,591.5 46.0,590.1M35.5,592.1Q37.3,593.4 38.4,596.6M36.1,590.3Q40.1,591.5 46.0,590.1M51.2,600.2Q49.5,601.8 47.7,601.0M38.4,596.6Q44.0,599.5 47.7,601.0M40.0,573.0Q39.7,572.5 39.8,573.3M39.8,573.3Q34.6,572.2 31.6,572.7M43.5,581.5Q37.4,581.4 31.2,580.8M43.5,581.5Q40.8,577.3 39.8,573.3M91.4,595.9Q86.4,593.1 82.0,588.2M94.1,586.5Q89.8,586.5 86.6,584.8M86.6,584.8Q84.7,587.6 82.0,588.2M43.5,581.5Q45.0,582.2 47.6,584.0M51.9,575.1Q53.4,576.2 55.0,578.4M55.0,578.4Q51.5,582.4 47.6,584.0M46.0,590.1Q46.9,586.4 47.7,584.2M47.7,584.2Q46.5,584.4 47.6,584.0M51.1,594.3Q55.4,593.2 60.0,594.7M60.0,594.7Q60.2,592.8 61.0,589.3M47.7,584.2Q54.7,586.3 61.0,589.3M51.5,561.8Q58.7,566.5 63.4,568.7M52.7,571.0Q55.6,570.3 61.0,571.2M61.0,571.2Q62.5,569.5 63.4,568.7M67.5,562.3Q66.6,566.0 67.2,568.1M67.2,568.1Q67.9,568.3 66.5,568.5M66.5,568.5Q66.2,568.8 63.4,568.7M110.0,563.1Q111.6,563.1 112.5,563.0M82.5,566.1Q81.0,570.1 77.9,572.1M82.5,566.1Q83.1,566.1 83.8,566.1M83.8,566.1Q87.8,568.9 90.3,569.8M90.3,569.8Q90.9,572.0 90.7,576.0M90.7,576.0Q85.0,575.5 81.2,575.7M77.9,572.1Q78.4,573.5 81.2,575.7M67.2,568.1Q72.2,569.1 77.9,572.1M75.9,563.2Q78.3,565.0 82.5,566.1M85.2,561.7Q85.5,563.2 83.8,566.1M95.9,569.6Q93.7,569.5 90.3,569.8M96.0,579.6Q92.0,578.9 90.7,576.0M86.6,584.8Q82.5,581.7 80.4,578.7M80.4,578.7Q79.5,576.7 81.2,575.7M51.2,600.2Q54.6,601.4 58.7,603.3M60.0,594.7Q60.7,596.4 61.2,595.7M61.2,595.7Q60.2,599.4 58.7,603.3M62.1,609.3Q63.6,607.8 63.4,606.6M76.9,611.7Q74.3,608.8 70.8,606.2M70.8,606.2Q67.7,605.3 63.4,606.6M59.3,610.6Q52.5,608.5 47.3,605.4M47.7,601.0Q48.2,602.8 47.3,605.4M58.7,603.3Q59.8,605.3 63.4,606.6M87.4,598.5Q82.9,597.5 80.5,597.1M84.1,606.2Q80.6,604.9 75.4,602.0M80.5,597.1Q78.8,598.6 75.4,602.0M70.8,606.2Q72.5,603.0 72.9,602.2M75.4,602.0Q75.4,602.8 72.9,602.2M61.2,595.7Q67.0,599.3 71.4,601.0M72.9,602.2Q73.0,602.3 71.4,601.0M33.7,601.2Q34.9,600.0 33.8,601.1M33.8,601.1Q38.4,604.5 45.2,606.9M45.2,606.9Q42.5,626.4 41.8,644.3M38.4,596.6Q35.9,599.6 33.8,601.1M47.3,605.4Q45.2,606.3 45.2,606.9M80.4,578.7Q78.0,579.5 74.4,579.0M66.5,568.5Q68.6,572.6 72.5,578.1M74.4,579.0Q74.3,579.3 72.5,578.1M61.0,571.2Q62.6,573.0 64.2,577.4M72.5,578.1Q68.9,578.4 64.2,577.4M55.0,578.4Q58.7,580.7 61.7,580.6M61.7,580.6Q63.3,579.8 64.2,577.4M78.7,595.0Q73.1,593.4 68.8,592.9M78.7,595.0Q78.9,593.0 76.6,588.3M76.6,588.3Q74.0,587.8 73.4,586.7M73.4,586.7Q70.3,586.5 66.2,585.6M66.2,585.6Q64.6,586.8 63.6,588.7M63.6,588.7Q67.3,589.8 68.8,592.9M80.5,597.1Q78.5,596.7 78.7,595.0M71.4,601.0Q68.8,596.6 68.8,592.9M82.0,588.2Q79.4,588.7 76.6,588.3M74.4,579.0Q73.3,583.2 73.4,586.7M61.7,580.6Q64.4,583.9 66.2,585.6M61.0,589.3Q62.2,590.1 63.6,588.7" fill="none" stroke="#e82420" stroke-width="1.05" stroke-linecap="round" stroke-dasharray="5 0.9 2.5 0.7" opacity="0.85" filter="url(#soft)"/><rect x="36.6" y="602.1" width="26.2" height="1.9" fill="#ffffff"/></g><g clip-path="url(#cp2)"><rect x="110.9" y="529.3" width="75.0" height="76.0" fill="#030a2a"/><rect x="89.4" y="508.3" width="118" height="118" filter="url(#cldNavy)" transform="rotate(20 148.4 567.3)" opacity="0.55"/><g fill="#121cc8" opacity="0.88" filter="url(#soft2)"><ellipse cx="181.9" cy="529.8" rx="3.23" ry="1.42" transform="rotate(33 181.9 529.8)"/><ellipse cx="165.5" cy="529.2" rx="3.23" ry="1.75" transform="rotate(39 165.5 529.2)"/><ellipse cx="179.6" cy="533.6" rx="2.75" ry="1.81" transform="rotate(14 179.6 533.6)"/><ellipse cx="187.6" cy="536.9" rx="2.88" ry="1.94" transform="rotate(23 187.6 536.9)"/><ellipse cx="153.7" cy="528.9" rx="3.42" ry="1.24" transform="rotate(19 153.7 528.9)"/><ellipse cx="165.9" cy="534.0" rx="3.21" ry="1.21" transform="rotate(23 165.9 534.0)"/><ellipse cx="176.6" cy="541.5" rx="2.59" ry="1.70" transform="rotate(29 176.6 541.5)"/><ellipse cx="124.0" cy="527.9" rx="2.37" ry="1.96" transform="rotate(26 124.0 527.9)"/><ellipse cx="131.7" cy="527.9" rx="2.37" ry="1.55" transform="rotate(13 131.7 527.9)"/><ellipse cx="143.5" cy="534.0" rx="2.32" ry="1.81" transform="rotate(6 143.5 534.0)"/><ellipse cx="161.9" cy="544.1" rx="2.96" ry="1.91" transform="rotate(8 161.9 544.1)"/><ellipse cx="174.4" cy="545.4" rx="3.36" ry="1.86" transform="rotate(20 174.4 545.4)"/><ellipse cx="184.3" cy="552.6" rx="2.29" ry="1.83" transform="rotate(10 184.3 552.6)"/><ellipse cx="116.1" cy="532.5" rx="3.41" ry="1.77" transform="rotate(35 116.1 532.5)"/><ellipse cx="129.4" cy="536.5" rx="3.56" ry="1.79" transform="rotate(22 129.4 536.5)"/><ellipse cx="142.0" cy="540.0" rx="3.50" ry="1.24" transform="rotate(31 142.0 540.0)"/><ellipse cx="153.3" cy="548.3" rx="3.02" ry="1.21" transform="rotate(31 153.3 548.3)"/><ellipse cx="161.8" cy="547.7" rx="3.21" ry="1.62" transform="rotate(13 161.8 547.7)"/><ellipse cx="174.5" cy="555.9" rx="2.59" ry="1.65" transform="rotate(24 174.5 555.9)"/><ellipse cx="186.1" cy="557.4" rx="3.60" ry="1.64" transform="rotate(36 186.1 557.4)"/><ellipse cx="113.6" cy="540.4" rx="2.30" ry="1.31" transform="rotate(30 113.6 540.4)"/><ellipse cx="133.1" cy="544.9" rx="3.37" ry="1.30" transform="rotate(24 133.1 544.9)"/><ellipse cx="138.2" cy="548.7" rx="2.90" ry="1.44" transform="rotate(9 138.2 548.7)"/><ellipse cx="157.6" cy="553.3" rx="2.40" ry="1.54" transform="rotate(9 157.6 553.3)"/><ellipse cx="166.2" cy="561.0" rx="2.42" ry="1.84" transform="rotate(33 166.2 561.0)"/><ellipse cx="177.4" cy="564.1" rx="2.54" ry="1.73" transform="rotate(7 177.4 564.1)"/><ellipse cx="109.2" cy="544.0" rx="2.64" ry="1.32" transform="rotate(4 109.2 544.0)"/><ellipse cx="118.8" cy="549.9" rx="3.46" ry="1.33" transform="rotate(12 118.8 549.9)"/><ellipse cx="131.0" cy="553.5" rx="3.49" ry="1.40" transform="rotate(30 131.0 553.5)"/><ellipse cx="148.3" cy="559.1" rx="2.64" ry="1.82" transform="rotate(35 148.3 559.1)"/><ellipse cx="154.0" cy="560.5" rx="2.68" ry="1.91" transform="rotate(25 154.0 560.5)"/><ellipse cx="166.3" cy="565.1" rx="2.64" ry="1.66" transform="rotate(29 166.3 565.1)"/><ellipse cx="178.4" cy="571.0" rx="2.59" ry="1.95" transform="rotate(15 178.4 571.0)"/><ellipse cx="113.4" cy="553.4" rx="2.40" ry="1.93" transform="rotate(39 113.4 553.4)"/><ellipse cx="121.2" cy="556.6" rx="2.19" ry="1.29" transform="rotate(30 121.2 556.6)"/><ellipse cx="134.6" cy="562.6" rx="3.46" ry="1.90" transform="rotate(20 134.6 562.6)"/><ellipse cx="150.7" cy="566.9" rx="2.82" ry="1.94" transform="rotate(13 150.7 566.9)"/><ellipse cx="160.0" cy="571.8" rx="2.33" ry="1.53" transform="rotate(12 160.0 571.8)"/><ellipse cx="171.7" cy="574.4" rx="3.44" ry="1.90" transform="rotate(29 171.7 574.4)"/><ellipse cx="180.1" cy="582.6" rx="2.43" ry="1.30" transform="rotate(4 180.1 582.6)"/><ellipse cx="116.5" cy="564.3" rx="2.76" ry="1.94" transform="rotate(25 116.5 564.3)"/><ellipse cx="129.9" cy="567.3" rx="3.07" ry="1.75" transform="rotate(26 129.9 567.3)"/><ellipse cx="142.8" cy="574.8" rx="3.47" ry="1.89" transform="rotate(11 142.8 574.8)"/><ellipse cx="148.4" cy="574.5" rx="3.31" ry="1.34" transform="rotate(34 148.4 574.5)"/><ellipse cx="163.8" cy="580.0" rx="2.70" ry="1.77" transform="rotate(6 163.8 580.0)"/><ellipse cx="177.4" cy="584.9" rx="3.43" ry="1.89" transform="rotate(11 177.4 584.9)"/><ellipse cx="121.6" cy="570.9" rx="2.88" ry="1.32" transform="rotate(29 121.6 570.9)"/><ellipse cx="133.5" cy="574.8" rx="2.43" ry="1.60" transform="rotate(33 133.5 574.8)"/><ellipse cx="144.9" cy="580.8" rx="3.10" ry="1.39" transform="rotate(31 144.9 580.8)"/><ellipse cx="153.7" cy="583.4" rx="2.64" ry="1.54" transform="rotate(36 153.7 583.4)"/><ellipse cx="164.4" cy="590.5" rx="3.19" ry="1.23" transform="rotate(20 164.4 590.5)"/><ellipse cx="176.5" cy="592.6" rx="2.88" ry="1.84" transform="rotate(27 176.5 592.6)"/><ellipse cx="110.9" cy="577.1" rx="3.00" ry="1.97" transform="rotate(17 110.9 577.1)"/><ellipse cx="122.8" cy="577.5" rx="3.32" ry="1.57" transform="rotate(6 122.8 577.5)"/><ellipse cx="131.9" cy="583.6" rx="2.57" ry="1.37" transform="rotate(15 131.9 583.6)"/><ellipse cx="147.5" cy="591.9" rx="2.47" ry="1.97" transform="rotate(34 147.5 591.9)"/><ellipse cx="159.1" cy="593.1" rx="2.59" ry="1.83" transform="rotate(23 159.1 593.1)"/><ellipse cx="170.6" cy="601.3" rx="3.46" ry="1.32" transform="rotate(25 170.6 601.3)"/><ellipse cx="180.6" cy="605.4" rx="2.22" ry="1.35" transform="rotate(29 180.6 605.4)"/><ellipse cx="114.2" cy="585.1" rx="2.63" ry="1.43" transform="rotate(19 114.2 585.1)"/><ellipse cx="129.5" cy="590.7" rx="3.26" ry="1.53" transform="rotate(24 129.5 590.7)"/><ellipse cx="141.9" cy="594.7" rx="3.31" ry="1.38" transform="rotate(22 141.9 594.7)"/><ellipse cx="147.7" cy="595.3" rx="2.21" ry="1.50" transform="rotate(40 147.7 595.3)"/><ellipse cx="160.2" cy="602.7" rx="2.52" ry="1.46" transform="rotate(34 160.2 602.7)"/><ellipse cx="120.0" cy="595.3" rx="3.59" ry="1.90" transform="rotate(10 120.0 595.3)"/><ellipse cx="132.9" cy="598.3" rx="2.96" ry="1.32" transform="rotate(7 132.9 598.3)"/><ellipse cx="137.8" cy="600.2" rx="2.50" ry="1.76" transform="rotate(5 137.8 600.2)"/><ellipse cx="116.0" cy="602.0" rx="2.59" ry="1.66" transform="rotate(23 116.0 602.0)"/><ellipse cx="129.4" cy="605.9" rx="2.67" ry="1.28" transform="rotate(7 129.4 605.9)"/><ellipse cx="113.3" cy="605.9" rx="2.73" ry="1.77" transform="rotate(34 113.3 605.9)"/></g></g><g clip-path="url(#cp3)"><rect x="186.4" y="529.3" width="75.0" height="76.0" fill="#020803"/><rect x="164.9" y="508.3" width="118" height="118" filter="url(#fibDk)" transform="rotate(-25 223.9 567.3)" opacity="0.7"/></g><g clip-path="url(#cp4)"><rect x="35.8" y="607.4" width="74.6" height="75.6" fill="#3a4a10"/><rect x="14.1" y="586.2" width="118" height="118" filter="url(#fibY)" transform="rotate(-27 73.1 645.2)" opacity="1"/><g fill="#5a34e8" opacity="0.95" filter="url(#soft)"><ellipse cx="39.8" cy="604.4" rx="3.51" ry="2.01" transform="rotate(-14 39.8 604.4)"/><ellipse cx="47.0" cy="606.1" rx="3.98" ry="1.74" transform="rotate(-19 47.0 606.1)"/><ellipse cx="61.0" cy="610.9" rx="3.69" ry="2.06" transform="rotate(-33 61.0 610.9)"/><ellipse cx="70.8" cy="604.5" rx="3.66" ry="1.79" transform="rotate(-26 70.8 604.5)"/><ellipse cx="88.8" cy="610.9" rx="2.81" ry="1.80" transform="rotate(-33 88.8 610.9)"/><ellipse cx="99.4" cy="604.4" rx="3.21" ry="1.93" transform="rotate(-39 99.4 604.4)"/><ellipse cx="106.1" cy="605.5" rx="3.19" ry="2.10" transform="rotate(-31 106.1 605.5)"/><ellipse cx="46.5" cy="615.0" rx="3.37" ry="1.44" transform="rotate(-24 46.5 615.0)"/><ellipse cx="60.2" cy="615.8" rx="3.08" ry="1.88" transform="rotate(-18 60.2 615.8)"/><ellipse cx="68.7" cy="614.9" rx="3.85" ry="1.46" transform="rotate(-11 68.7 614.9)"/><ellipse cx="76.9" cy="620.2" rx="3.57" ry="1.42" transform="rotate(-12 76.9 620.2)"/><ellipse cx="95.7" cy="615.3" rx="2.88" ry="1.77" transform="rotate(-43 95.7 615.3)"/><ellipse cx="101.1" cy="613.9" rx="2.48" ry="2.08" transform="rotate(-28 101.1 613.9)"/><ellipse cx="111.4" cy="616.4" rx="3.86" ry="1.70" transform="rotate(-43 111.4 616.4)"/><ellipse cx="38.3" cy="625.4" rx="3.81" ry="1.87" transform="rotate(-16 38.3 625.4)"/><ellipse cx="48.0" cy="630.3" rx="3.33" ry="1.45" transform="rotate(-31 48.0 630.3)"/><ellipse cx="62.2" cy="622.8" rx="2.51" ry="1.59" transform="rotate(-36 62.2 622.8)"/><ellipse cx="77.6" cy="630.3" rx="3.66" ry="1.33" transform="rotate(-13 77.6 630.3)"/><ellipse cx="83.8" cy="630.4" rx="3.20" ry="1.72" transform="rotate(-33 83.8 630.4)"/><ellipse cx="92.8" cy="629.9" rx="3.86" ry="1.44" transform="rotate(-27 92.8 629.9)"/><ellipse cx="105.2" cy="629.5" rx="3.54" ry="1.29" transform="rotate(-22 105.2 629.5)"/><ellipse cx="48.0" cy="633.0" rx="2.67" ry="1.80" transform="rotate(-40 48.0 633.0)"/><ellipse cx="52.3" cy="636.4" rx="3.93" ry="1.99" transform="rotate(-14 52.3 636.4)"/><ellipse cx="63.6" cy="632.4" rx="3.50" ry="1.84" transform="rotate(-25 63.6 632.4)"/><ellipse cx="74.2" cy="634.7" rx="3.27" ry="1.39" transform="rotate(-34 74.2 634.7)"/><ellipse cx="92.3" cy="635.6" rx="3.08" ry="2.09" transform="rotate(-33 92.3 635.6)"/><ellipse cx="103.6" cy="632.2" rx="3.28" ry="1.33" transform="rotate(-37 103.6 632.2)"/><ellipse cx="110.4" cy="636.4" rx="3.33" ry="1.78" transform="rotate(-43 110.4 636.4)"/><ellipse cx="42.3" cy="645.2" rx="4.11" ry="1.68" transform="rotate(-26 42.3 645.2)"/><ellipse cx="44.6" cy="642.8" rx="3.92" ry="1.38" transform="rotate(-22 44.6 642.8)"/><ellipse cx="63.1" cy="647.5" rx="2.69" ry="2.02" transform="rotate(-17 63.1 647.5)"/><ellipse cx="70.2" cy="644.9" rx="3.76" ry="2.01" transform="rotate(-18 70.2 644.9)"/><ellipse cx="80.3" cy="645.5" rx="2.61" ry="1.63" transform="rotate(-43 80.3 645.5)"/><ellipse cx="99.2" cy="645.2" rx="3.98" ry="1.43" transform="rotate(-43 99.2 645.2)"/><ellipse cx="111.3" cy="643.1" rx="3.67" ry="1.37" transform="rotate(-37 111.3 643.1)"/><ellipse cx="32.8" cy="651.2" rx="3.06" ry="1.73" transform="rotate(-14 32.8 651.2)"/><ellipse cx="43.1" cy="655.4" rx="2.60" ry="1.49" transform="rotate(-15 43.1 655.4)"/><ellipse cx="52.8" cy="654.9" rx="3.64" ry="1.52" transform="rotate(-31 52.8 654.9)"/><ellipse cx="62.4" cy="653.8" rx="2.82" ry="1.78" transform="rotate(-30 62.4 653.8)"/><ellipse cx="83.4" cy="655.6" rx="3.54" ry="1.28" transform="rotate(-30 83.4 655.6)"/><ellipse cx="90.9" cy="657.4" rx="4.03" ry="1.48" transform="rotate(-25 90.9 657.4)"/><ellipse cx="104.5" cy="654.6" rx="3.75" ry="1.40" transform="rotate(-36 104.5 654.6)"/><ellipse cx="113.2" cy="657.4" rx="3.15" ry="1.42" transform="rotate(-27 113.2 657.4)"/><ellipse cx="34.6" cy="664.6" rx="3.79" ry="1.81" transform="rotate(-33 34.6 664.6)"/><ellipse cx="49.9" cy="665.9" rx="3.45" ry="2.12" transform="rotate(-36 49.9 665.9)"/><ellipse cx="60.8" cy="662.9" rx="3.68" ry="1.39" transform="rotate(-39 60.8 662.9)"/><ellipse cx="73.6" cy="661.8" rx="2.68" ry="1.77" transform="rotate(-36 73.6 661.8)"/><ellipse cx="89.5" cy="664.8" rx="3.65" ry="1.78" transform="rotate(-21 89.5 664.8)"/><ellipse cx="94.7" cy="663.7" rx="2.79" ry="1.50" transform="rotate(-23 94.7 663.7)"/><ellipse cx="111.9" cy="667.3" rx="4.10" ry="1.35" transform="rotate(-40 111.9 667.3)"/><ellipse cx="34.8" cy="672.0" rx="3.11" ry="2.00" transform="rotate(-14 34.8 672.0)"/><ellipse cx="42.8" cy="672.8" rx="4.03" ry="1.90" transform="rotate(-29 42.8 672.8)"/><ellipse cx="51.0" cy="673.8" rx="2.56" ry="1.85" transform="rotate(-17 51.0 673.8)"/><ellipse cx="67.7" cy="675.3" rx="3.48" ry="1.61" transform="rotate(-44 67.7 675.3)"/><ellipse cx="77.4" cy="676.8" rx="3.26" ry="1.54" transform="rotate(-40 77.4 676.8)"/><ellipse cx="93.2" cy="673.7" rx="3.49" ry="1.37" transform="rotate(-28 93.2 673.7)"/><ellipse cx="99.9" cy="676.5" rx="3.17" ry="2.05" transform="rotate(-28 99.9 676.5)"/><ellipse cx="37.1" cy="683.9" rx="2.92" ry="1.58" transform="rotate(-11 37.1 683.9)"/><ellipse cx="51.4" cy="684.8" rx="3.00" ry="2.08" transform="rotate(-29 51.4 684.8)"/><ellipse cx="59.2" cy="680.0" rx="2.77" ry="1.98" transform="rotate(-14 59.2 680.0)"/><ellipse cx="77.7" cy="679.6" rx="3.90" ry="1.63" transform="rotate(-15 77.7 679.6)"/><ellipse cx="89.9" cy="681.5" rx="3.62" ry="1.43" transform="rotate(-44 89.9 681.5)"/><ellipse cx="92.0" cy="680.8" rx="2.66" ry="1.76" transform="rotate(-19 92.0 680.8)"/><ellipse cx="111.1" cy="681.6" rx="3.45" ry="1.47" transform="rotate(-42 111.1 681.6)"/></g></g><g clip-path="url(#cp5)"><rect x="110.9" y="607.4" width="75.0" height="75.6" fill="#0c4a14"/><rect x="89.4" y="586.2" width="118" height="118" filter="url(#fibGb)" transform="rotate(-27 148.4 645.2)" opacity="1"/><g fill="#1a38f0" opacity="0.95" filter="url(#soft)"><ellipse cx="114.9" cy="604.4" rx="3.51" ry="2.01" transform="rotate(-14 114.9 604.4)"/><ellipse cx="122.2" cy="606.1" rx="3.98" ry="1.74" transform="rotate(-19 122.2 606.1)"/><ellipse cx="136.3" cy="610.9" rx="3.69" ry="2.06" transform="rotate(-33 136.3 610.9)"/><ellipse cx="146.1" cy="604.5" rx="3.66" ry="1.79" transform="rotate(-26 146.1 604.5)"/><ellipse cx="164.2" cy="610.9" rx="2.81" ry="1.80" transform="rotate(-33 164.2 610.9)"/><ellipse cx="174.8" cy="604.4" rx="3.21" ry="1.93" transform="rotate(-39 174.8 604.4)"/><ellipse cx="181.6" cy="605.5" rx="3.19" ry="2.10" transform="rotate(-31 181.6 605.5)"/><ellipse cx="121.7" cy="615.0" rx="3.37" ry="1.44" transform="rotate(-24 121.7 615.0)"/><ellipse cx="135.4" cy="615.8" rx="3.08" ry="1.88" transform="rotate(-18 135.4 615.8)"/><ellipse cx="144.0" cy="614.9" rx="3.85" ry="1.46" transform="rotate(-11 144.0 614.9)"/><ellipse cx="152.3" cy="620.2" rx="3.57" ry="1.42" transform="rotate(-12 152.3 620.2)"/><ellipse cx="171.1" cy="615.3" rx="2.88" ry="1.77" transform="rotate(-43 171.1 615.3)"/><ellipse cx="176.5" cy="613.9" rx="2.48" ry="2.08" transform="rotate(-28 176.5 613.9)"/><ellipse cx="186.9" cy="616.4" rx="3.86" ry="1.70" transform="rotate(-43 186.9 616.4)"/><ellipse cx="113.4" cy="625.4" rx="3.81" ry="1.87" transform="rotate(-16 113.4 625.4)"/><ellipse cx="123.1" cy="630.3" rx="3.33" ry="1.45" transform="rotate(-31 123.1 630.3)"/><ellipse cx="137.4" cy="622.8" rx="2.51" ry="1.59" transform="rotate(-36 137.4 622.8)"/><ellipse cx="153.0" cy="630.3" rx="3.66" ry="1.33" transform="rotate(-13 153.0 630.3)"/><ellipse cx="159.2" cy="630.4" rx="3.20" ry="1.72" transform="rotate(-33 159.2 630.4)"/><ellipse cx="168.2" cy="629.9" rx="3.86" ry="1.44" transform="rotate(-27 168.2 629.9)"/><ellipse cx="180.7" cy="629.5" rx="3.54" ry="1.29" transform="rotate(-22 180.7 629.5)"/><ellipse cx="123.1" cy="633.0" rx="2.67" ry="1.80" transform="rotate(-40 123.1 633.0)"/><ellipse cx="127.5" cy="636.4" rx="3.93" ry="1.99" transform="rotate(-14 127.5 636.4)"/><ellipse cx="138.8" cy="632.4" rx="3.50" ry="1.84" transform="rotate(-25 138.8 632.4)"/><ellipse cx="149.5" cy="634.7" rx="3.27" ry="1.39" transform="rotate(-34 149.5 634.7)"/><ellipse cx="167.7" cy="635.6" rx="3.08" ry="2.09" transform="rotate(-33 167.7 635.6)"/><ellipse cx="179.1" cy="632.2" rx="3.28" ry="1.33" transform="rotate(-37 179.1 632.2)"/><ellipse cx="185.9" cy="636.4" rx="3.33" ry="1.78" transform="rotate(-43 185.9 636.4)"/><ellipse cx="117.4" cy="645.2" rx="4.11" ry="1.68" transform="rotate(-26 117.4 645.2)"/><ellipse cx="119.8" cy="642.8" rx="3.92" ry="1.38" transform="rotate(-22 119.8 642.8)"/><ellipse cx="138.3" cy="647.5" rx="2.69" ry="2.02" transform="rotate(-17 138.3 647.5)"/><ellipse cx="145.5" cy="644.9" rx="3.76" ry="2.01" transform="rotate(-18 145.5 644.9)"/><ellipse cx="155.6" cy="645.5" rx="2.61" ry="1.63" transform="rotate(-43 155.6 645.5)"/><ellipse cx="174.7" cy="645.2" rx="3.98" ry="1.43" transform="rotate(-43 174.7 645.2)"/><ellipse cx="186.8" cy="643.1" rx="3.67" ry="1.37" transform="rotate(-37 186.8 643.1)"/><ellipse cx="107.9" cy="651.2" rx="3.06" ry="1.73" transform="rotate(-14 107.9 651.2)"/><ellipse cx="118.3" cy="655.4" rx="2.60" ry="1.49" transform="rotate(-15 118.3 655.4)"/><ellipse cx="128.0" cy="654.9" rx="3.64" ry="1.52" transform="rotate(-31 128.0 654.9)"/><ellipse cx="137.7" cy="653.8" rx="2.82" ry="1.78" transform="rotate(-30 137.7 653.8)"/><ellipse cx="158.7" cy="655.6" rx="3.54" ry="1.28" transform="rotate(-30 158.7 655.6)"/><ellipse cx="166.2" cy="657.4" rx="4.03" ry="1.48" transform="rotate(-25 166.2 657.4)"/><ellipse cx="180.0" cy="654.6" rx="3.75" ry="1.40" transform="rotate(-36 180.0 654.6)"/><ellipse cx="188.7" cy="657.4" rx="3.15" ry="1.42" transform="rotate(-27 188.7 657.4)"/><ellipse cx="109.7" cy="664.6" rx="3.79" ry="1.81" transform="rotate(-33 109.7 664.6)"/><ellipse cx="125.1" cy="665.9" rx="3.45" ry="2.12" transform="rotate(-36 125.1 665.9)"/><ellipse cx="136.0" cy="662.9" rx="3.68" ry="1.39" transform="rotate(-39 136.0 662.9)"/><ellipse cx="149.0" cy="661.8" rx="2.68" ry="1.77" transform="rotate(-36 149.0 661.8)"/><ellipse cx="164.9" cy="664.8" rx="3.65" ry="1.78" transform="rotate(-21 164.9 664.8)"/><ellipse cx="170.1" cy="663.7" rx="2.79" ry="1.50" transform="rotate(-23 170.1 663.7)"/><ellipse cx="187.4" cy="667.3" rx="4.10" ry="1.35" transform="rotate(-40 187.4 667.3)"/><ellipse cx="110.0" cy="672.0" rx="3.11" ry="2.00" transform="rotate(-14 110.0 672.0)"/><ellipse cx="117.9" cy="672.8" rx="4.03" ry="1.90" transform="rotate(-29 117.9 672.8)"/><ellipse cx="126.2" cy="673.8" rx="2.56" ry="1.85" transform="rotate(-17 126.2 673.8)"/><ellipse cx="143.0" cy="675.3" rx="3.48" ry="1.61" transform="rotate(-44 143.0 675.3)"/><ellipse cx="152.7" cy="676.8" rx="3.26" ry="1.54" transform="rotate(-40 152.7 676.8)"/><ellipse cx="168.6" cy="673.7" rx="3.49" ry="1.37" transform="rotate(-28 168.6 673.7)"/><ellipse cx="175.3" cy="676.5" rx="3.17" ry="2.05" transform="rotate(-28 175.3 676.5)"/><ellipse cx="112.3" cy="683.9" rx="2.92" ry="1.58" transform="rotate(-11 112.3 683.9)"/><ellipse cx="126.6" cy="684.8" rx="3.00" ry="2.08" transform="rotate(-29 126.6 684.8)"/><ellipse cx="134.4" cy="680.0" rx="2.77" ry="1.98" transform="rotate(-14 134.4 680.0)"/><ellipse cx="153.0" cy="679.6" rx="3.90" ry="1.63" transform="rotate(-15 153.0 679.6)"/><ellipse cx="165.2" cy="681.5" rx="3.62" ry="1.43" transform="rotate(-44 165.2 681.5)"/><ellipse cx="167.3" cy="680.8" rx="2.66" ry="1.76" transform="rotate(-19 167.3 680.8)"/><ellipse cx="186.6" cy="681.6" rx="3.45" ry="1.47" transform="rotate(-42 186.6 681.6)"/></g></g><g clip-path="url(#cp6)"><rect x="186.4" y="607.4" width="75.0" height="75.6" fill="#083a0c"/><rect x="164.9" y="586.2" width="118" height="118" filter="url(#fibG)" transform="rotate(-27 223.9 645.2)" opacity="1"/><g fill="#011504" opacity="0.55" filter="url(#soft2)"><ellipse cx="190.4" cy="604.4" rx="3.51" ry="1.77" transform="rotate(-14 190.4 604.4)"/><ellipse cx="197.7" cy="606.1" rx="3.98" ry="1.53" transform="rotate(-19 197.7 606.1)"/><ellipse cx="211.8" cy="610.9" rx="3.69" ry="1.82" transform="rotate(-33 211.8 610.9)"/><ellipse cx="221.6" cy="604.5" rx="3.66" ry="1.58" transform="rotate(-26 221.6 604.5)"/><ellipse cx="239.7" cy="610.9" rx="2.81" ry="1.59" transform="rotate(-33 239.7 610.9)"/><ellipse cx="250.3" cy="604.4" rx="3.21" ry="1.71" transform="rotate(-39 250.3 604.4)"/><ellipse cx="257.1" cy="605.5" rx="3.19" ry="1.85" transform="rotate(-31 257.1 605.5)"/><ellipse cx="197.2" cy="615.0" rx="3.37" ry="1.27" transform="rotate(-24 197.2 615.0)"/><ellipse cx="210.9" cy="615.8" rx="3.08" ry="1.66" transform="rotate(-18 210.9 615.8)"/><ellipse cx="219.5" cy="614.9" rx="3.85" ry="1.29" transform="rotate(-11 219.5 614.9)"/><ellipse cx="227.8" cy="620.2" rx="3.57" ry="1.26" transform="rotate(-12 227.8 620.2)"/><ellipse cx="246.6" cy="615.3" rx="2.88" ry="1.56" transform="rotate(-43 246.6 615.3)"/><ellipse cx="252.0" cy="613.9" rx="2.48" ry="1.84" transform="rotate(-28 252.0 613.9)"/><ellipse cx="262.4" cy="616.4" rx="3.86" ry="1.50" transform="rotate(-43 262.4 616.4)"/><ellipse cx="188.9" cy="625.4" rx="3.81" ry="1.65" transform="rotate(-16 188.9 625.4)"/><ellipse cx="198.6" cy="630.3" rx="3.33" ry="1.28" transform="rotate(-31 198.6 630.3)"/><ellipse cx="212.9" cy="622.8" rx="2.51" ry="1.40" transform="rotate(-36 212.9 622.8)"/><ellipse cx="228.5" cy="630.3" rx="3.66" ry="1.17" transform="rotate(-13 228.5 630.3)"/><ellipse cx="234.7" cy="630.4" rx="3.20" ry="1.52" transform="rotate(-33 234.7 630.4)"/><ellipse cx="243.7" cy="629.9" rx="3.86" ry="1.27" transform="rotate(-27 243.7 629.9)"/><ellipse cx="256.2" cy="629.5" rx="3.54" ry="1.14" transform="rotate(-22 256.2 629.5)"/><ellipse cx="198.6" cy="633.0" rx="2.67" ry="1.59" transform="rotate(-40 198.6 633.0)"/><ellipse cx="203.0" cy="636.4" rx="3.93" ry="1.75" transform="rotate(-14 203.0 636.4)"/><ellipse cx="214.3" cy="632.4" rx="3.50" ry="1.62" transform="rotate(-25 214.3 632.4)"/><ellipse cx="225.0" cy="634.7" rx="3.27" ry="1.23" transform="rotate(-34 225.0 634.7)"/><ellipse cx="243.2" cy="635.6" rx="3.08" ry="1.84" transform="rotate(-33 243.2 635.6)"/><ellipse cx="254.6" cy="632.2" rx="3.28" ry="1.17" transform="rotate(-37 254.6 632.2)"/><ellipse cx="261.4" cy="636.4" rx="3.33" ry="1.57" transform="rotate(-43 261.4 636.4)"/><ellipse cx="192.9" cy="645.2" rx="4.11" ry="1.48" transform="rotate(-26 192.9 645.2)"/><ellipse cx="195.3" cy="642.8" rx="3.92" ry="1.22" transform="rotate(-22 195.3 642.8)"/><ellipse cx="213.8" cy="647.5" rx="2.69" ry="1.79" transform="rotate(-17 213.8 647.5)"/><ellipse cx="221.0" cy="644.9" rx="3.76" ry="1.77" transform="rotate(-18 221.0 644.9)"/><ellipse cx="231.1" cy="645.5" rx="2.61" ry="1.44" transform="rotate(-43 231.1 645.5)"/><ellipse cx="250.2" cy="645.2" rx="3.98" ry="1.26" transform="rotate(-43 250.2 645.2)"/><ellipse cx="262.3" cy="643.1" rx="3.67" ry="1.21" transform="rotate(-37 262.3 643.1)"/><ellipse cx="183.4" cy="651.2" rx="3.06" ry="1.53" transform="rotate(-14 183.4 651.2)"/><ellipse cx="193.8" cy="655.4" rx="2.60" ry="1.32" transform="rotate(-15 193.8 655.4)"/><ellipse cx="203.5" cy="654.9" rx="3.64" ry="1.34" transform="rotate(-31 203.5 654.9)"/><ellipse cx="213.2" cy="653.8" rx="2.82" ry="1.57" transform="rotate(-30 213.2 653.8)"/><ellipse cx="234.2" cy="655.6" rx="3.54" ry="1.13" transform="rotate(-30 234.2 655.6)"/><ellipse cx="241.7" cy="657.4" rx="4.03" ry="1.30" transform="rotate(-25 241.7 657.4)"/><ellipse cx="255.5" cy="654.6" rx="3.75" ry="1.24" transform="rotate(-36 255.5 654.6)"/><ellipse cx="264.2" cy="657.4" rx="3.15" ry="1.25" transform="rotate(-27 264.2 657.4)"/><ellipse cx="185.2" cy="664.6" rx="3.79" ry="1.60" transform="rotate(-33 185.2 664.6)"/><ellipse cx="200.6" cy="665.9" rx="3.45" ry="1.87" transform="rotate(-36 200.6 665.9)"/><ellipse cx="211.5" cy="662.9" rx="3.68" ry="1.23" transform="rotate(-39 211.5 662.9)"/><ellipse cx="224.5" cy="661.8" rx="2.68" ry="1.56" transform="rotate(-36 224.5 661.8)"/><ellipse cx="240.4" cy="664.8" rx="3.65" ry="1.57" transform="rotate(-21 240.4 664.8)"/><ellipse cx="245.6" cy="663.7" rx="2.79" ry="1.32" transform="rotate(-23 245.6 663.7)"/><ellipse cx="262.9" cy="667.3" rx="4.10" ry="1.19" transform="rotate(-40 262.9 667.3)"/><ellipse cx="185.5" cy="672.0" rx="3.11" ry="1.77" transform="rotate(-14 185.5 672.0)"/><ellipse cx="193.4" cy="672.8" rx="4.03" ry="1.68" transform="rotate(-29 193.4 672.8)"/><ellipse cx="201.7" cy="673.8" rx="2.56" ry="1.63" transform="rotate(-17 201.7 673.8)"/><ellipse cx="218.5" cy="675.3" rx="3.48" ry="1.42" transform="rotate(-44 218.5 675.3)"/><ellipse cx="228.2" cy="676.8" rx="3.26" ry="1.36" transform="rotate(-40 228.2 676.8)"/><ellipse cx="244.1" cy="673.7" rx="3.49" ry="1.21" transform="rotate(-28 244.1 673.7)"/><ellipse cx="250.8" cy="676.5" rx="3.17" ry="1.81" transform="rotate(-28 250.8 676.5)"/><ellipse cx="187.8" cy="683.9" rx="2.92" ry="1.40" transform="rotate(-11 187.8 683.9)"/><ellipse cx="202.1" cy="684.8" rx="3.00" ry="1.83" transform="rotate(-29 202.1 684.8)"/><ellipse cx="209.9" cy="680.0" rx="2.77" ry="1.75" transform="rotate(-14 209.9 680.0)"/><ellipse cx="228.5" cy="679.6" rx="3.90" ry="1.44" transform="rotate(-15 228.5 679.6)"/><ellipse cx="240.7" cy="681.5" rx="3.62" ry="1.26" transform="rotate(-44 240.7 681.5)"/><ellipse cx="242.8" cy="680.8" rx="2.66" ry="1.55" transform="rotate(-19 242.8 680.8)"/><ellipse cx="262.1" cy="681.6" rx="3.45" ry="1.30" transform="rotate(-42 262.1 681.6)"/></g></g><g clip-path="url(#cp7)"><rect x="293.4" y="529.3" width="76.0" height="76.0" fill="#1c0612"/><rect x="272.4" y="508.3" width="118" height="118" filter="url(#hazeR)" transform="rotate(10 331.4 567.3)" opacity="0.95"/><g fill="#4626c8" opacity="0.9" filter="url(#soft2)"><ellipse cx="296.3" cy="528.2" rx="2.78" ry="2.36" transform="rotate(11 296.3 528.2)"/><ellipse cx="311.4" cy="527.6" rx="3.13" ry="2.26" transform="rotate(13 311.4 527.6)"/><ellipse cx="317.4" cy="526.9" rx="2.21" ry="2.59" transform="rotate(25 317.4 526.9)"/><ellipse cx="332.3" cy="533.5" rx="2.71" ry="1.88" transform="rotate(14 332.3 533.5)"/><ellipse cx="345.8" cy="533.8" rx="2.22" ry="2.60" transform="rotate(28 345.8 533.8)"/><ellipse cx="358.1" cy="532.0" rx="2.04" ry="2.83" transform="rotate(16 358.1 532.0)"/><ellipse cx="365.7" cy="535.2" rx="2.16" ry="1.93" transform="rotate(24 365.7 535.2)"/><ellipse cx="293.5" cy="546.7" rx="2.64" ry="2.38" transform="rotate(31 293.5 546.7)"/><ellipse cx="304.6" cy="545.4" rx="2.03" ry="1.81" transform="rotate(12 304.6 545.4)"/><ellipse cx="316.2" cy="544.7" rx="2.20" ry="2.19" transform="rotate(7 316.2 544.7)"/><ellipse cx="321.4" cy="546.2" rx="3.06" ry="1.76" transform="rotate(11 321.4 546.2)"/><ellipse cx="336.0" cy="544.2" rx="2.36" ry="2.45" transform="rotate(21 336.0 544.2)"/><ellipse cx="353.9" cy="542.7" rx="2.12" ry="2.55" transform="rotate(9 353.9 542.7)"/><ellipse cx="359.7" cy="543.3" rx="3.13" ry="2.10" transform="rotate(-1 359.7 543.3)"/><ellipse cx="291.3" cy="559.5" rx="2.82" ry="2.50" transform="rotate(1 291.3 559.5)"/><ellipse cx="302.1" cy="559.6" rx="2.32" ry="1.84" transform="rotate(33 302.1 559.6)"/><ellipse cx="320.6" cy="552.3" rx="2.39" ry="2.44" transform="rotate(30 320.6 552.3)"/><ellipse cx="328.0" cy="557.3" rx="3.35" ry="2.41" transform="rotate(17 328.0 557.3)"/><ellipse cx="339.3" cy="554.3" rx="2.28" ry="2.64" transform="rotate(26 339.3 554.3)"/><ellipse cx="351.9" cy="551.2" rx="3.06" ry="2.46" transform="rotate(14 351.9 551.2)"/><ellipse cx="365.7" cy="556.6" rx="2.57" ry="2.43" transform="rotate(2 365.7 556.6)"/><ellipse cx="302.9" cy="562.8" rx="2.46" ry="2.06" transform="rotate(4 302.9 562.8)"/><ellipse cx="310.4" cy="567.3" rx="3.21" ry="2.81" transform="rotate(14 310.4 567.3)"/><ellipse cx="328.9" cy="569.1" rx="2.94" ry="2.80" transform="rotate(20 328.9 569.1)"/><ellipse cx="332.8" cy="572.0" rx="2.80" ry="1.77" transform="rotate(28 332.8 572.0)"/><ellipse cx="346.3" cy="564.0" rx="2.39" ry="2.43" transform="rotate(9 346.3 564.0)"/><ellipse cx="362.9" cy="562.9" rx="2.20" ry="2.48" transform="rotate(11 362.9 562.9)"/><ellipse cx="294.3" cy="581.2" rx="2.67" ry="2.74" transform="rotate(12 294.3 581.2)"/><ellipse cx="306.0" cy="579.9" rx="2.20" ry="2.31" transform="rotate(26 306.0 579.9)"/><ellipse cx="317.0" cy="578.5" rx="2.30" ry="2.11" transform="rotate(22 317.0 578.5)"/><ellipse cx="327.0" cy="579.2" rx="3.31" ry="2.54" transform="rotate(26 327.0 579.2)"/><ellipse cx="343.7" cy="576.1" rx="2.93" ry="2.76" transform="rotate(12 343.7 576.1)"/><ellipse cx="354.1" cy="580.2" rx="2.12" ry="2.42" transform="rotate(0 354.1 580.2)"/><ellipse cx="368.1" cy="580.9" rx="3.27" ry="1.98" transform="rotate(31 368.1 580.9)"/><ellipse cx="299.0" cy="589.5" rx="3.04" ry="2.19" transform="rotate(10 299.0 589.5)"/><ellipse cx="311.3" cy="596.5" rx="2.67" ry="2.41" transform="rotate(3 311.3 596.5)"/><ellipse cx="327.3" cy="596.4" rx="3.01" ry="2.39" transform="rotate(7 327.3 596.4)"/><ellipse cx="342.6" cy="591.5" rx="2.39" ry="2.84" transform="rotate(14 342.6 591.5)"/><ellipse cx="353.0" cy="587.2" rx="2.45" ry="2.16" transform="rotate(-1 353.0 587.2)"/><ellipse cx="365.3" cy="589.4" rx="2.37" ry="2.76" transform="rotate(14 365.3 589.4)"/><ellipse cx="298.9" cy="599.3" rx="3.12" ry="2.37" transform="rotate(7 298.9 599.3)"/><ellipse cx="301.9" cy="605.6" rx="3.18" ry="2.22" transform="rotate(23 301.9 605.6)"/><ellipse cx="314.8" cy="601.6" rx="2.59" ry="1.75" transform="rotate(-2 314.8 601.6)"/><ellipse cx="329.0" cy="599.3" rx="2.13" ry="1.86" transform="rotate(-3 329.0 599.3)"/><ellipse cx="359.7" cy="599.4" rx="3.04" ry="2.01" transform="rotate(29 359.7 599.4)"/></g><path d="M288.5,528.5Q292.6,531.6 298.6,536.9M298.6,536.9Q297.0,538.1 295.6,539.6M295.6,539.6Q286.2,540.5 274.8,542.1M337.5,528.3Q342.8,527.4 347.9,525.9M337.5,528.3Q332.3,526.2 328.5,525.3M337.5,528.3Q338.3,533.2 340.5,538.8M354.1,536.7Q351.3,531.1 347.9,525.9M354.1,536.7Q349.7,538.9 343.6,540.6M340.5,538.8Q341.4,539.3 343.6,540.6M290.8,523.9Q298.2,524.7 303.8,527.7M303.8,527.7Q304.9,523.0 306.6,518.4M274.8,542.1Q283.6,548.4 294.1,553.5M294.1,553.5Q290.0,556.3 283.8,560.1M368.8,572.0Q368.1,566.0 368.0,561.1M368.8,572.0Q364.4,570.7 359.1,571.8M358.2,571.4Q358.6,570.6 359.1,571.8M358.2,571.4Q355.8,565.4 352.5,558.9M368.0,561.1Q362.8,559.6 357.3,557.1M352.5,558.9Q354.1,559.0 357.3,557.1M373.5,573.5Q372.0,572.2 368.8,572.0M361.8,583.5Q367.5,585.4 372.8,587.1M361.8,583.5Q361.4,577.9 359.1,571.8M298.6,536.9Q302.6,535.8 306.6,536.2M303.8,527.7Q304.9,531.9 307.0,536.0M306.6,536.2Q305.6,535.8 307.0,536.0M310.5,520.0Q314.5,528.5 319.3,536.3M327.8,525.4Q324.8,530.0 321.0,536.7M319.3,536.3Q319.6,537.3 321.0,536.7M321.0,536.7Q319.9,536.3 321.0,536.7M307.0,536.0Q312.2,535.6 319.3,536.3M325.2,538.9Q334.0,538.7 340.5,538.8M325.2,538.9Q324.0,536.8 321.0,536.7M312.3,549.4Q315.4,549.0 318.0,548.5M312.3,549.4Q308.8,543.4 306.6,536.2M318.0,548.5Q318.7,542.9 321.0,536.7M325.2,538.9Q328.5,543.1 331.0,549.2M345.7,544.9Q344.9,542.2 343.6,540.6M345.7,544.9Q345.4,548.1 343.0,549.3M331.0,549.2Q336.5,550.3 343.0,549.3M295.6,539.6Q298.7,545.8 302.4,552.3M312.3,549.4Q311.0,552.2 309.5,554.1M309.5,554.1Q306.2,554.3 302.4,552.3M294.1,553.5Q294.0,554.5 294.9,553.7M302.4,552.3Q297.7,552.9 294.9,553.7M283.8,560.1Q289.1,561.3 296.4,564.0M296.4,564.0Q297.8,561.8 297.1,561.0M297.1,561.0Q297.0,557.8 294.9,553.7M291.4,606.6Q293.7,609.0 296.5,611.4M354.1,536.7Q355.2,536.6 356.1,537.4M345.7,544.9Q351.2,547.0 357.5,548.3M356.1,537.4Q357.2,542.0 357.5,548.3M352.5,558.9Q350.5,558.4 349.2,557.7M357.3,557.1Q359.8,552.7 360.6,550.1M349.2,557.7Q346.9,554.0 343.0,549.3M357.5,548.3Q359.2,548.2 360.6,550.1M368.0,561.1Q368.7,561.3 370.5,560.1M369.1,549.5Q365.2,549.0 360.6,550.1M369.1,549.5Q370.3,549.8 371.2,550.9M370.5,560.1Q371.5,554.4 371.2,550.9M370.5,560.1Q374.6,560.9 379.6,563.3M354.6,612.1Q354.8,610.2 354.1,606.8M354.1,606.8Q360.4,606.0 364.6,605.5M364.6,605.5Q367.4,609.0 370.0,610.3M318.0,548.5Q324.4,550.1 328.7,551.1M331.0,549.2Q329.7,550.2 329.9,550.9M328.7,551.1Q329.6,551.8 329.9,550.9M349.2,557.7Q342.4,559.6 337.2,560.5M329.9,550.9Q334.0,555.2 337.2,560.5M359.7,537.7Q363.7,541.2 369.0,542.3M359.7,537.7Q362.0,532.7 365.0,527.7M369.0,542.3Q372.6,538.8 377.6,537.7M365.0,527.7Q368.8,528.4 372.6,528.2M356.1,537.4Q357.4,537.3 359.7,537.7M369.1,549.5Q369.7,545.7 369.0,542.3M353.9,523.8Q359.1,525.3 365.0,527.7M371.2,550.9Q379.3,554.2 387.1,555.2M354.1,606.8Q350.2,603.9 347.4,601.1M347.4,601.1Q343.8,599.8 341.4,600.1M341.4,600.1Q334.8,604.6 329.0,609.1M347.0,582.0Q344.7,583.0 342.1,583.6M347.0,582.0Q353.5,582.7 359.2,585.1M342.1,583.6Q346.3,588.0 352.2,593.8M359.2,585.1Q358.2,588.3 359.1,592.9M359.1,592.9Q354.8,594.1 352.2,593.8M361.8,583.5Q360.4,585.0 359.2,585.1M358.2,571.4Q355.7,571.7 351.9,571.9M351.9,571.9Q350.6,577.0 347.0,582.0M330.1,588.3Q334.0,586.3 338.8,582.9M330.1,588.3Q333.0,592.1 336.9,596.3M347.4,601.1Q350.2,597.6 352.2,593.8M338.8,582.9Q339.6,582.5 342.1,583.6M336.9,596.3Q340.2,598.6 341.4,600.1M373.0,587.3Q370.1,590.3 365.1,595.5M365.1,595.5Q361.1,594.7 359.1,592.9M365.1,595.5Q368.4,598.8 370.3,600.6M364.6,605.5Q366.8,604.0 370.3,600.6M370.3,600.6Q371.5,600.3 374.2,601.2M327.0,608.7Q324.0,603.7 321.1,599.1M315.1,611.7Q310.9,606.1 306.9,601.9M319.7,597.7Q312.9,599.4 306.8,600.4M319.7,597.7Q321.6,597.8 321.1,599.1M306.9,601.9Q307.0,600.1 306.8,600.4M336.9,596.3Q329.6,598.4 321.1,599.1M291.3,603.2Q298.8,603.5 306.9,601.9M323.8,587.2Q319.7,587.5 316.6,588.3M323.8,587.2Q327.4,588.8 330.1,588.3M316.6,588.3Q318.0,592.0 319.7,597.7M340.5,568.8Q339.5,573.3 336.2,578.9M340.5,568.8Q338.6,567.9 337.3,566.2M337.3,566.2Q331.4,570.4 326.3,573.7M336.2,578.9Q330.8,575.7 326.3,573.7M351.9,571.9Q346.0,569.5 340.5,568.8M338.8,582.9Q336.4,581.4 336.2,578.9M337.2,560.5Q335.8,562.8 335.6,564.1M335.6,564.1Q336.2,564.5 337.3,566.2M323.8,587.2Q321.6,579.5 320.6,572.2M320.6,572.2Q324.6,573.4 326.3,573.7M335.6,564.1Q326.4,563.3 318.7,561.9M320.6,572.2Q320.8,571.3 320.2,571.9M318.7,561.9Q319.9,566.7 320.2,571.9M328.7,551.1Q324.1,556.4 317.2,560.6M318.7,561.9Q317.3,560.3 317.2,560.6M309.5,554.1Q312.7,556.9 314.6,559.4M297.1,561.0Q303.5,560.3 310.3,561.5M314.6,559.4Q313.7,561.6 310.3,561.5M314.6,559.4Q315.1,560.3 317.2,560.6M296.4,564.0Q298.2,568.2 300.6,571.0M310.3,561.5Q305.8,567.1 300.6,571.0M316.6,588.3Q317.2,589.4 316.4,588.2M320.2,571.9Q314.6,572.6 308.5,573.7M316.4,588.2Q312.6,579.9 308.5,573.7M300.6,571.0Q299.7,570.1 300.6,571.0M308.5,573.7Q304.2,571.3 300.6,571.0M289.0,572.9Q293.4,572.6 296.3,573.1M296.3,573.1Q297.3,571.3 300.6,571.0M309.6,588.2Q306.8,585.8 302.3,584.6M309.6,588.2Q306.5,591.9 303.2,595.1M302.3,584.6Q293.6,585.4 286.7,586.7M303.2,595.1Q298.3,593.2 292.2,593.2M292.2,593.2Q288.9,590.7 286.0,587.3M316.4,588.2Q313.3,588.7 309.6,588.2M296.3,573.1Q299.1,578.7 302.3,584.6M306.8,600.4Q306.2,597.8 303.2,595.1M291.3,603.2Q292.5,599.0 292.2,593.2M350.8,562.2Q354.7,565.5 359.6,568.4M332.1,575.7Q339.3,580.1 345.4,583.0M308.8,534.3Q313.3,538.7 317.3,541.8M340.1,585.8Q341.9,586.8 345.5,589.7M331.3,603.4Q340.0,601.7 346.8,601.1M295.3,541.5Q304.1,542.5 311.3,542.2M325.9,548.2Q328.6,551.7 331.7,554.4M307.6,533.5Q312.1,535.3 317.6,537.2M301.0,594.0Q306.6,594.5 311.2,594.8M367.8,583.5Q374.9,584.2 383.6,584.3M321.4,536.3Q325.4,536.4 330.0,535.6M318.7,542.5Q326.7,545.2 333.4,548.2M326.8,546.1Q330.1,548.8 333.2,553.1M345.2,588.7Q349.7,588.2 353.2,588.5M358.9,591.9Q363.0,590.5 367.1,590.8M337.5,583.9Q341.5,585.6 347.1,585.7M357.5,584.0Q361.0,587.4 366.4,592.1M338.9,548.4Q342.8,549.4 346.5,549.6M357.1,597.9Q362.7,602.8 370.3,606.6M362.0,540.7Q367.3,544.8 373.0,550.7M328.5,563.5Q331.8,566.4 333.8,568.7M324.5,589.1Q327.6,591.2 332.5,592.2M313.9,554.6Q319.9,558.2 325.8,562.8M333.6,544.6Q341.8,545.2 348.4,546.2M320.2,582.0Q323.5,583.5 327.7,583.1M326.6,532.2Q332.4,531.8 339.3,530.0M356.8,579.6Q360.6,578.2 365.5,578.4M301.4,579.1Q306.9,579.0 313.3,578.5M354.4,554.9Q358.5,555.2 361.8,554.6M363.0,594.3Q368.3,594.7 373.7,593.7M367.7,561.1Q370.9,563.4 373.7,567.6M354.4,539.4Q360.9,543.4 366.0,547.2M302.3,530.9Q305.7,531.7 308.4,532.3M306.1,595.9Q309.8,596.9 312.3,597.9M312.5,563.0Q318.1,565.0 323.7,567.3M336.0,577.3Q342.8,577.4 349.4,578.1M311.0,534.9Q314.9,535.6 317.1,534.5M339.2,566.2Q343.4,569.4 348.4,571.4M303.6,580.8Q307.5,583.3 312.8,586.1M306.7,573.6Q311.0,576.6 314.9,581.4M304.0,579.2Q310.9,581.1 317.2,584.0M317.3,583.5Q320.1,584.4 323.6,584.7M330.7,598.6Q337.7,597.8 343.2,597.5M329.8,532.0Q336.5,534.8 342.7,539.2M331.6,552.5Q336.3,557.4 342.3,562.7M364.0,594.3Q366.4,596.6 369.3,598.6M297.3,603.7Q304.4,603.8 311.9,602.8M326.9,598.3Q334.5,599.2 340.3,600.4M358.5,596.7Q364.4,602.0 368.7,608.4M360.1,570.1Q367.9,572.1 374.3,573.1M344.6,577.6Q351.9,576.0 359.9,576.3M332.2,546.5Q336.4,550.7 340.2,554.9M332.2,597.0Q340.2,597.7 347.4,599.5M307.4,553.2Q311.9,559.7 317.6,565.2M336.8,533.1Q340.1,533.9 343.4,533.5M308.4,550.7Q312.6,550.9 316.1,549.8M343.7,605.1Q349.3,605.3 353.2,604.9M331.0,589.6Q335.2,592.5 340.7,595.1M358.1,564.8Q361.7,567.7 364.4,570.6M296.9,572.4Q302.4,574.9 307.8,577.5" fill="none" stroke="#e8201c" stroke-width="0.8" stroke-linecap="round" stroke-dasharray="6 0.8 3 0.6" opacity="0.85" filter="url(#soft)"/><rect x="294.8" y="602.1" width="27.0" height="1.9" fill="#ffffff"/></g><g clip-path="url(#cp8)"><rect x="369.9" y="529.3" width="75.1" height="76.0" fill="#051628"/><rect x="348.4" y="508.3" width="118" height="118" filter="url(#cldNavy)" transform="rotate(10 407.4 567.3)" opacity="0.9"/><g fill="#1a28e0" opacity="0.9" filter="url(#soft2)"><ellipse cx="372.8" cy="528.2" rx="2.67" ry="2.25" transform="rotate(11 372.8 528.2)"/><ellipse cx="387.6" cy="527.6" rx="3.01" ry="2.16" transform="rotate(13 387.6 527.6)"/><ellipse cx="393.6" cy="526.9" rx="2.13" ry="2.47" transform="rotate(25 393.6 526.9)"/><ellipse cx="408.4" cy="533.5" rx="2.61" ry="1.80" transform="rotate(14 408.4 533.5)"/><ellipse cx="421.7" cy="533.8" rx="2.14" ry="2.49" transform="rotate(28 421.7 533.8)"/><ellipse cx="433.8" cy="532.0" rx="1.96" ry="2.70" transform="rotate(16 433.8 532.0)"/><ellipse cx="441.4" cy="535.2" rx="2.08" ry="1.85" transform="rotate(24 441.4 535.2)"/><ellipse cx="370.0" cy="546.7" rx="2.54" ry="2.28" transform="rotate(31 370.0 546.7)"/><ellipse cx="380.9" cy="545.4" rx="1.96" ry="1.73" transform="rotate(12 380.9 545.4)"/><ellipse cx="392.4" cy="544.7" rx="2.11" ry="2.10" transform="rotate(7 392.4 544.7)"/><ellipse cx="397.6" cy="546.2" rx="2.94" ry="1.68" transform="rotate(11 397.6 546.2)"/><ellipse cx="412.0" cy="544.2" rx="2.27" ry="2.34" transform="rotate(21 412.0 544.2)"/><ellipse cx="429.8" cy="542.7" rx="2.05" ry="2.44" transform="rotate(9 429.8 542.7)"/><ellipse cx="435.5" cy="543.3" rx="3.01" ry="2.01" transform="rotate(-1 435.5 543.3)"/><ellipse cx="367.7" cy="559.5" rx="2.72" ry="2.39" transform="rotate(1 367.7 559.5)"/><ellipse cx="378.4" cy="559.6" rx="2.23" ry="1.76" transform="rotate(33 378.4 559.6)"/><ellipse cx="396.7" cy="552.3" rx="2.30" ry="2.34" transform="rotate(30 396.7 552.3)"/><ellipse cx="404.0" cy="557.3" rx="3.23" ry="2.30" transform="rotate(17 404.0 557.3)"/><ellipse cx="415.2" cy="554.3" rx="2.19" ry="2.52" transform="rotate(26 415.2 554.3)"/><ellipse cx="427.7" cy="551.2" rx="2.94" ry="2.35" transform="rotate(14 427.7 551.2)"/><ellipse cx="441.4" cy="556.6" rx="2.47" ry="2.32" transform="rotate(2 441.4 556.6)"/><ellipse cx="379.2" cy="562.8" rx="2.37" ry="1.97" transform="rotate(4 379.2 562.8)"/><ellipse cx="386.7" cy="567.3" rx="3.09" ry="2.69" transform="rotate(14 386.7 567.3)"/><ellipse cx="405.0" cy="569.1" rx="2.83" ry="2.68" transform="rotate(20 405.0 569.1)"/><ellipse cx="408.8" cy="572.0" rx="2.70" ry="1.69" transform="rotate(28 408.8 572.0)"/><ellipse cx="422.2" cy="564.0" rx="2.30" ry="2.32" transform="rotate(9 422.2 564.0)"/><ellipse cx="438.6" cy="562.9" rx="2.12" ry="2.37" transform="rotate(11 438.6 562.9)"/><ellipse cx="370.8" cy="581.2" rx="2.57" ry="2.62" transform="rotate(12 370.8 581.2)"/><ellipse cx="382.3" cy="579.9" rx="2.12" ry="2.21" transform="rotate(26 382.3 579.9)"/><ellipse cx="393.2" cy="578.5" rx="2.22" ry="2.01" transform="rotate(22 393.2 578.5)"/><ellipse cx="403.1" cy="579.2" rx="3.19" ry="2.43" transform="rotate(26 403.1 579.2)"/><ellipse cx="419.6" cy="576.1" rx="2.82" ry="2.64" transform="rotate(12 419.6 576.1)"/><ellipse cx="429.9" cy="580.2" rx="2.04" ry="2.32" transform="rotate(0 429.9 580.2)"/><ellipse cx="443.8" cy="580.9" rx="3.15" ry="1.90" transform="rotate(31 443.8 580.9)"/><ellipse cx="375.4" cy="589.5" rx="2.93" ry="2.10" transform="rotate(10 375.4 589.5)"/><ellipse cx="387.5" cy="596.5" rx="2.57" ry="2.30" transform="rotate(3 387.5 596.5)"/><ellipse cx="403.4" cy="596.4" rx="2.90" ry="2.28" transform="rotate(7 403.4 596.4)"/><ellipse cx="418.5" cy="591.5" rx="2.31" ry="2.72" transform="rotate(14 418.5 591.5)"/><ellipse cx="428.8" cy="587.2" rx="2.36" ry="2.07" transform="rotate(-1 428.8 587.2)"/><ellipse cx="441.0" cy="589.4" rx="2.29" ry="2.64" transform="rotate(14 441.0 589.4)"/><ellipse cx="375.3" cy="599.3" rx="3.00" ry="2.27" transform="rotate(7 375.3 599.3)"/><ellipse cx="378.2" cy="605.6" rx="3.06" ry="2.13" transform="rotate(23 378.2 605.6)"/><ellipse cx="391.0" cy="601.6" rx="2.49" ry="1.67" transform="rotate(-2 391.0 601.6)"/><ellipse cx="405.1" cy="599.3" rx="2.05" ry="1.78" transform="rotate(-3 405.1 599.3)"/><ellipse cx="435.4" cy="599.4" rx="2.93" ry="1.93" transform="rotate(29 435.4 599.4)"/></g></g><g clip-path="url(#cp9)"><rect x="445.4" y="529.3" width="75.0" height="76.0" fill="#051a08"/><rect x="423.9" y="508.3" width="118" height="118" filter="url(#cldDk)" transform="rotate(-20 482.9 567.3)" opacity="0.9"/></g><g clip-path="url(#cp10)"><rect x="293.4" y="607.4" width="76.0" height="75.6" fill="#5a6a18"/><rect x="272.4" y="586.2" width="118" height="118" filter="url(#cldY)" transform="rotate(-30 331.4 645.2)" opacity="1"/><g fill="#6650d0" opacity="0.85" filter="url(#soft2)"><ellipse cx="292.1" cy="609.6" rx="3.07" ry="2.87" transform="rotate(-42 292.1 609.6)"/><ellipse cx="309.1" cy="608.5" rx="3.55" ry="2.05" transform="rotate(-11 309.1 608.5)"/><ellipse cx="346.4" cy="613.1" rx="2.61" ry="2.13" transform="rotate(-24 346.4 613.1)"/><ellipse cx="366.4" cy="606.2" rx="3.62" ry="2.39" transform="rotate(-34 366.4 606.2)"/><ellipse cx="295.1" cy="626.8" rx="3.38" ry="2.90" transform="rotate(-39 295.1 626.8)"/><ellipse cx="307.0" cy="624.3" rx="3.90" ry="1.96" transform="rotate(-34 307.0 624.3)"/><ellipse cx="327.6" cy="619.4" rx="2.57" ry="2.87" transform="rotate(-25 327.6 619.4)"/><ellipse cx="343.8" cy="627.6" rx="4.09" ry="3.01" transform="rotate(-35 343.8 627.6)"/><ellipse cx="354.4" cy="626.4" rx="2.58" ry="2.13" transform="rotate(-29 354.4 626.4)"/><ellipse cx="371.9" cy="625.7" rx="3.37" ry="3.06" transform="rotate(-8 371.9 625.7)"/><ellipse cx="293.4" cy="635.3" rx="3.00" ry="2.84" transform="rotate(-10 293.4 635.3)"/><ellipse cx="314.3" cy="634.6" rx="3.53" ry="2.41" transform="rotate(-24 314.3 634.6)"/><ellipse cx="325.1" cy="636.4" rx="4.22" ry="2.88" transform="rotate(-28 325.1 636.4)"/><ellipse cx="348.0" cy="632.5" rx="3.24" ry="2.48" transform="rotate(-25 348.0 632.5)"/><ellipse cx="292.4" cy="656.8" rx="3.70" ry="2.76" transform="rotate(-27 292.4 656.8)"/><ellipse cx="311.7" cy="654.3" rx="3.92" ry="2.16" transform="rotate(-16 311.7 654.3)"/><ellipse cx="323.5" cy="653.1" rx="3.56" ry="2.56" transform="rotate(-16 323.5 653.1)"/><ellipse cx="337.0" cy="657.3" rx="4.22" ry="2.72" transform="rotate(-15 337.0 657.3)"/><ellipse cx="356.8" cy="654.7" rx="2.70" ry="2.72" transform="rotate(-33 356.8 654.7)"/><ellipse cx="370.1" cy="647.6" rx="3.49" ry="3.22" transform="rotate(-35 370.1 647.6)"/><ellipse cx="295.7" cy="672.1" rx="2.81" ry="2.20" transform="rotate(-12 295.7 672.1)"/><ellipse cx="310.4" cy="665.6" rx="2.81" ry="2.15" transform="rotate(-21 310.4 665.6)"/><ellipse cx="334.1" cy="663.8" rx="3.38" ry="2.61" transform="rotate(-34 334.1 663.8)"/><ellipse cx="348.2" cy="663.3" rx="2.73" ry="2.67" transform="rotate(-34 348.2 663.3)"/><ellipse cx="370.1" cy="662.0" rx="3.00" ry="3.16" transform="rotate(-37 370.1 662.0)"/><ellipse cx="292.0" cy="684.2" rx="2.57" ry="3.04" transform="rotate(-7 292.0 684.2)"/><ellipse cx="311.5" cy="680.1" rx="4.21" ry="2.85" transform="rotate(-19 311.5 680.1)"/><ellipse cx="317.4" cy="681.0" rx="3.46" ry="2.65" transform="rotate(-32 317.4 681.0)"/><ellipse cx="343.4" cy="680.5" rx="3.38" ry="2.68" transform="rotate(-17 343.4 680.5)"/><ellipse cx="359.7" cy="680.5" rx="3.65" ry="2.70" transform="rotate(-13 359.7 680.5)"/></g><path d="M346.2,600.4Q351.7,602.9 355.5,605.8M355.5,605.8Q361.1,602.1 367.9,600.1M344.1,601.3Q340.1,605.4 335.8,610.4M318.6,602.0Q319.4,607.7 318.8,613.5M335.8,610.4Q326.4,611.7 318.8,613.5M350.2,619.9Q354.4,618.6 357.9,615.8M350.2,619.9Q344.6,619.5 338.0,621.0M355.5,605.8Q357.3,611.1 357.9,615.8M335.8,610.4Q337.5,615.7 338.0,621.0M350.2,619.9Q350.7,624.1 349.0,628.1M349.0,628.1Q342.7,633.2 336.5,636.2M336.5,636.2Q334.5,632.2 332.2,627.2M332.2,627.2Q335.6,625.0 338.0,621.0M294.1,600.1Q285.0,611.0 274.8,623.1M302.5,600.3Q300.2,607.7 299.0,616.5M299.0,616.5Q289.1,620.3 278.6,622.9M284.7,647.5Q289.1,639.1 291.5,631.3M291.5,631.3Q285.9,627.4 278.6,622.9M357.9,615.8Q360.7,617.0 365.3,617.4M349.0,628.1Q355.5,630.3 359.6,634.7M359.6,634.7Q361.3,633.2 361.6,632.3M365.3,617.4Q363.8,623.8 361.6,632.3M375.6,640.2Q367.4,641.5 357.8,641.9M378.1,653.1Q371.4,654.3 366.1,655.6M366.1,655.6Q362.9,649.0 357.8,641.9M359.6,634.7Q358.0,637.5 357.0,641.6M381.0,627.5Q372.4,628.7 361.6,632.3M357.8,641.9Q358.6,642.2 357.0,641.6M336.5,636.2Q335.8,639.0 336.1,643.0M336.1,643.0Q327.5,644.9 318.9,645.5M318.9,645.5Q316.4,644.1 315.0,644.2M332.2,627.2Q329.0,626.6 323.6,628.2M323.6,628.2Q319.5,637.0 315.0,644.2M301.4,661.2Q308.7,660.5 316.7,659.2M301.4,661.2Q301.4,652.5 303.3,645.7M316.7,659.2Q318.7,652.6 318.9,645.5M315.0,644.2Q309.1,644.5 303.3,645.7M284.7,647.5Q293.8,646.0 301.3,644.6M301.4,661.2Q300.7,662.4 300.4,662.3M288.9,666.1Q294.0,664.5 300.4,662.3M301.3,644.6Q301.7,646.1 303.3,645.7M301.1,617.3Q302.0,623.0 301.1,630.5M301.1,617.3Q308.9,616.5 316.9,615.3M316.9,615.3Q316.1,619.7 317.5,625.4M317.5,625.4Q310.0,628.5 304.3,633.2M301.1,630.5Q303.3,631.8 304.3,633.2M291.5,631.3Q296.5,632.1 301.1,630.5M299.0,616.5Q299.6,617.6 301.1,617.3M318.8,613.5Q317.5,614.4 316.9,615.3M323.6,628.2Q319.9,626.0 317.5,625.4M301.3,644.6Q302.6,638.8 304.3,633.2M378.4,615.1Q374.2,616.1 370.4,615.5M370.4,615.5Q371.0,607.5 372.2,601.5M365.3,617.4Q367.2,616.4 370.4,615.5M338.0,644.5Q342.9,646.2 348.1,645.4M338.0,644.5Q332.1,650.9 327.1,659.7M348.1,645.4Q347.7,651.4 346.9,655.8M327.1,659.7Q334.9,660.9 341.8,661.2M346.9,655.8Q344.5,658.8 341.8,661.2M336.1,643.0Q335.9,644.7 338.0,644.5M357.0,641.6Q353.6,644.7 348.1,645.4M316.7,659.2Q318.5,660.9 322.6,662.8M322.6,662.8Q324.4,661.4 327.1,659.7M359.1,662.8Q362.6,659.3 366.1,655.6M359.1,662.8Q354.0,658.4 346.9,655.8M376.3,695.7Q371.1,688.9 366.6,683.8M366.6,683.8Q361.9,685.9 358.3,688.2M366.6,683.8Q369.2,679.0 372.5,676.0M381.4,655.5Q374.8,663.7 367.1,671.7M359.1,662.8Q359.5,665.6 357.5,669.9M367.1,671.7Q362.4,671.8 357.5,669.9M367.1,671.7Q370.1,674.0 372.5,676.0M301.7,678.1Q304.6,676.7 305.4,674.2M301.7,678.1Q302.7,682.1 301.8,685.5M319.8,670.6Q314.6,678.9 310.9,687.3M319.8,670.6Q312.5,672.9 305.4,674.2M277.8,678.2Q290.3,678.4 301.7,678.1M300.4,662.3Q302.4,667.3 305.4,674.2M322.6,662.8Q321.4,666.7 321.2,670.0M321.2,670.0Q320.4,670.4 319.8,670.6M338.8,690.8Q334.3,687.5 329.7,683.2M350.0,685.4Q353.3,678.8 354.3,671.7M354.3,671.7Q347.6,671.2 338.9,672.1M329.7,683.2Q330.2,678.4 331.9,675.6M338.9,672.1Q336.4,673.4 331.9,675.6M322.3,687.3Q326.5,686.2 329.7,683.2M357.5,669.9Q356.8,670.1 354.3,671.7M341.8,661.2Q340.3,667.1 338.9,672.1M321.2,670.0Q325.6,673.6 331.9,675.6" fill="none" stroke="#d8501c" stroke-width="1.0" stroke-linecap="round" opacity="0.75" filter="url(#soft)"/><rect x="293.4" y="607.4" width="76.0" height="75.6" fill="url(#shBL)"/><rect x="293.4" y="607.4" width="76.0" height="75.6" fill="url(#hiY)"/></g><g clip-path="url(#cp11)"><rect x="369.9" y="607.4" width="75.1" height="75.6" fill="#146a1c"/><rect x="348.4" y="586.2" width="118" height="118" filter="url(#cldGb)" transform="rotate(-30 407.4 645.2)" opacity="1"/><g fill="#1c58d8" opacity="0.75" filter="url(#soft2)"><ellipse cx="368.5" cy="609.6" rx="3.07" ry="2.87" transform="rotate(-42 368.5 609.6)"/><ellipse cx="385.4" cy="608.5" rx="3.55" ry="2.05" transform="rotate(-11 385.4 608.5)"/><ellipse cx="422.3" cy="613.1" rx="2.61" ry="2.13" transform="rotate(-24 422.3 613.1)"/><ellipse cx="442.1" cy="606.2" rx="3.62" ry="2.39" transform="rotate(-34 442.1 606.2)"/><ellipse cx="371.6" cy="626.8" rx="3.38" ry="2.90" transform="rotate(-39 371.6 626.8)"/><ellipse cx="383.3" cy="624.3" rx="3.90" ry="1.96" transform="rotate(-34 383.3 624.3)"/><ellipse cx="403.7" cy="619.4" rx="2.57" ry="2.87" transform="rotate(-25 403.7 619.4)"/><ellipse cx="419.8" cy="627.6" rx="4.09" ry="3.01" transform="rotate(-35 419.8 627.6)"/><ellipse cx="430.2" cy="626.4" rx="2.58" ry="2.13" transform="rotate(-29 430.2 626.4)"/><ellipse cx="447.6" cy="625.7" rx="3.37" ry="3.06" transform="rotate(-8 447.6 625.7)"/><ellipse cx="369.9" cy="635.3" rx="3.00" ry="2.84" transform="rotate(-10 369.9 635.3)"/><ellipse cx="390.5" cy="634.6" rx="3.53" ry="2.41" transform="rotate(-24 390.5 634.6)"/><ellipse cx="401.2" cy="636.4" rx="4.22" ry="2.88" transform="rotate(-28 401.2 636.4)"/><ellipse cx="423.9" cy="632.5" rx="3.24" ry="2.48" transform="rotate(-25 423.9 632.5)"/><ellipse cx="368.9" cy="656.8" rx="3.70" ry="2.76" transform="rotate(-27 368.9 656.8)"/><ellipse cx="388.0" cy="654.3" rx="3.92" ry="2.16" transform="rotate(-16 388.0 654.3)"/><ellipse cx="399.6" cy="653.1" rx="3.56" ry="2.56" transform="rotate(-16 399.6 653.1)"/><ellipse cx="413.0" cy="657.3" rx="4.22" ry="2.72" transform="rotate(-15 413.0 657.3)"/><ellipse cx="432.5" cy="654.7" rx="2.70" ry="2.72" transform="rotate(-33 432.5 654.7)"/><ellipse cx="445.7" cy="647.6" rx="3.49" ry="3.22" transform="rotate(-35 445.7 647.6)"/><ellipse cx="372.2" cy="672.1" rx="2.81" ry="2.20" transform="rotate(-12 372.2 672.1)"/><ellipse cx="386.7" cy="665.6" rx="2.81" ry="2.15" transform="rotate(-21 386.7 665.6)"/><ellipse cx="410.1" cy="663.8" rx="3.38" ry="2.61" transform="rotate(-34 410.1 663.8)"/><ellipse cx="424.1" cy="663.3" rx="2.73" ry="2.67" transform="rotate(-34 424.1 663.3)"/><ellipse cx="445.8" cy="662.0" rx="3.00" ry="3.16" transform="rotate(-37 445.8 662.0)"/><ellipse cx="368.4" cy="684.2" rx="2.57" ry="3.04" transform="rotate(-7 368.4 684.2)"/><ellipse cx="387.8" cy="680.1" rx="4.21" ry="2.85" transform="rotate(-19 387.8 680.1)"/><ellipse cx="393.6" cy="681.0" rx="3.46" ry="2.65" transform="rotate(-32 393.6 681.0)"/><ellipse cx="419.3" cy="680.5" rx="3.38" ry="2.68" transform="rotate(-17 419.3 680.5)"/><ellipse cx="435.4" cy="680.5" rx="3.65" ry="2.70" transform="rotate(-13 435.4 680.5)"/></g><rect x="369.9" y="607.4" width="75.1" height="75.6" fill="url(#shBL)"/><rect x="369.9" y="607.4" width="75.1" height="75.6" fill="url(#hiTR)"/></g><g clip-path="url(#cp12)"><rect x="445.4" y="607.4" width="75.0" height="75.6" fill="#106a16"/><rect x="423.9" y="586.2" width="118" height="118" filter="url(#cldG)" transform="rotate(-30 482.9 645.2)" opacity="1"/><rect x="445.4" y="607.4" width="75.0" height="75.6" fill="url(#shBL)"/><rect x="445.4" y="607.4" width="75.0" height="75.6" fill="url(#hiTR)"/></g>
<rect x="35.40" y="518.2" width="75.20" height="11.0" fill="#ffffff" stroke="#3a3a3a" stroke-width="0.8"/><rect x="110.50" y="518.2" width="75.60" height="11.0" fill="#ffffff" stroke="#3a3a3a" stroke-width="0.8"/><rect x="186.00" y="518.2" width="75.60" height="11.0" fill="#ffffff" stroke="#3a3a3a" stroke-width="0.8"/><rect x="293.00" y="518.2" width="76.60" height="11.0" fill="#ffffff" stroke="#3a3a3a" stroke-width="0.8"/><rect x="369.50" y="518.2" width="75.70" height="11.0" fill="#ffffff" stroke="#3a3a3a" stroke-width="0.8"/><rect x="445.00" y="518.2" width="75.60" height="11.0" fill="#ffffff" stroke="#3a3a3a" stroke-width="0.8"/><rect x="22.6" y="528.70" width="12.7" height="76.80" fill="#ffffff" stroke="#222" stroke-width="0.8"/><rect x="22.6" y="606.80" width="12.7" height="76.40" fill="#ffffff" stroke="#222" stroke-width="0.8"/><rect x="280.3" y="528.70" width="12.7" height="76.80" fill="#ffffff" stroke="#222" stroke-width="0.8"/><rect x="280.3" y="606.80" width="12.7" height="76.40" fill="#ffffff" stroke="#222" stroke-width="0.8"/><path d="M110.60,529.3V683" stroke="#8a8a8a" stroke-width="0.6"/><path d="M186.10,529.3V683" stroke="#8a8a8a" stroke-width="0.6"/><path d="M369.60,529.3V683" stroke="#8a8a8a" stroke-width="0.6"/><path d="M445.10,529.3V683" stroke="#8a8a8a" stroke-width="0.6"/>
<text x="37.10" y="526.6" font-size="7.0" textLength="72.00" lengthAdjust="spacingAndGlyphs"><tspan fill="#e42226" stroke="#e42226" stroke-width="0.14">VEC</tspan><tspan fill="#111" stroke="#111" stroke-width="0.14"> • </tspan><tspan fill="#2630d4" stroke="#2630d4" stroke-width="0.14">DAPI</tspan><tspan fill="#111" stroke="#111" stroke-width="0.14"> • </tspan><tspan fill="#22c83c" stroke="#22c83c" stroke-width="0.14">Collagen III</tspan></text>
<text x="119.90" y="526.6" font-size="7.0" textLength="57.00" lengthAdjust="spacingAndGlyphs"><tspan fill="#2630d4" stroke="#2630d4" stroke-width="0.14">DAPI</tspan><tspan fill="#111" stroke="#111" stroke-width="0.14"> • </tspan><tspan fill="#22c83c" stroke="#22c83c" stroke-width="0.14">Collagen III</tspan></text>
<text x="206.65" y="526.6" font-size="7.0" textLength="34.50" lengthAdjust="spacingAndGlyphs"><tspan fill="#22c83c" stroke="#22c83c" stroke-width="0.14">Collagen III</tspan></text>
<text x="296.40" y="526.6" font-size="7.0" textLength="70.00" lengthAdjust="spacingAndGlyphs"><tspan fill="#e42226" stroke="#e42226" stroke-width="0.14">VEC</tspan><tspan fill="#111" stroke="#111" stroke-width="0.14"> • </tspan><tspan fill="#2630d4" stroke="#2630d4" stroke-width="0.14">ERG</tspan><tspan fill="#111" stroke="#111" stroke-width="0.14"> • </tspan><tspan fill="#22c83c" stroke="#22c83c" stroke-width="0.14">Lamininβ1</tspan></text>
<text x="379.90" y="526.6" font-size="7.0" textLength="55.00" lengthAdjust="spacingAndGlyphs"><tspan fill="#2630d4" stroke="#2630d4" stroke-width="0.14">ERG</tspan><tspan fill="#111" stroke="#111" stroke-width="0.14"> • </tspan><tspan fill="#22c83c" stroke="#22c83c" stroke-width="0.14">Lamininβ1</tspan></text>
<text x="466.90" y="526.6" font-size="7.0" textLength="32.00" lengthAdjust="spacingAndGlyphs"><tspan fill="#22c83c" stroke="#22c83c" stroke-width="0.14">Lamininβ1</tspan></text>
<text transform="translate(32.10,567.70) rotate(-90)" font-size="8.8" text-anchor="middle" fill="#111" stroke="#111" stroke-width="0.18" textLength="35.0" lengthAdjust="spacingAndGlyphs">No Injury</text>
<text transform="translate(32.10,646.50) rotate(-90)" font-size="8.8" text-anchor="middle" fill="#111" stroke="#111" stroke-width="0.18" textLength="56.0" lengthAdjust="spacingAndGlyphs">Injury - 1 week</text>
<text transform="translate(289.80,567.70) rotate(-90)" font-size="8.8" text-anchor="middle" fill="#111" stroke="#111" stroke-width="0.18" textLength="35.0" lengthAdjust="spacingAndGlyphs">No Injury</text>
<text transform="translate(289.80,646.50) rotate(-90)" font-size="8.8" text-anchor="middle" fill="#111" stroke="#111" stroke-width="0.18" textLength="56.0" lengthAdjust="spacingAndGlyphs">Injury - 1 week</text>
</g>
</svg>
</body>
</html>
